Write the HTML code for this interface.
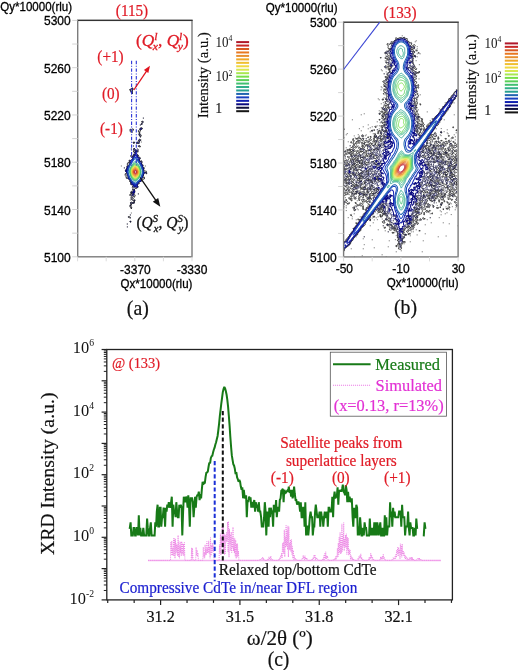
<!DOCTYPE html>
<html lang="en"><head><meta charset="utf-8"><title>XRD reciprocal space maps</title>
<style>
html,body{margin:0;padding:0;background:#fff}
body{width:520px;height:670px;overflow:hidden}
svg{display:block}
.sf{font-family:"Liberation Serif", "Times New Roman", serif}
.ss{font-family:"Liberation Sans", Arial, sans-serif}
</style></head><body>
<svg width="520" height="670" viewBox="0 0 520 670">
<rect width="520" height="670" fill="#fff"/>
<g id="mapA"><path d="M132.3 94.0l-.5-1 -.5-.3 -.6-.7 .2-1 -.6-.6 -.9-.4 .9-1 1-.1 .7-.9 .3-.3 .3 .3 .7 1 -.7 1 -.2 1 0 1 .2 1zM143.3 122.2l-1 .1 -1-.3 1-1 1 .7 .2 .3zM142.3 124.2l-1 .3 -.5-.5 .5-.4 1 .1 .2 .3zM140.3 137.2l-.3-.2 .2-1 -.9-.5 -.4-.5 .2-1 .2-1 -.3-1 -.7-.7 -.2-.3 .2-.2 1-.6 .3-.2 .3-1 .3-1 .1 0 1-.3 1 .3 0 1 -1 .5 -.9 .5 .1 1 -.2 0 -.7 1 .3 1 -.2 1 .6 .6 1 .4 -.3 1 -.4 1zM132.3 132.2l-1-.2 -.8 0 -.2-.1 -.1-.9 -.3-1 .4-1 1 .9 1-.9 0-.2 .2 .2 .8 0 .2 1 -.2 .2 -1-.2 -1 1 1 .7 .2 .3zM139.3 143.5l-1 0 -1-.2 -1-.1 -.3-.2 .3-.3 1-.1 .9-.6 -.3-1 .4-.1 .7-.9 .3-1 1 .7 .9 .3 -.9 .4 -.5 .6 -.4 1 0 1zM134.3 143.2l-1 0 -.2-.2 .2-1 .1 0 .9 0 .3 0 0 1zM139.3 147.0l-1-1 -.4 0 .4 0 1-.4 1 .4 0 1zM134.3 197.2l-.3-.2 -.7-.9 -1 0 -.1-.1 -.9-.9 -1 .1 -.9-.2 .9-.3 1-.7 -.9-1 .6-1 .3-.9 1 .8 1-.7 .2-.2 -.2-.3 -1-.7 .9-1 -.6-1 -.3-.5 -.3-.5 .3 0 .7-1 0-1 -.7-.6 -1 .6 -1-1 .7-1 -.7-.7 -.3-.3 -.5-1 .5-1 -.7-.5 -1-.4 -.1-.1 -.9-.9 -1 .1 -.2-.2 .2-1 -.7-1 -.3-.4 0-.6 -.3-1 .3-.3 1 .2 .7-.9 -.7-.8 -.3-.2 -.7-.7 -.3-.3 .3-.4 .5-.6 .4-1 .1-.1 .7-.9 -.1-1 .2-1 .2-.4 .6-.6 -.6-.6 -.2-.4 .2-.3 .7-.7 .3-.9 1 .9 .5-1 -.5-.6 -.3-.4 .3-1 1 .5 .8-.5 .2-.1 1-.5 .4-.4 .1-1 0-1 -.5-1 -1 .9 -1-.9 1-.9 1 .9 1-.1 .4-.9 -.1-1 .7-.1 .3 .1 .7 .2 .2-.2 -.2-.2 -.5-.8 -.5-.9 -.9-.1 .2-1 .3-1 -.6-1 1-1 .5 1 .5 .5 .5 .5 .5 .5 1-.1 .5 .6 .5 1 -1 0 -.1 0 -.9-.4 -.4 .4 .4 .7 .1 .3 .5 1 .4 .6 1 .4 .1 1 -.1 .2 -.4 .8 .4 .3 1-.2 1 .6 .3 .3 -.3 .3 -.5 .7 -.4 1 .4 1 .5 .5 .4-.5 .6-.4 .4 .4 .5 1 -.4 1 -.2 1 .7 .6 1 .4 -.5 1 0 1 .5 .6 1 .1 .3 .3 -.3 0 -.5 1 -.1 1 .6 1 1 0 0 .1 1 0 .1 .9 .4 1 -.1 1 -.4 0 -.7-1 -.3-1 -.4 1 -.6 .5 -.7 .5 0 1 -.2 1 -.1 .1 -.4 .9 .4 .9 1-.8 .2 .9 -.2 1 -.1 0 -.9 .3 -1-.2 -.8 .9 0 1 -.2 .3 -1 .3 -1 .1 -.4 .3 .4 .9 .3 .1 -.3 .5 -.3 .5 -.7 .1 -1 .6 -.3 .3 .3 .3 .5 .7 .5 1 -1 1 -1 .6 -1-.1 -.9 .5 .2 1 .2 1 .1 1 -.5 1 -.1 .2 -.6 .8 .6 .9 .9 .1 -.2 1 -.5 1zM132.8 194.0l-.1-1 -.4-.8 -.6 .8 -.4 1 1 .4zM132.3 200.3l-.4-.3 -.6-.6 -.3-.4 .2-1 -.3-1 .4-.5 .5 .5 .5 .6 1 .4 -.2 1 -.4 1zM131.3 209.0l-.3-1 -.7-1 -.4 0 .1-1 .1-1 .2-.4 1-.6 -1-.7 -.2-.3 .2-.3 1-.7 1 .7 1 0 1-.7 -.9-1 .5-1 .4-.3 1 .3 -.7 1 -.3 1 .2 1 -.2 .2 -1 0 -1 .1 -1 .7 .4 1 -.4 .1 -.6 .9 .6 .9 .5 .1 -.2 1zM129.3 218.0l-1-.8 -.2-.2 .2-.3 1-.2 1 .5zM130.3 222.3l-.3-.3 .1-1 .2-.2 .3 .2 .6 1z" fill="none" stroke="#161616" stroke-width="0.77" stroke-linejoin="round"/><path d="M142.9 118.2h.8M139.9 125.0h.8M140.9 142.0h.8M133.1 146.0h.8M130.9 149.0h.8M136.9 149.0h.8M138.0 150.0h.8M128.8 163.9h.8M120.9 166.0h.8M144.9 166.0h.8M123.9 167.8h.8M126.8 177.1h.8M134.9 187.0h.8M137.9 193.8h.8M129.9 200.0h.8M130.9 213.0h.8M129.9 214.9h.8M129.9 217.8h.8M126.8 224.0h.8M126.9 226.8h.8" fill="none" stroke="#161616" stroke-width="0.8"/><path d="M131.3 92.5l-.4-.5 .2-1 -.8-.9 -.3-.1 .3-.3 1-.4 .3-.3 .6-1 .1-.1 .1 .1 .4 1 -.4 1 -.1 .4 -.5 .6 .3 1zM143.3 122.0l-1 .1 -.2-.1 .2-.2 1 .2zM142.3 124.0l-1 .2 -.2-.2 .2-.2 1 .1 0 .1zM141.3 129.3l-1 .3 -.2-.6 .2-.6 .6-.4 .4-.1 .3 .1 .3 1zM140.3 135.4l-1-.1 -.2-.3 .1-1 .1-.3 .1 .3 .9 .9 .3 .1zM139.3 141.6l-.6-.6 .5-1 .1-.3 1 .2 .2 .1 -.2 .1 -.7 .9zM134.3 143.0l-1 0 0-.2 1 0 .1 .2zM138.3 143.3l-1-.2 -1-.1 1-.1 1-.6 .7 .7zM135.3 150.9l-1-.5 -.1-.4 -.4-1 .5-.5 .3 .5 .7 .7 .3 .3zM137.3 151.6l-1-.3 -.9-.3 .9-.3 1 0 .3 .3zM135.3 153.4l-.3-.4 -.3-1 .6-.9 .3 .9 .4 1zM137.3 187.6l-1 0 -.3-.6 -.7-.4 -.7 .4 -.3 .5 -1-.1 -.4-.4 .3-1 .1-1 -1-.8 -1 .3 -.5-.5 .5-.9 0-.1 1-1 -1 1 -1-.9 -.1-.1 .1-.5 .1-.5 -.1-.7 0-.3 -1-.7 -.7-.3 -.3-.3 -.6-.7 .6-.8 .1-.2 -.1-.3 -1-.6 -.4-.1 .4-.8 0-.2 .1-1 -.1-.3 -.1-.7 -.9-1 -1-.9 -.1-.1 .1-.1 .7-.9 .3-.7 .6 .7 .4 .5 .2-.5 -.2-.3 -.8-.7 .8-1 -.2-1 .1-1 .1-.1 .9 .1 .1 0 1-1 .4-1 .5-1 -.1-1 -.8-.9 -.1-.1 .1-.2 1-.1 1-.3 .2-.4 .8-.4 .7-.6 -.1-1 .1-1 .3-.7 .7-.3 -.1-1 .4-.7 1 .2 .5-.5 .5-.8 .4 .8 .6 .8 .3 .2 .4 1 -.4 1 .7 .6 1 0 1 .4 0 .1 -.7 .9 -.3 .7 -.3 .3 .3 .3 .3 .7 .7 .8 .7-.8 .3-.2 .2 .2 .2 1 -.1 1 -.3 1 1 .9 .4 .1 -.1 1 -.1 1 .8 .8 .4 .2 -.1 1 -.2 1 .4 1 .2 1 .3 .3 .3 .7 -.3 .3 -1 .7 .1 1 -.1 .4 -.3 .6 -.4 1 -.3 .7 -.3 .3 .1 1 -.8 .9 -.2 .1 .2 .4 .1 .6 -.1 .1 -1 .3 -1 .1 -.7 .5 .1 1 -.4 .5 -.3 .5 -.7 .4 -.5 .6 .5 .6 .3 .4 .3 1zM133.3 195.6l-1 0 -.6-.6 .6-.3 .8-.7 -.1-1 -.5-1 .8-.5 .6-.5 -.6-.6 -.5-.4 .5-.6 1 .2 .1 .4 .2 1 .1 1 -.4 .9 -.2 .1 -.7 1 .5 1zM131.3 193.2l-.2-.2 .1-1 .1-.2 .4 .2 -.3 1zM134.3 201.3l-.2-.3 .1-1 .1-.1 .2 .1 -.1 1zM134.3 203.0l-1 .1 -1 0 -1 .2 -1-.3 1-.3 1 .2 1 0 1-.1 0 .2zM130.3 206.2l-.1-.2 .1-1 0-.1 .2 .1 -.1 1zM130.3 222.1l-.1-.1 .1-1 .2 1z" fill="none" stroke="#10103c" stroke-width="0.77" stroke-linejoin="round"/><path d="M131.9 93.0h.8M142.9 118.0h.8M139.9 125.0h.8M130.0 130.0h.8M132.9 130.0h.8M137.9 131.0h.8M131.9 132.0h.8M138.9 132.0h.8M139.9 137.0h.8M132.9 146.0h.8M138.9 146.1h.8M130.9 149.0h.8M136.9 149.0h.8M137.9 150.0h.8M130.9 156.0h.8M127.9 163.0h.8M126.9 164.0h.8M128.1 165.1h.8M123.9 168.0h.8M145.9 173.0h.8M124.9 174.0h.8M126.0 175.0h.8M125.9 178.0h.8M143.9 178.0h.8M134.9 188.0h.8M137.9 194.0h.8M129.9 195.0h.8M130.9 197.1h.8M133.9 197.0h.8M131.9 198.1h.8M131.0 198.9h.8M131.9 200.0h.8M130.9 208.0h.8M129.9 215.0h.8M127.9 217.0h.8M129.9 218.0h.8M126.9 224.0h.8M126.9 227.0h.8" fill="none" stroke="#10103c" stroke-width="0.8"/><path d="M141.3 129.0l-1 .1 0-.1 0-.1 1-.2 .1 .3zM137.3 151.1l-1-.1 -.1 0 .1 0 1 0zM135.3 153.0l-.1-1 .1-.1 0 .1 .1 1zM137.3 187.1l-.5-.1 -.5-.2 -1-.5 -1 .4 -.7-.7 0-1 .7-1 -.1 0 -.9 .5 -.9-.5 -.1-.1 -.6-.9 .6-.6 .3-.4 -.3-.4 -.8 .4 -.2 .2 -.3-.2 -.2-1 -.2-1 -.3-.4 -1-.5 -.2-.1 -.8-.8 -.2-.2 .2-.2 .6-.8 -.5-1 -.1 0 -.6-1 -.1-1 -.1-1 -.2-.2 -.7-.8 .7-1 .4-1 -.4-.7 -.4-.3 .4-.5 .4-.5 -.4-.8 0-.2 0-.2 1-.2 .5-.6 .5-.5 .4-.5 .2-1 .4-.7 .7-.3 -.4-1 .7-.8 .3-.2 .3-1 .4-.2 .9-.8 -.1-1 .1-1 .1-.2 1-.4 .3-.4 -.3-.5 -.2-.5 .2-.3 1 .1 .4 .2 .6 .4 1 0 .3 .6 -.2 1 .9 .9 .6 .1 .4 .6 0 .4 0 .1 -1 .9 .9 1 .1 .1 .7 .9 .2 1 .1 .1 .7 .9 .3 .5 .6 .5 .4 .6 .1 .4 -.1 1 .8 1 .2 .5 .1 .5 -.1 .5 -.2 .5 .1 1 .1 .8 0 .2 1 .9 .1 .1 -.1 0 -1 .6 -.4 .4 .1 1 -.5 1 -.1 1 -.1 .2 -.9 .8 .3 1 -.4 .4 -.7 .6 .3 1 -.6 .2 -1 .1 -1 .7 0 .3 -.2 .7 -.6 1 -.2 .1 -.8 .9 .8 .9 .1 .1 0 1zM126.3 171.4l-.5-.4 .5-1 0-.1 .1 .1 .8 1zM133.3 193.3l-.1-.3 -.3-1 .4-.2 .9-.8 .1-.4 .1 .4 .1 1 -.2 .5 -.8 .5zM133.3 195.1l-1 0 -.1-.1 .1 0 1-.3 .1 .3z" fill="none" stroke="#080880" stroke-width="1.01" stroke-linejoin="round"/><path d="M131.9 89.0h.8M130.9 90.1h.8M131.0 91.9h.8M129.9 130.0h.8M138.9 135.0h.8M138.9 141.0h.8M137.8 143.0h.8M138.9 146.0h.8M133.9 149.0h.8M134.9 150.0h.8M135.9 154.0h.8M130.0 161.1h.8M140.8 162.9h.8M145.9 173.0h.8M131.0 184.0h.8M132.9 190.0h.8" fill="none" stroke="#080880" stroke-width="0.8"/><path d="M136.3 184.6l-1 .3 -.5-.9 -.5-.5 -1 .5 -1-.8 -.1-.2 .1-.1 .5-.9 -.5-.7 -1-.2 0-.1 -.4-1 -.6-.9 -.3-.1 -.7-.5 -.4-.5 .4-.8 .1-.2 -.1-.2 -.4-.8 -.6-.6 -.3-.4 -.1-1 -.1-1 -.5-.6 -.4-.4 .4-.5 .3-.5 .4-1 -.6-1 .6-1 .3-.7 .3-.3 .7-1 .7-1 .1-1 .2-.3 1-.4 .3-.3 -.3-1 1-.6 .2-.4 -.1-1 .9-.6 .4-.4 -.4-1 .8-1 .2-.1 .7-.9 .3-.6 1 .5 .5 .1 -.1 1 .6 .4 .8 .6 -.1 1 -.7 .9 0 .1 1 .5 .5 .5 .5 .9 .1 .1 .4 1 .5 .6 .4 .4 .5 1 .1 .3 .4 .7 .2 1 .4 .9 .1 .1 .2 1 0 1 .1 1 .2 1 .4 .7 .3 .3 -.3 .2 -.9 .8 0 1 -.1 .4 -.3 .6 -.5 1 -.2 .2 -.3 .8 .2 1 -.9 .6 -.2 .4 -.1 1 -.7 .1 -1 .6 -.4 .3 -.5 1 -.1 .2 -.5 .8zM136.3 186.2l-1-.2 -1 .1 -.1-.1 -.2-1 .3-.5 .9 .5 .1 .9 1-.4 .4 .5z" fill="none" stroke="#1020b0" stroke-width="1.01" stroke-linejoin="round"/><path d="M130.9 92.0h.8M133.7 192.0h.8" fill="none" stroke="#1020b0" stroke-width="0.8"/><path d="M135.3 184.0l-.3 0 -.7-.1 -.9-.9 -.1-.1 -.8-.9 -.2-.2 -.7-.8 -.3-.4 -.4-.6 -.6-.8 -.1-.2 -.6-1 -.3-.7 -.1-.3 -.5-1 -.3-1 -.1-.5 -.1-.5 -.4-1 -.2-1 .1-1 .3-1 .3-1 .3-1 .3-1 .4-1 .5-1 .5-.9 .1-.1 .6-1 .3-.5 .3-.5 .6-1 .1-.1 .6-.9 .4-.7 .2-.3 .7-1 .1-.1 1-.6 1 .4 .2 .3 .7 1 .1 .2 .4 .8 .6 .9 .1 .1 .6 1 .3 .5 .3 .5 .6 1 .1 .1 .5 .9 .4 1 .1 .1 .4 .9 .3 1 .3 .8 .1 .2 .3 1 .2 1 0 1 -.1 1 -.3 1 -.2 .5 -.2 .5 -.3 1 -.4 1 -.1 .3 -.3 .7 -.6 1 -.1 .2 -.6 .8 -.4 .5 -.5 .5 -.5 .6 -.5 .4 -.5 .6 -.5 .4 -.5 .5 -.9 .5z" fill="none" stroke="#1840c0" stroke-width="1.01" stroke-linejoin="round"/><path d="M135.3 183.0l-.1 0 -.9-.2 -1-.8 -1-.9 -.1-.1 -.8-1 -.1-.1 -.6-.9 -.4-.6 -.2-.4 -.5-1 -.3-.7 -.1-.3 -.4-1 -.2-1 -.3-1 0-.2 -.1-.8 0-1 .1-.4 .1-.6 .3-1 .3-1 .3-.9 0-.1 .4-1 .6-1 0-.1 .6-.9 .4-.6 .3-.4 .7-1 .7-1 .3-.5 .4-.5 .6-.9 .2-.1 .8-.4 .8 .4 .2 .1 .7 .9 .3 .4 .4 .6 .6 .9 .1 .1 .6 1 .3 .3 .4 .7 .6 1 .5 1 .4 1 .1 .2 .3 .8 .3 1 .3 1 .1 .5 .1 .5 0 1 -.1 .9 0 .1 -.2 1 -.3 1 -.4 1 -.1 .3 -.3 .7 -.4 1 -.3 .5 -.3 .5 -.7 .9 -.1 .1 -.9 .9 -.1 .1 -.9 .8 -.2 .2 -.8 .6 -1 .4z" fill="none" stroke="#2064b0" stroke-width="1.01" stroke-linejoin="round"/><path d="M135.8 181.1l-.5 .2 -.5-.1 -.3-.2 -.2-.1 -.5-.3 -.2-.1 -.3-.3 -.3-.2 -.2-.2 -.3-.3 -.2-.3 -.2-.2 -.3-.5 -.3-.5 -.2-.4 -.1-.1 -.2-.5 -.2-.4 0-.1 -.2-.5 -.2-.5 -.1-.4 0-.1 -.2-.5 -.1-.5 -.1-.5 -.1-.2 -.1-.3 -.1-.5 -.1-.5 0-.5 0-.5 .1-.5 .1-.5 .1-.3 .1-.2 .1-.5 .2-.5 .1-.3 .1-.2 .2-.5 .2-.5 .2-.5 .3-.5 .3-.5 .2-.3 .1-.2 .4-.5 0-.1 .3-.4 .2-.2 .2-.3 .3-.3 .1-.2 .4-.4 .1-.1 .4-.5 .5-.5 .5-.2 .4 .2 .1 .1 .4 .4 .1 .1 .3 .4 .2 .2 .2 .3 .3 .3 .1 .2 .4 .4 0 .1 .5 .5 .4 .5 .1 .2 .2 .3 .3 .4 0 .1 .3 .5 .2 .4 0 .1 .2 .5 .2 .5 .1 .4 0 .1 .1 .5 .2 .5 .1 .5 .1 .5 0 .1 .1 .4 .1 .5 -.1 .5 0 .5 -.1 .4 0 .1 -.1 .5 -.1 .5 -.1 .5 -.1 .5 -.1 .2 -.1 .3 -.2 .5 -.2 .5 -.2 .5 -.3 .5 -.3 .5 -.2 .3 -.2 .2 -.3 .5 -.4 .5 -.1 .1 -.4 .4 -.1 .1 -.5 .4 -.5 .3 -.3 .2z" fill="none" stroke="#28a090" stroke-width="0.90" stroke-linejoin="round"/><path d="M135.3 180.6l-.4-.1 -.1 0 -.5-.2 -.5-.3 -.5-.4 -.2-.1 -.3-.3 -.2-.2 -.3-.4 -.1-.1 -.3-.5 -.1-.2 -.2-.3 -.2-.5 -.1-.1 -.2-.4 -.2-.5 -.1-.3 -.1-.2 -.1-.5 -.1-.5 -.2-.5 0-.2 -.1-.3 -.1-.5 -.1-.5 -.1-.5 0-.5 0-.5 .1-.5 .1-.5 .1-.5 .1-.2 .1-.3 .2-.5 .2-.5 0-.1 .2-.4 .2-.5 .1-.2 .2-.3 .3-.5 .3-.5 .2-.3 .2-.2 .3-.4 .1-.1 .4-.5 .5-.5 .5-.5 .5-.4 .1-.1 .4-.1 .3 .1 .2 .1 .4 .4 .1 .1 .4 .4 .1 .1 .4 .4 .1 .1 .4 .4 .1 .1 .3 .4 .2 .2 .2 .3 .3 .4 .1 .1 .3 .5 .1 .3 .1 .2 .2 .5 .2 .5 .1 .5 .2 .5 .1 .5 .1 .4 0 .1 .1 .5 .1 .5 .1 .5 0 .5 -.1 .5 -.1 .5 -.1 .5 0 .3 0 .2 -.1 .5 -.2 .5 -.1 .5 -.1 .2 -.1 .3 -.2 .5 -.2 .3 -.1 .2 -.3 .5 -.1 .2 -.2 .3 -.3 .4 -.1 .1 -.4 .5 -.5 .5 -.1 0 -.4 .4 -.2 .1 -.3 .2 -.5 .2 -.3 .1z" fill="none" stroke="#30b088" stroke-width="0.90" stroke-linejoin="round"/><path d="M136.3 179.6l-.5 .2 -.5 .1 -.5 0 -.5-.2 -.3-.2 -.2-.1 -.5-.3 -.1-.1 -.4-.4 -.1-.1 -.3-.5 -.1-.1 -.3-.4 -.2-.4 -.1-.1 -.2-.5 -.2-.4 0-.1 -.2-.5 -.2-.5 -.1-.5 -.1-.5 -.1-.5 -.1-.5 -.1-.5 -.1-.4 0-.1 0-.5 0-.5 .1-.5 .1-.5 .1-.5 .2-.5 0-.1 .1-.4 .2-.5 .2-.4 .1-.1 .2-.5 .2-.3 .1-.2 .3-.5 .1-.1 .3-.4 .2-.2 .3-.3 .2-.3 .3-.2 .2-.2 .3-.3 .2-.1 .5-.4 .5-.2 .4 .2 .1 0 .5 .4 .1 .1 .4 .3 .2 .2 .3 .3 .2 .2 .3 .3 .2 .2 .3 .4 .1 .1 .3 .5 .1 .2 .2 .3 .2 .5 .1 .2 .1 .3 .2 .5 .1 .5 .1 .3 .1 .2 .1 .5 .1 .5 .1 .5 0 .5 0 .5 0 .5 -.1 .5 -.1 .5 -.1 .5 -.1 .5 0 .1 -.1 .4 -.2 .5 -.2 .5 0 .1 -.2 .4 -.3 .5 0 .1 -.3 .4 -.2 .3 -.2 .2 -.3 .4 -.1 .1 -.4 .4 -.1 .1 -.4 .3 -.4 .2z" fill="none" stroke="#40c070" stroke-width="0.90" stroke-linejoin="round"/><path d="M136.3 179.0l-.5 .2 -.5 .1 -.5 0 -.5-.2 -.2-.1 -.3-.2 -.5-.3 -.5-.5 -.3-.5 -.2-.2 -.2-.3 -.2-.5 -.1-.1 -.2-.4 -.2-.5 -.1-.4 0-.1 -.2-.5 -.1-.5 -.1-.5 -.1-.5 -.1-.5 -.1-.5 0-.5 0-.5 .1-.5 .1-.4 0-.1 .2-.5 .1-.5 .2-.5 .2-.5 .3-.5 0-.1 .2-.4 .3-.4 .1-.1 .4-.5 0-.1 .4-.4 .1-.1 .5-.4 .5-.4 .2-.1 .3-.2 .5-.1 .5 .1 .3 .2 .2 .1 .5 .4 .5 .4 .1 .1 .4 .4 .1 .1 .3 .5 .1 .1 .2 .4 .3 .5 .2 .5 .2 .5 .1 .2 .1 .3 .1 .5 .1 .5 .2 .5 0 .3 0 .2 .1 .5 0 .5 -.1 .5 0 .3 0 .2 -.1 .5 -.1 .5 -.1 .5 -.1 .5 -.1 .2 -.1 .3 -.2 .5 -.2 .4 -.1 .1 -.3 .5 -.1 .2 -.2 .3 -.3 .3 -.1 .2 -.4 .4 -.2 .1 -.3 .2 -.4 .3z" fill="none" stroke="#58d058" stroke-width="0.90" stroke-linejoin="round"/><path d="M136.3 178.5l-.5 .2 -.5 .1 -.5-.1 -.5-.1 -.1-.1 -.4-.2 -.4-.3 -.1-.1 -.3-.4 -.2-.2 -.2-.3 -.3-.4 0-.1 -.3-.5 -.2-.5 -.2-.5 -.1-.5 -.2-.5 0-.2 -.1-.3 -.1-.5 -.1-.5 0-.5 -.1-.5 .1-.5 .1-.5 .1-.5 .1-.5 .2-.5 .2-.5 .1-.3 .1-.2 .3-.5 .1-.2 .2-.3 .3-.4 .1-.1 .4-.5 .5-.4 .2-.1 .3-.2 .5-.3 .1 0 .4-.1 .5 .1 .5 .2 .4 .3 .1 .1 .5 .4 .4 .5 .1 .1 .3 .4 .2 .3 .1 .2 .2 .5 .2 .4 .1 .1 .1 .5 .2 .5 .1 .4 0 .1 .1 .5 .1 .5 .1 .5 0 .5 -.1 .5 0 .5 -.1 .5 -.1 .4 0 .1 -.1 .5 -.2 .5 -.2 .5 0 .1 -.2 .4 -.2 .5 -.1 .1 -.3 .4 -.2 .3 -.2 .2 -.3 .3 -.2 .2 -.3 .2 -.5 .3z" fill="none" stroke="#78e048" stroke-width="0.90" stroke-linejoin="round"/><path d="M136.3 178.0l-.5 .2 -.5 .1 -.5-.1 -.5-.2 -.5-.3 -.3-.2 -.2-.2 -.2-.3 -.3-.3 -.1-.2 -.3-.5 -.1-.2 -.1-.3 -.2-.5 -.2-.5 -.1-.5 -.1-.5 -.1-.5 -.1-.5 -.1-.5 0-.1 0-.4 0-.3 0-.2 .1-.5 .1-.5 .1-.5 .2-.5 .2-.5 .3-.5 .3-.5 .2-.3 .2-.2 .3-.4 .1-.1 .4-.3 .3-.2 .2-.1 .5-.3 .5-.1 .5 .1 .5 .2 .3 .2 .2 .1 .4 .4 .1 .1 .3 .4 .2 .2 .2 .3 .3 .5 0 .1 .2 .4 .2 .5 .1 .3 .1 .2 .1 .5 .1 .5 .1 .5 0 .5 0 .5 0 .5 0 .5 -.1 .5 -.1 .5 -.2 .5 0 .1 -.1 .4 -.2 .5 -.2 .4 -.1 .1 -.2 .5 -.2 .2 -.2 .3 -.3 .3 -.2 .2 -.3 .2 -.5 .3z" fill="none" stroke="#a8e850" stroke-width="0.90" stroke-linejoin="round"/><path d="M136.3 177.5l-.5 .2 -.5 .1 -.5-.1 -.5-.2 -.5-.3 -.2-.2 -.3-.3 -.1-.2 -.4-.5 -.2-.5 -.3-.5 0-.1 -.1-.4 -.2-.5 -.1-.5 -.1-.4 0-.1 -.1-.5 -.1-.5 0-.5 0-.5 .1-.5 .1-.4 0-.1 .2-.5 .2-.5 .1-.3 .1-.2 .3-.5 .1-.2 .2-.3 .3-.3 .2-.2 .3-.2 .4-.3 .1-.1 .5-.2 .5-.1 .5 .1 .5 .2 .2 .1 .3 .2 .3 .3 .2 .2 .2 .3 .3 .4 0 .1 .3 .5 .2 .4 0 .1 .2 .5 .2 .5 .1 .5 .1 .5 0 .5 0 .5 0 .5 -.1 .5 0 .2 -.1 .3 -.1 .5 -.1 .5 -.2 .5 -.2 .5 -.2 .5 -.1 .1 -.3 .4 -.2 .3 -.3 .2 -.2 .2 -.5 .3z" fill="none" stroke="#d8e850" stroke-width="0.90" stroke-linejoin="round"/><path d="M136.3 177.0l-.5 .2 -.5 .1 -.5-.1 -.4-.2 -.1-.1 -.5-.3 -.1-.1 -.4-.5 -.3-.5 -.2-.3 -.1-.2 -.2-.5 -.1-.5 -.1-.2 -.1-.3 -.1-.5 -.1-.5 -.1-.5 0-.5 .1-.5 0-.5 .2-.5 .1-.4 0-.1 .2-.5 .3-.5 .3-.5 .2-.2 .3-.3 .2-.2 .5-.3 .5-.2 .5-.1 .5 0 .5 .2 .1 .1 .4 .3 .2 .2 .3 .4 .1 .1 .3 .5 .1 .2 .2 .3 .2 .5 .1 .4 0 .1 .2 .5 .1 .5 0 .5 0 .5 0 .5 -.1 .5 -.1 .5 -.1 .5 -.2 .5 -.2 .5 -.1 .3 -.1 .2 -.3 .5 -.1 .2 -.3 .3 -.2 .2 -.5 .3z" fill="none" stroke="#f0d840" stroke-width="0.90" stroke-linejoin="round"/><path d="M135.8 176.7l-.5 0 -.5-.1 -.3-.1 -.2-.1 -.5-.4 -.4-.5 -.1-.2 -.2-.3 -.2-.5 -.1-.2 -.1-.3 -.1-.5 -.2-.5 -.1-.5 0-.2 0-.3 0-.5 0-.5 0-.1 .1-.4 .1-.5 .2-.5 .1-.3 .1-.2 .3-.5 .1-.1 .4-.4 .1-.1 .5-.4 .5-.2 .5-.1 .5 .1 .5 .2 .5 .4 .1 .1 .4 .5 .3 .5 .2 .5 .2 .5 .1 .5 .2 .5 0 .4 0 .1 0 .5 0 .5 -.1 .5 -.1 .5 -.1 .5 -.2 .5 -.2 .5 -.3 .5 -.4 .5 -.1 .1 -.5 .4z" fill="none" stroke="#f0c030" stroke-width="0.90" stroke-linejoin="round"/><path d="M135.8 176.2l-.5 0 -.5-.1 -.2-.1 -.3-.2 -.3-.3 -.2-.2 -.2-.3 -.3-.5 -.2-.5 -.2-.5 -.1-.3 0-.2 -.1-.5 -.1-.5 0-.5 0-.5 .1-.5 .1-.3 .1-.2 .2-.5 .2-.4 0-.1 .4-.5 .1-.1 .5-.4 .1 0 .4-.2 .5-.1 .5 .1 .4 .2 .1 .1 .5 .4 .3 .5 .2 .3 .1 .2 .2 .5 .2 .5 .1 .5 .1 .5 0 .5 0 .5 -.1 .5 -.1 .4 0 .1 -.2 .5 -.2 .5 -.1 .2 -.2 .3 -.3 .5 -.5 .4 -.1 .1z" fill="none" stroke="#f0a828" stroke-width="0.90" stroke-linejoin="round"/><path d="M135.8 175.6l-.5 .1 -.5-.2 -.1 0 -.4-.3 -.2-.2 -.3-.4 -.1-.1 -.2-.5 -.2-.4 -.1-.1 -.1-.5 -.1-.5 -.1-.5 0-.5 .1-.5 .1-.5 .1-.5 .1-.1 .2-.4 .3-.5 .5-.4 .2-.1 .3-.2 .5-.1 .5 .1 .3 .2 .2 .1 .3 .4 .2 .2 .2 .3 .3 .5 0 .1 .1 .4 .2 .5 .1 .5 0 .5 0 .5 -.1 .5 -.2 .5 -.1 .4 -.1 .1 -.2 .5 -.2 .3 -.2 .2 -.3 .3 -.3 .2z" fill="none" stroke="#e89030" stroke-width="0.90" stroke-linejoin="round"/><path d="M135.8 175.0l-.5 .1 -.4-.1 -.1 0 -.5-.4 -.1-.1 -.3-.5 -.1-.1 -.2-.4 -.1-.5 -.2-.5 0-.2 0-.3 0-.5 0-.2 0-.3 .2-.5 .2-.5 .1-.2 .2-.3 .3-.3 .3-.2 .2-.1 .5-.1 .5 .1 .1 .1 .4 .3 .2 .2 .3 .4 0 .1 .3 .5 .1 .5 .1 .4 0 .1 .1 .5 -.1 .5 0 .1 -.1 .4 -.1 .5 -.3 .5 -.3 .5 -.2 .2 -.4 .3z" fill="none" stroke="#e87820" stroke-width="0.90" stroke-linejoin="round"/><path d="M135.3 174.5l-.1 0 -.4-.1 -.4-.4 -.1-.1 -.2-.4 -.3-.5 0-.1 -.1-.4 -.1-.5 0-.5 .1-.5 .1-.3 .1-.2 .3-.5 .1-.2 .4-.3 .1 0 .5-.1 .5 .1 .5 .4 0 .1 .3 .5 .2 .4 0 .1 .2 .5 0 .5 0 .5 -.2 .5 0 .1 -.2 .4 -.3 .5 -.5 .4 -.3 .1z" fill="none" stroke="#d85820" stroke-width="0.90" stroke-linejoin="round"/><path d="M135.8 173.8l-.5 .1 -.5-.2 -.2-.2 -.3-.4 -.1-.1 -.1-.5 -.1-.5 0-.5 .2-.5 .1-.3 .1-.2 .4-.4 .3-.1 .2-.1 .2 .1 .3 .1 .3 .4 .2 .2 .1 .3 .2 .5 0 .5 0 .5 -.2 .5 -.1 .2 -.2 .3z" fill="none" stroke="#c82828" stroke-width="0.90" stroke-linejoin="round"/><path d="M135.8 173.1l-.5 .2 -.5-.3 -.3-.5 -.1-.5 .1-.5 .2-.5 .1-.2 .5-.2 .5 .2 .1 .2 .2 .5 .1 .5 -.1 .5 -.2 .5z" fill="none" stroke="#b0182a" stroke-width="0.90" stroke-linejoin="round"/></g>
<rect x="77.7" y="20.4" width="114.3" height="236.4" fill="none" stroke="#7c7c7c" stroke-width="1.4"/>
<line x1="77.10000000000001" x2="192.6" y1="20.4" y2="20.4" stroke="#333" stroke-width="1.1"/>
<line x1="72.2" x2="77.7" y1="20.40" y2="20.40" stroke="#d4d4d4" stroke-width="1"/>
<line x1="72.2" x2="77.7" y1="44.04" y2="44.04" stroke="#d4d4d4" stroke-width="1"/>
<line x1="72.2" x2="77.7" y1="67.68" y2="67.68" stroke="#d4d4d4" stroke-width="1"/>
<line x1="72.2" x2="77.7" y1="91.32" y2="91.32" stroke="#d4d4d4" stroke-width="1"/>
<line x1="72.2" x2="77.7" y1="114.96" y2="114.96" stroke="#d4d4d4" stroke-width="1"/>
<line x1="72.2" x2="77.7" y1="138.60" y2="138.60" stroke="#d4d4d4" stroke-width="1"/>
<line x1="72.2" x2="77.7" y1="162.24" y2="162.24" stroke="#d4d4d4" stroke-width="1"/>
<line x1="72.2" x2="77.7" y1="185.88" y2="185.88" stroke="#d4d4d4" stroke-width="1"/>
<line x1="72.2" x2="77.7" y1="209.52" y2="209.52" stroke="#d4d4d4" stroke-width="1"/>
<line x1="72.2" x2="77.7" y1="233.16" y2="233.16" stroke="#d4d4d4" stroke-width="1"/>
<line x1="72.2" x2="77.7" y1="256.80" y2="256.80" stroke="#d4d4d4" stroke-width="1"/>
<text class="ss" transform="translate(70.70 25.40) scale(0.935 1)" font-size="12.83" fill="#000" stroke="#000" stroke-width="0.3" text-anchor="end" >5300</text>
<text class="ss" transform="translate(70.70 72.68) scale(0.935 1)" font-size="12.83" fill="#000" stroke="#000" stroke-width="0.3" text-anchor="end" >5260</text>
<text class="ss" transform="translate(70.70 119.96) scale(0.935 1)" font-size="12.83" fill="#000" stroke="#000" stroke-width="0.3" text-anchor="end" >5220</text>
<text class="ss" transform="translate(70.70 167.24) scale(0.935 1)" font-size="12.83" fill="#000" stroke="#000" stroke-width="0.3" text-anchor="end" >5180</text>
<text class="ss" transform="translate(70.70 214.52) scale(0.935 1)" font-size="12.83" fill="#000" stroke="#000" stroke-width="0.3" text-anchor="end" >5140</text>
<text class="ss" transform="translate(70.70 261.80) scale(0.935 1)" font-size="12.83" fill="#000" stroke="#000" stroke-width="0.3" text-anchor="end" >5100</text>
<line x1="192.0" x2="192.0" y1="256.8" y2="261.3" stroke="#dcdcdc" stroke-width="1"/>
<line x1="163.4" x2="163.4" y1="256.8" y2="261.3" stroke="#dcdcdc" stroke-width="1"/>
<line x1="134.8" x2="134.8" y1="256.8" y2="261.3" stroke="#dcdcdc" stroke-width="1"/>
<line x1="106.2" x2="106.2" y1="256.8" y2="261.3" stroke="#dcdcdc" stroke-width="1"/>
<line x1="77.6" x2="77.6" y1="256.8" y2="261.3" stroke="#dcdcdc" stroke-width="1"/>
<text class="ss" transform="translate(135.40 274.00) scale(0.935 1)" font-size="12.83" fill="#000" stroke="#000" stroke-width="0.3" text-anchor="middle" >-3370</text>
<text class="ss" transform="translate(192.00 274.00) scale(0.935 1)" font-size="12.83" fill="#000" stroke="#000" stroke-width="0.3" text-anchor="middle" >-3330</text>
<text class="ss" transform="translate(0.30 11.10) scale(0.935 1)" font-size="12.35" fill="#000" stroke="#000" stroke-width="0.3" text-anchor="start" >Qy*10000(rlu)</text>
<text class="ss" transform="translate(192.40 288.00) scale(0.935 1)" font-size="12.35" fill="#000" stroke="#000" stroke-width="0.3" text-anchor="end" >Qx*10000(rlu)</text>
<text class="sf" font-size="14.7" fill="#111" stroke="#111" stroke-width="0.2" text-anchor="middle" transform="translate(207.7,75.2) rotate(-90)">Intensity (a.u.)</text>
<text class="sf" transform="translate(215.50 46.70) scale(0.935 1)" font-size="13.90" fill="#111" text-anchor="start">10<tspan dy="-5.56" font-size="8.20">4</tspan></text>
<text class="sf" transform="translate(215.50 81.25) scale(0.935 1)" font-size="13.90" fill="#111" text-anchor="start">10<tspan dy="-5.56" font-size="8.20">2</tspan></text>
<text class="sf" transform="translate(215.50 113.40) scale(0.935 1)" font-size="13.90" fill="#111" stroke="#111" stroke-width="0.22" text-anchor="start" >1</text>
<line x1="236.2" x2="249.1" y1="111.20" y2="111.20" stroke="#161616" stroke-width="2"/>
<line x1="236.2" x2="249.1" y1="107.75" y2="107.75" stroke="#10103c" stroke-width="2"/>
<line x1="236.2" x2="249.1" y1="104.29" y2="104.29" stroke="#080880" stroke-width="2"/>
<line x1="236.2" x2="249.1" y1="100.84" y2="100.84" stroke="#1020b0" stroke-width="2"/>
<line x1="236.2" x2="249.1" y1="97.38" y2="97.38" stroke="#1840c0" stroke-width="2"/>
<line x1="236.2" x2="249.1" y1="93.93" y2="93.93" stroke="#2064b0" stroke-width="2"/>
<line x1="236.2" x2="249.1" y1="90.47" y2="90.47" stroke="#28a090" stroke-width="2"/>
<line x1="236.2" x2="249.1" y1="87.02" y2="87.02" stroke="#30b088" stroke-width="2"/>
<line x1="236.2" x2="249.1" y1="83.56" y2="83.56" stroke="#40c070" stroke-width="2"/>
<line x1="236.2" x2="249.1" y1="80.11" y2="80.11" stroke="#58d058" stroke-width="2"/>
<line x1="236.2" x2="249.1" y1="76.65" y2="76.65" stroke="#78e048" stroke-width="2"/>
<line x1="236.2" x2="249.1" y1="73.20" y2="73.20" stroke="#a8e850" stroke-width="2"/>
<line x1="236.2" x2="249.1" y1="69.74" y2="69.74" stroke="#d8e850" stroke-width="2"/>
<line x1="236.2" x2="249.1" y1="66.28" y2="66.28" stroke="#f0d840" stroke-width="2"/>
<line x1="236.2" x2="249.1" y1="62.83" y2="62.83" stroke="#f0c030" stroke-width="2"/>
<line x1="236.2" x2="249.1" y1="59.38" y2="59.38" stroke="#f0a828" stroke-width="2"/>
<line x1="236.2" x2="249.1" y1="55.92" y2="55.92" stroke="#e89030" stroke-width="2"/>
<line x1="236.2" x2="249.1" y1="52.47" y2="52.47" stroke="#e87820" stroke-width="2"/>
<line x1="236.2" x2="249.1" y1="49.01" y2="49.01" stroke="#d85820" stroke-width="2"/>
<line x1="236.2" x2="249.1" y1="45.56" y2="45.56" stroke="#c82828" stroke-width="2"/>
<line x1="236.2" x2="249.1" y1="42.10" y2="42.10" stroke="#b0182a" stroke-width="2"/>
<g id="mapB"><path d="M344.2 154.7l1-.9 1-.1 .8-.9 .2-1 0-.1 .1 .1 .9 .4 1 .6 .9-1 -.3-1 .4-.8 .4 .8 .6 1 1-.4 .5 .4 -.5 .7 -1-.7 -.9 1 .9 .8 1-.5 .4 .7 -.4 .4 -1 .6 .3 1 .7 .4 .8-.4 -.1-1 .3-.3 .9-.7 -.9-1 .9-1 .1-.2 1-.8 1 .8 .3-.8 .7-.6 .7 .6 -.7 1 -1 1 1 .9 .9-.9 .1-.1 .9-.9 -.5-1 .6-.4 .3 .4 .7 .8 1-.6 .8 .8 -.8 .4 -1-.2 -1 .8 -.2 1 .2 .1 1 .6 .4 .3 .6 .5 .4-.5 .6-.6 .4-.4 .6-.8 .6-.2 -.6-.7 -.3-.3 .3-.8 0-.2 -1 .8 -.8-.8 -.2-.2 -1-.8 -.1 0 -.9-.7 -.3-.3 -.3-1 .6-1 .7 1 .3 .3 1 .4 .8 .3 .2 .4 .3-.4 .2-1 .5-.6 .4-.4 .4-1 -.8-.8 -1 .8 .7 1 -.7 .6 -.6-.6 .5-1 0-1 -.1-1 -.8-1 1-1 .6 1 .1 1 .3 .3 .2-.3 .8-.8 .5 .8 -.1 1 .6 .5 .6 .5 -.6 .5 -.5 .5 -.3 1 -.2 .3 -.6 .7 .6 .5 .7 .5 .3 .4 1 .5 1-.2 .6 .3 .4 .6 .3-.6 -.2-1 -.1-.3 -.9-.7 .4-1 .2-1 -.7-.5 -.8-.5 -.2-.4 -.5-.6 .5-.2 1-.3 1 .4 1 .1 .6-1 -.6-.9 -1-.1 -1-.9 -1 .1 -1 .7 -1-.3 -.1-.6 .1-.4 .5-.6 .5-.1 1-.2 1 .3 1 .3 1 .3 .7 .4 .3 .4 .5 .6 .3 1 .2 .7 .3 .3 .7 .6 1 0 1-.4 .9-.2 0-1 0-1 -.6-1 .7-.8 .1-.2 .9-.6 .5 .6 .4 1 -.9 .7 -.8 .3 .4 1 -.6 1 1 .7 .6 .3 .4 .6 1-.3 0-.3 .1-1 -.1-.6 -.1-.4 0-1 .1-.5 .2-.5 -.2-.2 -.3-.8 -.7-.8 -.3-.2 .3-.4 1-.1 .2-.5 -.2-.2 -1-.3 -1-.2 -.5-.3 -.4-1 -.1-.2 -1-.8 1-1 -.9-1 .9-.4 .4 .4 -.4 1 1 .5 .4 .5 0 1 .6 .8 1-.8 1-.9 .2-.1 .8-.3 .9 .3 0 1 .1 .2 .2-.2 .8-.4 .3-.6 -.3-.5 -.7-.5 0-1 -.3 0 -.9-1 .2-1 .7-.3 .7-.7 -.1-1 0-1 .4-.6 .4-.4 .6-.9 .1-.1 -.1-.3 -.1 .3 -.9 .7 -.9-.7 -.1-.2 -.6-.8 .6-.2 1 .1 1-.2 .2-.7 .8-.4 .9 .4 .1 .3 .3-.3 -.3-.8 0-.2 -.7-1 -.1-1 -.2-.8 -.1-.2 -.9-1 .6-1 .4-.3 1 .1 .7-.8 -.7-1 -.3-1 -.5-1 .2-1 -.4-.9 -.8 .9 .5 1 -.7 .9 -.1 .1 -.9 .9 -.3-.9 -.1-1 .4-.2 1-.8 -.3-1 -.7-.7 -1 .1 -.6-.4 .6-.7 1 .2 1 .4 .1 .1 .9 1 .9-1 -.6-1 -.2-1 -.1-.1 -1 0 -.9-.9 .1-1 .8-.5 .7-.5 .2-1 -.1-1 .2-.1 .3 .1 .7 .8 1-.2 .6 .4 -.6 .1 -.7 .9 0 1 .5 1 .2 .1 .4-.1 .5-1 .1-.9 .6 .9 .4 .2 .3-.2 0-1 -.3-.2 -.8-.8 .8-.6 .3-.4 -.3-.9 -1 .9 -.7-1 -.3-.7 -.4-.3 -.6-.3 -.5-.7 .5-.2 1 0 .7-.8 -.7-.6 -.5-.4 0-1 .3-1 .2-.3 .8-.7 -.3-1 .3-1 -.8-.9 -.3-.1 -.4-1 -.3-.6 -1 .1 -.2-.5 -.3-1 .1-1 .4-1 0-.2 0 .2 .6 1 .4 .7 .2-.7 .5-1 .1-1 -.7-1 0-1 -.1-.1 -1 .1 .1 1 -.1 .2 0-.2 0-1 -.5-1 .5-1 .4-1 -.4-.3 -1-.3 -.5-.4 .5-.9 1 .1 .2-.2 .8-.4 .5-.6 0-1 .5-.4 .5 .4 .5 .3 .4-.3 -.4-.4 -.5-.6 .5-.7 1-.2 .1-.1 -.1-.2 -.5-.8 -.5-.5 -.1-.5 -.4-1 .5-.3 .8-.7 .2-.3 1-.3 .5-.4 -.5-.9 -.2-.1 .2-.3 .1-.7 .9-1 .6-1 0-1 -.6-.5 -1 .5 0 .1 -1 .4 -.5 .5 -.5 .3 -.3-.3 -.7-.6 -.8 .6 -.2 .1 -.2-.1 -.6-1 .8-.9 .3-.1 .7-.1 .1 .1 .9 1 1-.2 .9-.8 -.5-1 .3-1 -.7-.3 -.8-.7 -.2-.6 -.2 .6 -.8 .4 -.3-.4 0-1 .3-.3 .7-.7 0-1 .2-1 -.9-.6 -1 .4 -.1-.8 .1-.5 1-.3 .1-.2 .9-.8 1 .6 0 .2 .1 1 -.1 0 -.9 1 .6 1 .3 .3 .5-.3 .1-1 .4-.7 .4-.3 .6-.7 .1-.3 -.1-.9 -1 0 -.5-.1 -.5-.4 -.6-.6 -.4-.7 -.1-.3 -.9-.5 -.7 .5 -.3 .3 -.1-.3 -.5-1 .6-.7 .4-.3 .6-.5 1-.2 1 .1 .6-.4 .4-1 0-.5 .1 .5 .9 .2 .1-.2 .4-1 -.5-.8 -1 .7 -1-.3 -.2-.6 .1-1 .1-.2 .4-.8 -.4-.4 -1-.4 -.1-.2 .1-1 1-.3 .1 .3 .9 .9 .5-.9 .5-.4 .9 .4 .1 .3 .1-.3 -.1-.5 -.1-.5 0-1 .1-.3 .5 .3 .5 .2 .9-.2 .1 0 .9-1 .1-.2 1-.2 .6-.6 .1-1 -.2-1 .5-.1 .4 .1 .6 .7 1-.1 1-.6 1-.2 1 .1 .4 .1 .6 .4 .8-.4 .2-.1 1-.5 .7 .6 .3 .4 1 .3 1 0 0 .3 .1 1 .5 1 .4 .4 .7 .6 .3 .2 .9 .8 .1 .2 .2-.2 .8-.4 .4 .4 .1 1 -.4 1 -.1 .1 -.9 .9 .9 .7 1-.5 .2-.2 .8-.1 .7-.9 .3-.5 .2 .5 .8 .9 .1 .1 -.1 .1 -.8 .9 .3 1 -.3 1 -.2 .1 -1 .1 -.1-.2 -.7-1 -.2-.5 -.2 .5 -.8 .5 -.5 .5 .5 .8 1-.3 .8 .5 .2 .4 .5 .6 -.5 .4 -.3 .6 .3 .5 .4-.5 .6-.7 .7 .7 -.5 1 -.2 .2 -1 .5 -.1 .3 .1 .5 .2 .5 .8 .6 1-.1 .3 .5 .3 1 -.6 .6 -.6-.6 -.4-.5 -1-.3 -.5 .8 .2 1 .3 .1 .3 .9 -.3 .6 -.3 .4 .2 1 -.2 1 .3 .7 .2 .3 0 1 .6 1 .2 .3 .5 .7 .3 1 .2 .8 .2 .2 .8 .4 .6 .6 -.6 1 0 .1 -.1-.1 -.9-.5 -.3-.5 -.7-.7 -.4-.3 -.6-.4 -1 .2 -.1 .2 .1 .1 1 .5 .3 .4 -.3 .6 -.2 .4 .2 .6 1 .2 .2 .2 .8 .7 1 0 .1 .3 .9 1 1 0 .6-1 .4-.6 .4 .6 -.3 1 -.1 .1 -1 .1 -1-.1 -.8 .9 -.2 .1 -1 .7 -.6-.8 -.4-.4 -.3 .4 .3 .4 .8 .6 .2 .3 1 .6 .5 .1 -.3 1 -.2 .3 -.6 .7 .6 .7 .4 .3 -.4 .2 -1 .1 -.6 .7 .2 1 .4 .7 1 .1 .4 .2 0 1 -.4 .7 -.5 .3 -.5 .6 -.3 .4 .3 .2 1 .4 .7 .4 .3 .3 .4-.3 .5-1 .1-.4 .3 .4 .2 1 -.4 1 .7 1 -.8 .4 -.3-.4 -.7-.6 -1 .4 -.1 .2 .1 .2 .4 .8 -.4 .9 -.2 .1 .2 .1 .8 .9 .2 .4 .1 .6 -.1 .5 -.6 .5 .6 .8 .9 .2 -.6 1 .7 .3 .6 .7 -.6 .5 -.4 .5 -.1 1 -.5 .2 -1 .2 -1 0 -.3 .6 -.6 1 .5 1 -.1 1 .5 .5 .7-.5 .3-.1 1 0 0 .1 .2 1 0 1 -.2 .5 -1-.4 0-.1 -1-.7 -.9 .7 .9 1 .2 0 .8 .2 .7 .8 -.7 .6 -.5 .4 .5 .6 1 .2 .2 .2 -.2 .2 -1 .1 -.9 .7 .7 1 .2 .3 1 .4 .2 .3 -.1 1 -.1 .6 -.2-.6 -.8-.3 -.3 .3 -.2 1 -.1 1 -.4 .9 -.2 .1 .2 .1 .1-.1 .9-.5 1-.1 .5-.4 .5-.2 .2 .2 .4 1 -.6 .5 -.6 .5 .6 .5 1 0 .6 .5 -.6 .9 -1-.1 -.2 .2 .2 .6 .2 .4 -.2 .4 -.2 .6 .2 .3 .4-.3 .6-.4 .2 .4 -.1 1 -.1 .2 -.5 .8 -.5 .6 -.5-.6 -.5-.4 -.3 .4 .3 .3 .8 .7 .2 .5 1 .2 1 .2 .1 .1 -.1 .2 -.2 .8 .2 .5 .2-.5 .8-.8 .8 .8 -.5 1 0 1 -.3 .5 -.5-.5 -.5-.7 -.4 .7 -.5 1 -.1 1 1 .4 .5-.4 .5-.6 .4 .6 .2 1 -.6 .7 -.6 .3 -.1 1 0 1 .7 .7 .7-.7 .3-.2 .7-.8 .3-1 0-.1 1-.6 .3-.3 .7-.4 1-.5 .2-.1 .7-1 -.6-1 .4-1 .2-1 .1 0 1 .6 .2 .4 .8 .2 .2-.2 -.2-.5 -.7-.5 .7-.6 .9-.4 -.3-1 .4-.7 1-.1 .3-.2 .7-.4 .7-.6 -.2-1 .5-.6 .3-.4 .7-.9 .4-.1 .5-1 .1 0 .9-1 .1-.1 1-.6 .4-.3 .6-.9 .1-.1 .8-1 .1-.3 .5-.7 .4-1 .1-.3 .3-.7 .7-.8 .3-.2 .7-.3 .7-.7 -.3-1 .6-.2 1-.5 .2-.3 .6-1 .2-.5 .5-.5 .5-.5 .3-.5 .7-1 1-1 .3-1 .3-1 .4-.4 .8 .4 .2 .2 .1-.2 0-1 .8-1 .1-.6 .2-.4 .8-.4 .7-.6 .3-.7 .3-.3 .6-1 .1-.2 .7-.8 .3-.6 1 .1 .4-.5 -.3-1 .9-.5M417.2 50.8l-1 .2 -.2-.2 -.1-1 .3 0 .1 0 .9 .9 .2 .1zM419.2 53.2l-1-.2 -.1-.2 .1-.1 1 .1zM381.2 58.0l-1-.1 -.1-.1 .1-.1 1-.1 .1 .2zM389.2 69.5l-1 .3 0-1 0-.1 1-.4 1 .5zM386.2 77.1l-1 .4 -.2-.7 .2-.4 1 .3 .5 .1zM386.9 83.8l.3-.6 .2-.4 -.2-.4 -1 .2 -.4 .2 -.4 1 .8 .8zM384.2 93.8l-1 .2 0-.2 0-.1 1 .1zM457.2 95.9l-1 .9 -.8 1 .1 1 -.3 .4 -1 .6 -1 .9 -.1 .1 -.2 1 -.3 1 -.4 .4 -.6 .6 -.4 1 -.8 1 -.1 1 -.1 .3 -1 .6 -.1 .1 -.7 1 -.2 1 0 .3 -1 0 -.5 .7 .2 1 -.7 .3 -1 .4 -.2 .3 .2 .4 .2 .6 -.2 .3 -.8 .7 -.2 .5 -.7 .5 -.3 .1 -.7 .9 -.3 .6 -.5 .4 .2 1 -.5 1 -.2 .1 -.9 .9 -.1 .3 -.5 .7 0 1 -.5 .5 -.7 .5 -.2 1 -.1 0 -1 1 -.3 0 -.7 0 -.8 1 .2 1 -.4 .1 -.7 .9 -.3 .7 -.3 .3 -.7 .9 0 .1 -.7 1 -.3 .2 -.6 .8 -.4 .7 -.4 .3 -.6 .8 -.1 .2 .1 .4 .4 .6 .6 .6 .6-.6 -.6-.7 -.5-.3 .5-.3 1 .1 1-.2 1-.4 .3-.2 .1-1 .6-.4 .1 .4 .9 .8 .2 .2 -.2 .6 -.5 .4 .5 .2 .6 .8 -.6 .5 -1 .4 -1-.6 -.6-.3 -.4-.3 -.4 .3 -.4 1 .4 1 .4 .3 1 .2 1 .3 .4 .2 -.4 .2 -1 .2 -1 0 -.7 .6 -.3 .7 -.7-.7 -.3-.4 -.3-.6 .3-.6 .3-.4 -.3-.3 -1 0 -.3 .3 -.7 1 -1-.4 -.3 .4 -.7 .6 -.4 .4 .3 1 .1 .1 .2-.1 .8-.9 1 .4 .7 .5 .3 .4 .6 .6 -.1 1 0 1 .5 .2 .8 .8 .2 .3 1 0 .3-.3 .7-.6 .6-.4 .1-1 .3-.7 .1-.3 .8-1 .1-.1 0 .1 .5 1 -.1 1 .6 .8 .1 .2 .9 .7 .6 .3 -.6 .5 -1 .5 1 .4 1 .2 .2-.6 .7-1 .1 0 1 .5 .9-.5 -.5-1 .6-.2 .8-.8 .2-.9 1 .4 1-.5 1-.8 .5 .8 .5 .9 0 .1 .3 1 -.3 .4 -.1-.4 -.9-1 -.7 1 .3 1 -.6 .8 -.2 .2 -.8 .7 -.4 .3 -.5 1 .1 1 -.2 .5 -1-.2 -.5-.3 .5-.6 .4-.4 -.4-.5 -.5 .5 -.5 .4 -.6 .6 .6 .8 .1 .2 .9 .7 .3 .3 .7 .9 .2 .1 .8 .7 1-.5 1 .2 1 0 .7 .6 -.7 .8 -1 0 -1-.2 -1-.3 -1-.1 -.4 .8 .4 .7 1 .1 1-.2 1-.2 1-.1 .7 .7 .3 .3 .3 .7 -.3 .3 -1-.1 -.1-.2 -.9-.6 -.4 .6 .4 .6 .6 .4 .4 .3 1 .5 .7-.8 .3-.4 .5-.6 -.5-.5 -.8-.5 .8-.8 .4-.2 .6-.1 .5 .1 .5 .6 1-.2 .5 .6 .5 .5 .3 .5 -.3 1 -1-.8 -.8 .8 .8 1 .1 0 -.1 .2 -.4 .8 .4 .2 .7 .8 -.3 1 .6 .4 .6 .6 .4 .3 1 .4 .9-.7 .1-.1 .5-.9 -.5-.9 -.7 .9 -.3 .3 -1-.3 .7-1 -.7-.7 -1-.2 -.2-.1 .2-.1 .9-.9 .1-.1 .3 .1 .7 .2 .3 .8 .7 1 .6-1 -.6-1 -.3 0 -.7-.1 -.8-.9 .8-.7 1 .4 1-.4M383.2 100.0l-1-.1 -.3-.1 .3-.4 .9-.6 .1-.1 .1 .1 .3 1zM417.2 100.2l-1-.3 -.2-.1 .2-.2 1 .1 .2 .1zM420.2 105.1l-.1-.3 -.2-1 .3-.3 .2 .3 .5 1zM411.6 108.8l-.4-1 -.3 1 .3 .3zM387.4 113.8l-.2-.7 -.2-.3 -.1-1 -.7-.5 -.8 .5 0 1 .8 .6 .6 .4 .4 .3zM380.2 114.3l-1 0 -.3-.5 .3-.5 1-.4 .2 .9zM382.2 119.1l-.4-.3 .2-1 .2-.5 .1-.5 .9-.9 .3 .9 0 1 -.3 .3 -.7 .7zM423.2 127.1l-.2-.3 .1-1 -.6-1 -.3-.8 -.1-.2 .1-1 -.3-1 -.7-.8 -.2-.2 .2-.2 .9-.8 -.9-.7 -.3-.3 .3-.4 1 .3 .4 .1 -.1 1 -.3 1 .4 1 .6 .9 .1 .1 .1 1 .8 .5 .1 .5 -.1 .2 -1 .8 .2 1zM380.2 119.8l-1 .4 -.2-.4 .2-.4 1 .2 0 .2zM383.2 123.2l-1 .2 -.5-.6 .5-.5 1 .1 .5 .4zM418.6 125.8l-.4-.5 -1 .2 -1-.2 -.3 .5 .3 .8 1-.1 1-.2zM376.2 127.3l-1 .1 -.5-.6 .5-.7 1 .5 .2 .2zM453.2 128.0l-.4-.2 .3-1 .1-.2 .2 .2 0 1zM424.2 129.6l-1-.3 -.3-.5 .3-.3 .6-.7 .4-.4 .3 .4 .1 1zM344.2 128.6l.2 .2 -.2 1M374.2 130.8l-.2-1 .2-.4 .2 .4 -.2 1zM386.3 130.8l-.1-1 -.1 0 0 1 .1 .9zM456.2 131.0l-.1-.2 .1-1 .7 0 -.3 1zM372.2 131.2l-1-.3 -.1-.1 .1 0 1-.9 .7 .9zM380.2 131.3l-1-.4 -.7-.1 .7-.1 1-.3 .2 .4zM384.3 131.8l-.1-.1 -.6-.9 -.4-.4 -.5 .4 .5 .6 .8 .4 .2 .3zM420.3 135.8l-.1-1 0-.1 -.9-.9 .3-1 -.4-.9 0-.1 -1-.9 -1 .8 -1-.9 0-.1 0 .1 0 .1 .7 .9 .3 .3 1 .7 1 1 -.4 1 .4 .5 .9 .5 .1 .3zM378.2 134.0l-.4-.2 .2-1 .1-1 .1-.6 .1 .6 0 1 -.1 1zM441.2 133.1l-.5-.3 -.2-1 .7-.5 .4 .5 .3 1zM363.2 136.9l-1 0 -.1-.1 -.5-1 .5-1 .1 0 .1 0 .9 .3 .4 .7 -.4 1zM449.2 136.2l-1-.1 0-.3 1-.1 .4 .1zM368.2 138.0l-.4-.2 .2-1 .2-.1 .1 .1 0 1zM371.2 137.4l-1-.2 -.1-.4 .1-.4 1 .3 .1 .1zM373.2 142.2l-.4-.4 .3-1 .1-.1 .9-.9 -.8-1 .8-1 -.1-1 .2-1 .7 1 -.2 1 -.3 1 -.1 1 .6 1 -.7 .6 -.3 .4zM386.6 136.8l-.4-.6 -1 0 -.2 .6 .2 .5 1-.2zM438.2 139.5l-.3-.7 0-1 .1-1 .2-.3 .3 .3 .2 1 .2 1zM344.2 137.6l.2 .2 -.2 .4M360.2 138.9l-.2-.1 -.8-.9 -.6 .9 -.4 .6 -1-.6 -1 .1 -.6-.1 .6 0 1-.1 .5-.9 .5-.3 1-.6 1 .9 .5 1zM453.2 138.4l-1-.3 -.7-.3 .7-.6 1 0 .2 .6zM354.2 141.3l-1 0 -.2-.5 -.2-1 .3-1 .1-.4 .4 .4 -.4 1 1 1 .2 0zM363.2 140.5l-1-.2 -1-.3 -.1-.2 .1-.5 .6-.5 .4-.1 1-.7 .7 .8 -.6 1zM371.2 140.4l-1-.2 -1-.1 -.4-.3 .4-.2 .7-.8 .3-.5 .5 .5 .5 .8 .5 .2zM382.2 140.8l0-.1 .2-.9 -.2-.2 -.8-.8 -.2-.3 -1 .1 -.2 .2 .2 .6 1-.4 .8 .8 -.8 .4 -1-.1 -.3 .7 .3 .4 1 .4zM446.2 139.0l-1 .2 -.4-.4 .4-.4 1 .1 .4 .3zM359.2 143.4l-1-.5 -.2-.1 .2-.2 .3-.8 -.3-.7 -.8-.3 .8-.2 1-.3 1 .3 .3 .2 -.3 .5 -.4 .5 .1 1zM442.2 141.0l-1-.1 -.7-.1 .7-.4 1 .2 .2 .2zM450.2 141.8l-1 .7 -1-.6 -.3-.1 .3-1 1-.9 .2 .9 .8 1 .1 0zM351.2 143.2l-.4-.4 .2-1 .2-.4 .2 .4 -.1 1zM356.2 144.2l-.7-.4 .2-1 .4-1 .1-.2 1-.3 .1 .5 -.1 .1 -.4 .9 .4 1zM440.2 143.2l-1-.3 -.3-.1 -.7-.5 -.5-.5 .5-1 1 .8 .2 .2 .8 .7 .4 .3zM455.2 143.9l-.2-.1 -.8-.8 -.1-.2 -.9-.8 -.5-.2 .5-.3 1 .3 .1 0 .9 .9 .1 .1 .1 1zM356.2 147.8l-1 .2 -.3-.2 -.7-.8 -1 .2 -.6-.4 .1-1 .5-.6 .8-.4 -.8-.8 -.1-.2 0-1 .1-.4 .2 .4 .8 .7 .5 .3 -.4 1 .2 1 .7 .8 1-.7 1 .4 .3 .5 -.3 .3 -1 .7zM372.2 144.5l-.8-.7 .8-1 .6 1zM427.7 143.8l.1-1 -.6-.5 -.4 .5 .3 1 .1 .3zM443.8 144.8l.4-.5 .4-.5 -.4-.4 -.4 .4 -.6 .5 -.9 .5 .9 .4zM453.2 153.2l-1 .4 -.8-.8 -.2-.3 -.2-.7 .2-.8 .2-.2 -.2-.3 -1-.7 -.1 0 .1-.1 .2-.9 -.2-.3 -.5 .3 -.5 .5 -.8 .5 .8 .2 .5 .8 -.5 .5 -1-.3 -.2-.2 .2-1 -.3-1 -.3-1 .6-.5 1-.1 .7-.4 .1-1 -.6-1 .4-1 .4-.4 1 0 .5 .4 .5 .9 .1 .1 .2 1 -.3 .5 -.3-.5 -.7-.6 -.5 .6 .5 1 .1 0 .9 1 0 .1 -.2 .9 .2 .3 1-.3 .4 1 -.4 .5 -.5 .5 -.3 1 .8 .6 .7 .4zM457.2 144.9l-.5-.1 .2-1 .3-.2M371.1 146.8l-.6-1 -.3-.7 -.5 .7 0 1 .5 .9zM429.7 149.8l-.2-1 -.3-.5 -.7-.5 .7-.8 .6-.2 .4-.1 .7-.9 -.7-.4 -.3 .4 -.7 .9 -1-.5 -.3-.4 -.7-.8 -.7 .8 -.2 1 -.1 .1 -.1-.1 -.9-.5 -.5 .5 .5 .6 .6 .4 0 1 .4 .4 .5-.4 0-1 .5-.4 .6 .4 .4 .3 .5 .7 .2 1 .3 .4zM435.9 146.8l.3-.4 1-.6 -1-.6 -1-.3 -.6 .9 -.3 1 .9 .5zM455.2 147.8l-1 0 -.2 0 -.8-.4 -.6-.6 .6-.3 .6-.7 .4-.9 1 .6 1-.3 .1 .6 .8 1 -.9 .1 -1 .9zM432.7 148.8l-.2-1 .7-.7 .7-.3 -.7-.3 -.3 .3 -.7 .7 -.3 .3 -.3 1 .6 .8zM353.2 151.4l-.5-.6 -.2-1 -.3-.7 -1 .6 -1-.2 -.5-.7 .5-.4 .5-.6 .5-.2 1-.3 .3 .5 .7 1 .7 0 .3 .2 .2 .8 -.2 .3 -.2 .7zM374.3 149.8l.9-.8 .4-.2 -.4-.5 -.5 .5 -.5 .9 -1-.1 -.2 .2 .2 .1 1 0zM377.5 149.8l-.2-1 -.1-.1 -.1 .1 -.3 1 .4 .3zM436.2 149.8l-.7-1 -.3-.2 -.2 .2 .2 .4 1 .6zM439.9 148.8l-.7-.7 -1 0 -.8 .7 .8 .9 1-.1zM446.2 151.1l-1 .4 -.5-.7 .1-1 -.1-1 .5-.5 .9 .5 -.5 1 .6 .7 .4 .3zM348.2 150.8l-1-.3 -.6-.7 .6-.3 1 0 1-.3 .8 .6 -.8 .4 -1 .6zM371.9 150.8l-.1-1 -.6-.4 -.3 .4 -.7 .9 -.2 .1 .2 .4 1 .3zM457.2 150.9l-.7 .9 -.3 .3 -.6-.3 -.4-.7 -1-.3 1-.1 .6-.9 .4-.4 .4 .4 .6 .9M344.2 151.7l.9-.9 .1 0 .9 0 -.2 1 -.7 .4 -1-.4M423.9 151.8l0-1 -.7-.3 -.2 .3 -.8 .8 -.6 .2 .6 .3 1 .1zM432.9 154.8l-.1-1 .4-.6 .5-.4 -.1-1 -.4-.5 -.7-.5 -.3-.8 -1 .2 -.3 .6 -.3 1 -.4 .4 -.4-.4 -.6-.2 -.3 .2 .2 1 .1 .1 1 .9 .3-1 .7-.7 .7 .7 -.3 1 -.4 .8 -.3 .2 .3 .5 1 .1zM367.1 153.8l-.9-.7 -.3-.3 .3-.6 .7-.4 -.7-.7 -.4 .7 -.6 .4 -.9 .6 .9 .6 .3 .4 .7 .9zM439.3 153.8l.1-1 .8-.9 .1-.1 -.1-.2 -.1 .2 -.9 .9 -.2 .1 .1 1 .1 .1zM376.5 157.8l.4-1 -.4-1 -.3-.1 -.2 .1 -.8 .2 -.2-.2 -.8-.8 -.3-.2 -.7-.6 -.7-.4 -.3-.2 -.9-.8 -.1-.3 -.2 .3 -.3 1 .5 .3 1 0 .4 .7 .6 .6 .2 .4 .8 1 .1 0 -.1 .2 -.3 .8 .3 .6 1 .1 1-.1zM435.3 155.8l.9-.5 .9-.5 -.2-1 .3-.7 .3-.3 -.3-.4 -.3 .4 -.7 .3 -1 .1 -.3 .6 -.4 1 .3 1 .4 .1zM457.2 155.6l-1-.5 -1-.3 1-1 .6-1 .4-.4M344.2 161.9l.6-.1 .4-.3 .2-.7 .8-1 0-.1 0 .1 1 .7 .8-.7 .2-.1 1-.9 -.5-1 .5-.6 .7-.4 .3-.2 .5-.8 .4-1 -.9-.2 -.6-.8 -.4-1 -.7 1 -.3 .1 -1 .1 -1 .3 -.4 .5 -.6 .5 -1 .4M443.9 160.8l-.1-1 -.6-.9 -.2-.1 0-1 -.2-1 -.6-.7 -.7-.3 .3-1 -.3-1 -.3-.2 -.1 .2 -.2 1 -.7 .7 -.9 .3 -.1 .1 -.3 .9 -.7 .9 -.7-.9 -.3-.8 -1 .8 1 .5 .8 .5 -.8 .8 -.1 .2 .1 .2 .4-.2 .6-.7 1-.1 1 .4 .5-.6 -.5-.7 -.4-.3 .4-.4 1-.4 .4 .8 -.1 1 .3 1 .4 .2 .6 .8 .1 1 .3 .6zM356.5 155.8l.4-1 -.7-.9 -1 .2 -.3 .7 .3 .2 .7 .8 .3 .3zM370.6 155.8l-.4-.8 -.2-.2 -.8-.8 -.9 .8 .9 .9 .1 .1 .9 .5zM355.4 170.8l-.2-.5 -.5-.5 -.3-1 .8-.6 .5-.4 .5-.6 1 .3 .7-.7 -.5-1 -.2-.3 -1-.4 -.9 .7 .6 1 -.7 .6 -1-.6 -.1 0 .1 0 .9-1 -.5-1 -.4-1 1-.6 .5 .6 .5 .7 1-.1 1-.4 .3 .8 .7 .8 1 .1 .7-.9 .3-1 -1-.6 -1 .3 -.6-.7 .6-.6 1-.4 0-.2 0 .2 1 .9 1 0 .5-.9 -.5-1 -1 .1 -.4-.1 -.6-.5 -.1 .5 -.9 .7 -1 0 -.6-.7 .1-1 .5-.6 .4-.4 -.4-.6 -.4-.4 .4-.3 .8-.7 -.7-1 -.1-.3 -.1 .3 -.5 1 -.4 .5 -.6 .5 .6 .3 .7 .7 -.7 .6 -.8 .4 .4 1 .4 .9 .2 .1 .2 1 -.4 .4 -.4-.4 -.6-.7 -1-.3 .2-1 .7-1 -.9-1 .8-1 -.8-.8 -.7-.2 -.3-.1 -.3 .1 -.7 1 1 .9 1 .1 -1 1 0 .1 -.3-.1 -.7-.1 -.7-.9 -.3-.6 -1-.1 -.8 .7 .4 1 -.6 .6 -.3 .4 -.7 .7 -.3 .3 .3 .6 1-.5 1 .3 .4-.4 -.4-.6 -.7-.4 .7-.7 .3-.3 .7-.7 .9 .7 .1 0 .8 1 -.2 1 -.6 .7 -.3 .3 .3 .3 1 .7 -.3 1 -.4 1 -.3 .6 -.5-.6 -.1-1 -.4-.2 -.3 .2 -.1 1 -.4 1 -.2 0 -.7 1 .2 1 -.5 .9 -.2 .1 .2 .2 .1-.2 .9-.5 .6-.5 0-1 .4-.8 1 .2 .3 .6 .2 1 .4 1 -.9 .7 -.4 .3 .4 .5 1-.5 1 .3zM368.2 156.8l0-.1 -.6-.9 -.4-.8 -1 0 -.8 .8 -.2 .4 -.6 .6 .6 .1 .3-.1 .7-.6 1 0 .9 .6 .1 0zM425.8 156.8l-.5-1 -.1-.2 -.3 .2 -.7 .3 -.4-.3 -.6-.3 -.7 .3 .7 .6 .3 .4 .7 .6 1-.2zM348.2 157.3l-1-.5 1-.4 .5 .4zM362.6 159.8l.6-.3 .5-.7 0-1 .2-1 -.7-.2 -.2 .2 -.3 1 -.5 .3 -.4-.3 -.6-.7 -.9-.3 -.1-.1 -.2 .1 .2 0 .4 1 -.2 1 .8 .6 .7 .4 .3 .9zM448.3 159.8l.9-.6 .3-.4 .7-.7 .4-.3 -.4-.4 -1 .4 -.4 1 -.6 .9 -.4 .1 .4 .1zM434.3 159.8l-.1-.2 -.4-.8 -.6-.7 -.4 .7 .4 .6 .8 .4 .2 .4zM344.2 160.3l.6 .5 -.6 .7M373.4 161.8l.8-.7 .1-.3 -.1-.2 -.1 .2 -.9 .9 -.1 .1 .1 .2zM366.3 164.8l.9-.2 .7-.8 .3-.8 .2-.2 .8-.9 .2-.1 -.2-.1 -.3 .1 -.7 .5 -1 .1 -1 .4 -.4-1 -.6-.3 -.2 .3 -.4 1 .6 .8 .9 .2 0 1 .1 .1zM435.4 161.8l-.2-.1 -1-.5 -.2 .6 .2 .8 1-.7zM447.9 164.8l-.1-1 -.1-1 .5-.6 .5-.4 -.5-.5 -1 .1 -.3 .4 -.7 .7 -1 .2 0 .1 1 .8 .2 .2 .2 1 .6 .6zM450.3 162.8l.3-1 -.4-.8 -.5 .8 .3 1 .2 .1zM347.9 164.8l-.1-1 .1-1 -.7-.5 -1-.3 -.6 .8 .6 .7 .3 .3 -.1 1 .8 .6zM377.4 163.8l-.2-.5 -.4-.5 -.6-.3 -.6 .3 -.4 .4 -.4 .6 .4 .3 1 .2 1-.1zM440.8 164.8l.1-1 .3-.2 .4-.8 -.4-.6 -.8 .6 -.2 .3 -.5-.3 -.5-.4 -.2 .4 .2 .7 .2 .3 .1 1 .7 .5zM457.2 162.6l-1 .2 -1 .4 -1 .3 -.8 .3 -.2 .2 -.3 .8 -.7 .3 -1 .1 -1 .6 1 .8 1-.2 1 .1 .9-.7 .1-.8 .4 .8 .6 .2 .4-.2 -.1-1 .7-.6 .7-.4 .3-.6M344.2 163.8l1 1 -1-1M363.0 166.8l-.5-1 .7-.9 .1-.1 -.1-.1 -.5-.9 -.5-.9 -1 .9 1 .9 .4 .1 -.4 .2 -.2 .8 -.8 .9 -.1 .1 .1 .4 1 .3zM428.3 164.8l.9-1 -1-.1 -.2 .1 .1 1 .1 .1zM344.2 168.0l.3-.2 .4-1 -.7-.7M359.4 167.8l-.1-1 -.1-.4 -.1 .4 -.3 1 .4 .3zM442.5 167.8l.3-1 -.6-.9 -.4 .9 0 1 .4 .5zM447.8 168.8l.4-.8 .2-.2 .8-.4 .5 .4 .5 .6 .6-.6 -.6-.4 -.5-.6 -.5-.3 -.5 .3 -.5 .8 -.7 .2 -.3 .1 -.6 .9 .6 .6zM439.2 168.8l-.9-1 -.1-.5 -.2 .5 .2 .5 .9 .5 .1 0zM453.6 169.8l.6-1 1-.9 .4-.1 -.4-.1 -1 .1 -.1 0 .1 1 -1 .7 -.8 .3 .8 .5zM344.2 170.4l1-.3 .2-.3 .8-.3 1-.4 .3-.3 -.3-.6 -1-.1 -.7 .7 -.3 .8 -1-.2M360.3 173.8l.4-1 .5-.7 .9 .7 .1 .2 .1-.2 .9-.4 .5-.6 -.5-.4 -1 .1 -.9-.7 -.1-.1 -1-.6 -.2-.3 -.8-.8 -.8 .8 -.2 .5 -.4-.5 -.6-.5 -.5 .5 .5 .5 .7 .5 0 1 .3 .2 .5 .8 .5 .4 .9 .6 .1 .6zM431.4 171.8l-.2-.1 -.9-.9 .9-1 .1 0 -.1 0 -.1 0 -.9 .9 -.1 .1 .1 0 1 1 0 .1zM439.9 174.8l.3-.1 .6-.9 .4-.2 .9-.8 -.2-1 -.7-.4 -.3-.6 -.7-.4 -.9 .4 .9 .6 .7 .4 -.7 .8 -.1 .2 -.9 .9 -1-.9 .6-1 .3-1 -.9-.7 -.3-.3 -.7-.6 -.8 .6 .8 .7 .3 .3 -.3 .7 -.2 .3 -.8 .7 -.5 .3 .5 .2 .3-.2 .7-.8 1 .8 .9 1 -.2 1 .3 .2zM451.9 169.8l-.7-.6 -1 0 -.3 .6 .3 .6 1 .3zM457.2 170.6l-.4-.8 -.6-.9 -1 .9 -.8 1 -.2 .7 -.2 .3 .2 .5 .5 .5 .5 .2 .3-.2 .7-.2 1-.8M368.8 171.8l-.1-1 -.5-.6 -1 .3 -.2 .3 -.8 1 1-.6 .2 .6 .8 .5zM448.4 171.8l-.2-.1 -.5-.9 -.5-.7 -.5 .7 .5 .7 .8 .3 .2 .5zM447.3 176.8l-.1-.1 -.5-.9 .5-.9 .2-.1 .5-1 -.7-.9 -.2-.1 -.8-.4 -.4-.6 -.6-.5 -1-.1 -.7 .6 .7 .8 1-.4 .8 .6 -.8 .8 -1-.7 -1 .8 -.5 .1 .5 .2 .4 .8 -.4 .7 -.4 .3 -.6 .4 -.6 .6 .6 .5 .6-.5 .4-.6 .6 .6 .4 .2 .8-.2 .2 0 1-.1 .7 .1 .3 .1zM451.8 171.8l-.6-.9 -1 .7 -.2 .2 .2 .1 1 .3zM344.2 173.0l.8 .8 .2 .2 .3-.2 -.3-.4 -.6-.6 -.4-.2M360.3 181.8l.9-.8 .8-.2 -.8-.9 -.3 .9 -.7 .9 -.9-.9 .8-1 -.9-.6 -.7-.4 .7-.9 1 .4 1 .3 .5 .2 .5 .6 .1-.6 -.1-.1 -.7-.9 .7-.4 1-.5 .1-.1 -.1-.1 -1-.5 -1 .4 -.5-.8 -.5-.8 -1 .6 -.9-.8 -.1-.2 -.7-.8 -.3-.3 -.7-.7 -.3-.5 -.3 .5 .3 .9 .1 .1 -.1 0 -.7 1 .7 .7 1-.6 .6 .9 .4 .4 1-.1 1 0 .9 .7 -.9 .7 -1 .1 -.3 .2 -.7 .4 -.4 .6 -.4 1 -.2 .4 -.3 .6 .3 .5 .2-.5 .8-.6 .8 .6 .2 .3 .7 .7 .3 .2zM346.7 180.8l-.3-1 .8-.7 .8 .7 .2 .5 .2-.5 .3-1 -.5-1 0-.1 .3-.9 .7-.6 1 0 .4-.4 -.4-.8 -1 .1 -.2-.3 -.2-1 -.6-.7 -1 .1 -.7 .6 .5 1 .2 .3 1 .6 .2 .1 -.2 .3 -.2 .7 -.8 .7 -.6 .3 -.3 1 -.1 .1 -.1-.1 -.9-.2 -.4 .2 .4 .1 .8 .9 -.7 1 .9 .9zM354.6 175.8l-.4-.3 -.8-.7 .6-1 -.8-.5 -1 .5 .3 1 .7 .4 .4 .6 .6 .4zM368.3 174.8l.4-1 -.5-.5 -1 .5 .5 1 .5 .4zM457.2 176.2l-1-.4 -1 .2 -.8-.2 .3-1 -.5-.4 -1 .3 -.1-.9 -.9-.5 -1 .1 -.7 .4 .7 .9 1-.2 1 .3 -.7 1 .7 .8 1-.7 .5 .9 .5 .5 .6 .5 .4 .2 .6 .8 .4 .4M446.2 175.4l-1-.1 -.5-.5 .5-.8 1 .4 .9 .4zM450.4 178.8l.8-.4 .5-.6 .1-1 -.4-1 -.2-.6 -.2 .6 -.8 .3 -1 .1 -.5 .6 .5 .8 1-.1 .5 .3 -.5 .9 -.2 .1 .2 .4zM378.2 176.8l-1-.3 -.8 .3 .8 .9 1-.8zM429.8 177.8l.4-.2 .6-.8 -.6-.9 -.8 .9 -.2 .4 -.4 .6 .4 .5zM354.6 183.8l-.4-.8 -.2-.2 -.8-.2 -.8-.8 .5-1 .3-.3 1-.3 .6-.4 -.6-.8 -1 .1 -1 .3 -1-.5 -.1-.1 .1-.4 .2-.6 -.2-.2 -.2 .2 -.8 .4 -.6 .6 .6 .4 .5 .6 .5 .7 .5 .3 0 1 .5 .9 .1 .1 -.1 0 -.7 1 .7 .8 1-.4 1 .2zM378.5 180.8l-.2-1 -.1 0 -1-1 0-.4 -.1 .4 -.9 .9 -.1 .1 .1 .2 .2-.2 .8-.9 .9 .9 -.1 1 .2 .5zM372.4 182.8l.3-1 -.5-.2 -.9-.8 -.1-.1 -.5-.9 -.5-.4 -1 0 -1 .2 -1-.7 -.8 .9 .8 .7 1-.6 1 .2 1 .3 .9 .4 .1 .1 .8 .9 .1 1 .1 .1zM432.4 180.8l-.2-.3 -.9-.7 -.1-.3 -1 .1 -.1 .2 .1 .1 1 0 .8 .9 .2 .7zM438.8 181.8l.4-.3 .5-.7 -.5-.2 -.9 .2 -.1 .2 -.5-.2 .4-1 -.9-.7 -.9 .7 -.1 .3 -.4 .7 -.6 .4 -.7 .6 .7 .4 .6-.4 .4-.6 1-.3 .6 .9 .4 .1zM449.1 179.8l-.9-.6 -1 .2 -.5 .4 .5 1 1-.5zM454.4 179.8l-.2-.1 -1-.2 -1-.4 -.5 .7 .5 .4 1 .1 1-.4zM344.2 182.7l.8-.9 -.1-1 -.7-.3M457.2 180.1l-.8 .7 .8 1 -1 .8 -.2-.8 -.8-.6 -.6 .6 .1 1 .1 1 .1 1 .3 .3 .2-.3 .8-.5 .8 .5 -.5 1 .7 .6M364.4 183.8l.8-.9 0-.1 .4-1 -.4-.2 -1-.4 -.7 .6 .7 .5 .9 .5 -.9 .7 -.5 .3 .5 .4zM346.3 183.8l.6-1 -.7-.7 -.2 .7 -.2 1 .4 .2zM348.3 183.8l.6-1 -.7-.9 -.9 .9 .8 1 .1 .5zM448.7 187.8l-.5-.2 -1 0 -.3-.8 .2-1 -.3-1 -.6-.3 -1 .2 -1-.9 -1-.7 -1 .4 -.9-.7 -.1-.1 -.6 .1 -.4 .2 -1 .1 -.5 .7 .5 .9 1-.5 1 .3 .3 .3 .7 .8 1-.8 1 .9 0 .1 .2 1 .8 .7 1 0 .8 .3 .2 .2 1 .4zM450.6 184.8l.6-.5 1 .3 .9-.8 -.9-.9 -1 .6 -.8-.7 -.2-.2 -.2 .2 -.2 1 .1 1 .3 .4zM457.2 184.7l-.7-.9 -.2-1 .9-1M352.4 188.8l.8-.9 .1-.1 .6-1 .3-.9 .2 .9 .8 .4 .4-.4 .5-1 .1-.5 .3 .5 .7 .4 1-.1 .4-.3 -.4-.5 -1 .3 -.9-.8 .2-1 -.3-.2 -.3 .2 .2 1 -.9 .5 -1 .4 -1-.4 -.5 .5 -.5 1 -1-.2 -.4 .2 -.6 .3 -.7 .7 .7 .7 1 .3 .1 0 .9 .8zM361.9 184.8l.3-.8 .4-.2 -.4-.1 -.1 .1 -.9 .4 -.5 .6 .5 .7zM430.9 184.8l-.7-.5 -1-.4 -.9-.1 -.1 0 0 .1 .3 .9 .7 .9 1-.2zM371.9 187.8l.3-.6 .4-.4 -.3-1 -.1-.1 -1-.9 .9 1 -.9 .8 -.2 .2 -.4 1 .6 .8zM426.7 185.8l0-1 -.5-.3 -.2 .3 -.1 1 .3 .3zM435.0 187.8l.2-.4 .2-.6 -.2-.2 -1-.4 -1 .3 -.6-.7 .2-1 -.6-.6 -.6 .6 .3 1 -.1 1 .4 .6 .5 .4 .5 .5 1-.1zM344.2 187.9l.5 .9 0 1 .5 .1 .9 .9 .1 .5 .4-.5 -.4-.9 -.1-.1 .1 0 1 0 .6-1 -.2-1 .6-.3 .9-.7 -.9-1 0-.2 -1-.7 -.8 .9 -.2 .7 -1 .3 -.7-1 -.3-.7M363.6 187.8l.6-.9 1 .1 .6-.2 .1-1 -.7-.3 -.3 .3 -.7 .9 -.1 .1 -.9 .5 -1-.2 -1 .3 -1 .2 -.5 .2 .5 .3 1 .5 1-.4 1 .4zM457.2 192.9l-.4-.1 -.6-.2 -.8 .2 -.2 .1 -.5 .9 -.5 1 1 1 -1 .3 -.8 .7 -.2 .1 -.2-.1 -.8-.3 -.5-.7 -.5-.9 -.2-.1 -.8-.3 -1-.2 -.3-.5 .3-.7 .7-.3 -.7-.8 0-.2 -.2-1 .2-.3 .9 .3 .1 .2 .6 .8 -.3 1 .7 .7 1-.2 .6 .5 .2 1 .2 .2 .8-.2 -.3-1 .2-1 -.7-.8 -1-.2 1-.9 1 .2 .8-.3 .2-.2 .7-.8 -.7-.3 -.9 .3 -.1 .1 0-.1 -1-.8 -.4-.2 -.4-1 -.2-.9 0-.1 0-.1 .2-.9 -.2-.3 -.7 .3 -.3 .1 -.8 .9 .8 1 -.4 1 .4 .6 1-.1 .3 .5 -.3 .6 -.4 .4 -.6 .6 -.8-.6 -.2-.1 -.4-.9 -.6-.7 -1-.1 -.5 .8 -.5 .6 -.4 .4 .4 .4 .1 .6 -.1 .5 -1 .3 -.3 .2 -.4 1 .4 1 -.7 .4 -.9-.4 .5-1 -.6-.6 -.6 .6 -.4 .6 -.3 .4 -.7 .5 -1-.4 -.6 .9 -.4 .7 -.4 .3 -.6 .4 -.5-.4 .2-1 .2-1 .1-.3 .3-.7 -.3-.2 -.8-.8 .5-1 .3-.8 .1-.2 .3-1 -.4-.4 -1 .3 -.1 .1 .1 .1 .8 .9 -.8 .4 -1 .1 -.9-.5 -.1-.1 -.6-.9 -.4-.2 -.6 .2 .6 .3 .9 .7 -.9 .6 -1 0 -.5-.6 -.5-.4 -.3 .4 -.7 .5 -1 .5 -.5 1 -.5 .9 -.1 .1 -.1 1 -.8 .6 -1 .1 -1-.4 -.9 .7 .9 .6 1-.2 .6 .6 -.2 1 -.4 .3 -1 .3 -.4 .4 .2 1 .2 .3 .6 .7 -.6 .3 -.5 .7 -.2 1 -.2 1 -.1 .1 -.2-.1 -.8-.1 -.1 .1 .1 .9 0 .1 -.5 1 .4 1 -.9 .3 -.7 .7 -.3 .3 -.7 .7 -.3 .5 -.3 .5 .3 .4 .2 .6 -.1 1 -.1 .3 -.7 .7 .1 1 -.4 .1 -1 .3 -1 .6 0 .1 -1 .2 -.7 .7 .2 1 0 1 -.5 .4 -1 .1 -.7 .5 .3 1 .4 .7 .3-.7 .7-.3 1 .3 -.7 1 -.3 .5 -1 .5 1 .9 1 .1 .1 1 -.1 .2 -1 .5 -.2-.7 -.8-1 0-1 -1-.7 -.6-.3 -.4-.4 -.4-.6 .1-1 -.7-.4 -.3 .4 -.1 1 .4 .6 .6 .4 -.3 1 -.3 .9 -.7-.9 -.3-.2 -.2 .2 -.8 .7 -.6-.7 -.4-.5 -.6-.5 -.4-.3 -.2 .3 .2 .2 .7 .8 .3 .3 .8 .7 .2 .3 1 .6 .1 .1 .9 .9 .6-.9 .4-.5 1 .1 .6 .4 -.6 .5 -.5 .5 0 1 -.5 .3 -.4-.3 -.6-.6 -.2 .6 -.8 .6 -.9 .4 -.1 .2 -1 .8 1 .7 .4-.7 .6-.4 .6-.6 .4-.7 .5 .7 .5 .9 0 .1 -1 .8 -.8 .2 -.2 .2 -.3 .8 -.7 .2 -1 .2 -1 .1 -1 0 -.1-.5 .1-.2 1-.8 .1 0 .9-1 -.2-1 -.8-.4 -.9-.6 -.1 0 -.1 0 .1 .1 .6 .9 -.2 1 -.4 .3 -.3-.3 -.7-.6 -1 .4 -.2 .2 -.6 1 -.2 .5 -.7-.5 -.3-.3 -.2 .3 .2 .3 .5 .7 0 1 -.5 .3 -1 .6 0 .1 0 .3 1 .5 .4 .2 -.4 .1 -1 .3 -.3 .6 .3 .4 1 .5 1-.5 1 .2 .7 .4 -.7 .6 -1-.2 -.8 .6 0 1 .3 1 -.5 .1 -1 .6 -1 .3 .5 1 -.5 1 1 .6 1 .4 1-.2 .1 .2 -.1 .7 -1-.6 -1 .6 -.5 .3 0 1 -.5 .4 -.5-.4 -.5-.2 -.3 .2 .3 .8 .2 .2 -.1 1 -.1 .7 -.1 .3 .1 .2 .4 .8 -.2 1 -.2 .3 -1 .2 -1-.3 -.9-.2 .6-1 -.6-1 -.1-.2 -.2-.8 -.2-1 -.2-1 .6-.4 .9 .4 -.1 1 .2 .6 .3-.6 -.3-1 0-.1 -.4-.9 -.1-1 -.5-.9 -.8-.1 .2-1 .6-.3 .9-.7 -.9-.6 -1-.4 .5-1 0-1 -.3-1 .1-1 -.2-1 -.1-.2 -.4-.8 -.6-.8 -.4-.2 -.2-1 .6-.7 .2-.3 -.2-.2 -1-.1 -.5-.7 -.5-.4 -.6-.6 -.4-.4 -.8-.6 -.2-.3 -1 .1 -.6 .2 .6 .5 1-.2 .5 .7 .5 .4 .6 .6 -.6 .5 -.4 .5 -.6 .6 -.5 .4 -.5 .1 -1 .3 -1-.4 .7-1 .2-1 -.8-1 -.1-.3 0-.7 0-.1 .2-.9 .5-1 .1-1 .2-.4 .1-.6 -.1-.2 -.5 .2 -.5 .2 -.2-.2 -.4-1 -.4-.9 -.1-.1 -.9-.7 -.5 .7 -.5 .6 -.6-.6 -.2-1 .8-.6 .9-.4 -.1-1 -.6-1 -.2-.3 -.7-.7 -.2-1 .2-1 -.3-.1 -.1 .1 0 1 -.6 1 -.3 .1 -.8-.1 .2-1 -.4-.8 -1 .5 -.7-.7 .7-.9 .2-.1 .8-.5 .3-.5 -.3-.2 -.7-.8 .7-.7 .3-.3 -.3-.7 -.5-.3 0-1 -.5 0 -.2 1 -.8 .8 -1-.1 -.2 .3 .2 .5 1-.2 .4 .7 .6 .5 .6 .5 -.6 .9 -.2 .1 -.8 .6 -1-.2 -1 .3 -1 .3 -.2-1 -.8-.9 -.1-.1 -.9-.7 -1 0 -.8 .7 -.2 .8 0 .2 -.7 1 .1 1 -.4 .6 -.8 .4 -.2 .1 -.4-.1 -.6-.1 0 .1 -.1 1 -.9 1 .2 1 -.2 .6 -1 .1 -.3 .3 -.5 1 -.2 .2 -1 .6 -.2 .2 -.8 1 -.4 1 -.6 .8 -.4 .2 .4 .5 .1 .5 -.1 .1 -1 .9 -.9 1 -.1 0 -1 .9 -.2 .1 -.8 .4 -.1 .6 -.2 1 -.2 1 -.5 .1 -1 .6 -.1 .3 -.7 1 -.2 .3 -.5 .7 -.1 1 -.4 .2 -1 .3 -.4 .5 -.6 .8 -.3 .2 -.5 1 -.2 .3 -1 .6 -.1 .1 .1 .8 0 .2 0 .2 -1 .6 -.1 .2 -.8 1 -.1 .2 -.5 .8 -.2 1 -.3 .6 -1 .4 -.3 1 -.7 .1 -.9 .9 -.1 .1 -1 .5 -.5 .4 -.5 .4 -.6 .6 -.1 1 -.1 1 -.2 .4M457.2 187.2l-1 0 -.4 .6 .4 .4 1 .3M344.2 241.6l1-.6 1-.2 0-.1 -.2-.9 .2-.7 .5-.3 .5-.5 .4-.5 .6-1 1-.7 .3-.3 -.2-1 .9-.5 .5-.5 .2-1 .3-.3 .8-.7 .2-.2 .6-.8 .4-.3 .5-.7 -.5-.8 -.2-.2 .2-.5 1-.2 .4-.3 .5-1 .1-.3 .3-.7 .7-.4 .7-.6 .3-.5 .4-.5 .1-1 .5-.4 .7-.6 .3-.2 .6-.8 -.6-1 -1 .2 -.4-.2 .3-1 .1-.1 .1 .1 .9 1 1-.4 1-.5 .1-.1 .3-1 .2-1 .4-.7 1-.3 0-.9 0-.1 .4-1 .6-.6 .6-.4 .4-.1 .9-.9 -.2-1 -.7-.6 -.2-.4 .2-.8 1 .3 .5-.5 -.5-1 1-.7 1 .1 .4-.4 .6-.6 .3-.4 .3-1 -.6-.7 -1 .3 0-.6 -.9-1 -.1-.3 -1-.4 -.5-.3 .1-1 .4-.7 .2 .7 .8 1 1-.3 .9-.7 -.1-1 .2-.1 .6-.9 .4-.8 .3 .8 .7 .9 .7-.9 -.7-.7 -.8-.3 -.2-.1 -.9-.9 .9-.9 .7-.1 .3-.1 1-.1 1-.4 .2 .6 .8 .9 .8-.9 -.8-.9 -.4-.1 -.6-.2 -1-.6 -1-.2 -1-.4 -.3 .4 -.7 1 -.2 0 .2 .4 .5 .6 -.5 .4 -.3 .6 .3 .1 .9 .9 -.9 .5 -.5 .5 -.5 .7 -1-.1 -.6-.6 .6-.1 .5-.9 -.5-.7 -1-.1 -.6-.2 .5-1 -.9-.7 -.9-.3 .9-.7 1 0 1-.1 .3-.2 .7-.6 .5-.4 -.5-1 -.8-1 .2-1 -.2-1 -.2-.4 -.2 .4 -.3 1 -.5 .4 -.3-.4 -.7-.6 -.4 .6 -.6 .4 -.8-.4 -.2-.6 -1 .2 -1-.5 -.7 .9 -.3 .5 -.5 .5 .2 1 -.7 .8 -.2 .2 -.8 .6 -.7-.6 -.3-.2 -1-.1 -1-.6 -.3-.1 .3-.4 1 .1 1-.7 -.1-1 -.5-1 -.4-.1 -.3 .1 -.7 .4 -.4 .6 -.6 .3 -1 .1 -.9 .6 .9 .5 .5 .5 -.5 .3 -.9 .7 .4 1 .5 .8 .5-.8 .5-.9 1 .8 1-.7 .7 .8 -.7 .4 -1-.3 -1 .9 0 .1 -.5 .9 -.5 .5 -1-.4 -.8 .9 -.2 .7 -.6-.7 .3-1 .3-.5 .7-.5 0-1 -.5-1 .4-1 -.6-.4 -.6 .4 -.4 .8 -1-.4 -1-.3 -1 .1 -.5 .8 .5 .3 1 .6 .5 .1 -.5 .5 -1-.1 -1 .6 0 .1 -1 .2 -1 .7 0 .1M376.6 190.8l-.2-1 .8-1 .6 1 .4 .6 .4-.6 -.4-.6 -1-.4 -1-.6 -.5 .6 -.5 .7 -1 0 -.4 .3 .4 .4 1 .3 .4 .3 .6 .2zM349.8 190.8l.1-1 -.7-.6 -.8 .6 .4 1 .4 .5zM371.8 189.8l-.6-.7 -1 .4 -.5 .3 .5 .4 1 0zM444.2 189.8l-1-.9 -1 .4 -.3 .5 .3 .3 1 .6zM457.2 189.4l-.7 .4 .7 .6M422.3 191.8l.9-.7 .2-.3 -.2-.3 -.5 .3 -.5 .8 0 .2 0 .1zM364.2 194.7l-.5-.9 -.4-1 -.1-.1 -.9-.9 .9-.8 1 .6 .5 .2 .2 1 0 1zM367.2 193.2l-.2-.4 -.3-1 .5-.9 1 .9 -.7 1zM375.5 193.8l.3-1 -.6-.9 -1 .1 -1 .1 -.3-.3 -.7-.7 -.9 .7 .4 1 .5 .8 1-.3 1-.1 .9 .6 .1 .2zM428.3 192.8l-.1-.2 -.3-.8 -.7-.5 -1-.2 -1-.1 -.7 .8 -.3 .2 -.9 .8 .9 .7 .5-.7 .5-.6 .9 .6 .1 .3 .2-.3 .8-.5 .9 .5 .1 .1zM435.2 200.9l-1 .3 -.9-.4 -.1-.3 -.1 .3 -.9 .9 -.9-.9 .5-1 -.6-.3 -.4 .3 -.4 1 -.2 .1 -.1-.1 -.3-1 -.6-.4 -.8-.6 .8-.8 .5-.2 .2-1 -.4-1 .7-.8 .2-.2 .2-1 .6-.1 .8-.9 .2-.2 .2 .2 .6 1 .2 .2 .2-.2 .8-.6 .3-.4 .7-.5 1-.5 0-.3 0 .3 1 .7 .6 .3 .4 .3 .8 .7 -.8 .4 -.5 .6 0 1 -.4 1 0 1 -.1 .1 -.8 .9 -.2 .4 -1-.4 -.7 1 .7 .8 .2 .2zM344.2 193.3l.6 .5 .4 .5 .7-.5 0-1 -.7-.6 -1 .2M359.2 200.8l-.3-1 -.6-1 .6-1 0-1 -.2-1 .5-.2 1-.5 .1-.3 -.1 0 -1-.3 -.7-.7 .7-.9 .2-.1 .8-.7 .8 .7 .2 .1 1 .5 .6 .4 .4 .4 1 .6 -1 .9 -.2 .1 .2 .2 .2 .8 .2 1 -.4 .1 -.3-.1 -.7-.7 -.6-.3 -.4-.4 -.8 .4 -.2 .2 -.5 .8 0 1 .1 1zM441.7 193.8l.5-.9 .1-.1 -.1-.1 -.4 .1 -.6 .1 -.7 .9 .7 .9zM424.5 194.8l-.3-.2 -1 .1 -.2 .1 .2 0 1 .1zM435.5 197.8l.7-.6 .9-.4 -.3-1 -.6-.4 -.8 .4 -.2 .1 -.5 .9 .2 1 .3 .9zM445.2 197.2l-1-.1 -.8-.3 .1-1 .7-.8 .4 .8 .6 .8 .4 .2zM450.2 196.7l-1-.5 -.7-.4 .7-.5 1-.1 .3 .6zM356.2 198.8l-1 .3 -1-.3 -.1 0 0-1 -.1-1 .2-.2 .3 .2 .7 .5 .5 .5 .5 1zM424.4 196.8l-.2-.1 -1-.1 -.5 .2 .5 .7 1-.2zM433.8 196.8l-.6-.7 -1 .6 -.4 .1 .4 .1 1 .5zM443.2 200.1l-1-.3 -1 0 -.4-1 -.1-1 .1-1 .4-.1 1-.4 .8 .5 .2 .7 0 .3 .4 1 .1 1zM457.2 200.1l-1 .2 -.5-.5 .3-1 .2-.1 1-.9 -.9-1 .9-.1M351.2 200.9l0-.1 -.5-1 -.5-.9 -1 .3 -.1-.4 -.6-1 .7-.4 .5 .4 .5 .8 1 0 1 0 .1 .2 -.1 .1 -.5 .9 .4 1zM450.2 199.0l-1 0 -1 .7 -.1-.9 .1-.1 .3-.9 .7-.4 .4 .4 .6 .7 .3 .3zM344.2 201.1l1 .4 .7-.7 -.1-1 .4-.6 .4 .6 .1 1 .5 .6 .2 .4 -.2 .2 -.9 .8 -.1 .1 -.2-.1 -.8-.7 -1 .5M364.2 202.0l-1 0 -.2-.2 -.8-.4 -.3-.6 -.2-1 .5-.9 1 .6 1-.3 .6 .6 -.6 .7 -.6 .3 .6 .5 .5 .5zM439.2 202.3l-.2-.5 -.4-1 .1-1 .5-.1 .4 .1 0 1 -.3 1zM452.2 200.3l-1-.1 -.4-.4 .4-.4 1-.4 .5 .8zM422.6 201.8l.1-1 -.5-.3 -1-.2 -.4 .5 -.1 1 .5 .4 1-.1zM444.2 201.9l-.1-.1 -.1-1 .2-.5 .5 .5 .1 1zM448.2 203.2l-1-.3 0-.1 -.4-1 .4-.4 .1 .4 .9 .9 .1 .1zM456.2 203.1l-1-.1 -.3-.2 -.7-1 1-.4 .5 .4 .5 .5 .2 .5zM349.2 203.8l-1 .2 -1 .1 -.2-.3 .2-.3 1-.2 .6-.5 .4-.2 .5 .2 -.5 1zM356.2 203.8l-1-.6 -.2-.4 .2-.4 1 .4 .1 0 -.1 1zM419.8 205.8l-.3-1 -.1-1 -.2-1 0-.1 -.1 .1 -.9 .2 -1 .8 -1-.2 -.2 .2 .1 1 .1 .2 .2-.2 .8-1 1 .8 .3 .2 .1 1 .6 .6zM441.2 205.9l0-.1 -.7-1 .3-1 .3-1 .1-.2 1 .1 .9 .1 -.9 .2 -.3 .8 -.2 1 -.5 1zM344.2 203.2l.4 .6 -.4 1M361.2 205.9l-1-.1 -1-.7 -.6-.3 .6-.5 1-.3 .4-.2 .6-.3 .7 .3 .3 .4 .3 .6 -.3 .5 -.9 .5zM383.8 204.8l-.3-1 -.3-.2 -.3 .2 -.4 1 .7 .5zM429.2 207.8l-1-.9 -1 .4 -.8-.5 .7-1 .1 0 .1 0 .9 .8 .5-.8 -.5-.4 -.5-.6 -.1-1 .6-.6 .4 .6 .6 .7 1 .3 .1 0 -.1 .5 0 .5 -.7 1zM449.2 205.0l-.2-.2 -.3-1 .5-.2 .5 .2 -.3 1zM457.2 206.2l-1 .1 -.2-.5 .1-1 .1-.1 1-.9M358.2 205.9l-1 0 -.1-.1 -.3-1 .4-.5 .5 .5 .5 .5 .2 .5zM363.2 209.8l-.6-1 .5-1 -.9-.9 -.1-.1 .1-.1 .9-.9 .1 0 .3 0 -.1 1 -.2 1 .4 1zM421.6 207.8l.6-.9 .2-.1 -.2-.2 -.7-.8 -.3-.2 -.3 .2 .3 1 -.3 1 .3 .4zM433.2 207.6l-.1-.8 -.3-1 .4-.5 .6 .5 .3 1zM344.2 206.6l.1 .2 -.1 .4M354.2 210.8l-.4-1 .3-1 -.9-.9 -.5-.1 .5-.2 .5-.8 .5-.3 .3 .3 .1 1 -.3 1 .9 .5 .7 .5 -.7 .7 -1 .3zM440.2 207.8l-.1 0 -.1-1 .2-.2 .4 .2 -.4 1zM448.2 209.0l-1 .2 -1-.3 -.1-.1 .1-.4 1 .3 .9-.9 .1-.5 .5-.5 .5-.3 .4 .3 .3 1 -.7 .1 -.7 .9zM415.3 207.8l-.1-.1 -1-.1 -.3 .2 .3 .2 1-.1zM438.2 208.4l-1-.1 -.9-.5 .9-.1 1-.2 .6 .3zM418.6 211.8l-.4-.5 -1 .2 -1-.1 -.4-.6 .4-.9 0-.1 1-.9 .1-.1 -.1-.6 -.1 .6 -.9 1 -1 .6 -.8 .4 .8 .4 .8 .6 .2 .4 1-.2 1 .2zM419.7 209.8l-.4-1 -.1-.1 -.1 .1 0 1 .1 .4zM425.2 209.8l-.3 0 .1-1 .2-.5 .2 .5 -.2 1zM443.2 209.8l-.2-1 .2-.3 .4 .3 -.2 1zM381.1 210.8l-.9-.9 -1 .4 -.8 .5 .8 1 1-.2zM429.2 211.9l-1 .3 -1-.4 -1 .4 -.5-.4 .3-1 .2-.1 1-.5 .4 .6 .6 .9 .7-.9 .3-.4 1 0 .4 .4 -.4 .5 -.6 .5zM424.2 214.9l-.4-.1 .2-1 -.2-1 .4-.7 .2 .7 -.1 1 .1 1zM432.2 214.1l-.6-.3 .6-1 .2 0 .1 1zM351.2 216.0l-.1-.2 -.7-1 .8-.4 .4 .4 -.3 1zM380.2 216.5l0-.7 -.3-1 .3-.6 .6 .6 -.6 1zM382.2 216.8l-1 .2 -1-.2 1-.3 .7-.7 .2-1 .1-.1 .7 .1 -.5 1 -.2 1zM415.7 216.8l.5-.5 .7-.5 -.1-1 -.6-.4 -.3 .4 -.7 .9 -.3 .1 -.2 1 .5 .5zM374.2 217.1l-1 .1 -.4-.4 .4-.4 1-.2 .9 .6zM390.3 218.8l-.1-.1 -.7-.9 -.3-.3 -.3 .3 0 1 .3 .3 1-.2zM425.2 218.9l-1 .1 -1 .2 -.4-.4 0-1 .4-.2 .1 .2 .9 .8 1 .1 .1 .1zM421.2 220.2l-1-.2 -.5-.2 .4-1 .1-.2 .3 .2 .7 .5 .3 .5zM370.2 221.1l-.3-.3 -.1-1 .4-.8 .5 .8 -.3 1zM384.2 223.1l-1-.1 -.4-.2 -.6-1 1-.5 .3-.5 .7-.4 .3 .4 -.2 1 .8 1zM356.2 223.9l-.2-.1 -.2-1 .4-.4 .3 .4 0 1zM344.2 223.7l.1 .1 -.1 .1M387.2 225.9l0-.1 -.6-1 .4-1 .2-.1 .3 .1 .7 .2 .8 .8 -.8 .5 -.9 .5zM457.2 225.9l-.2-.1 .2-.1M385.2 228.2l-1 0 -.4-.4 .4-.2 1-.7 .4 .9zM394.2 230.8l-.3-1 -.3-1 .6-.7 .8 .7 -.2 1zM408.2 231.9l-1 .5 -.7-.6 .3-1 .4-.2 .6 .2 .4 .4 .2 .6zM420.2 230.9l-1 0 -.4-.1 .4-.2 1 .1 .1 .1zM394.2 232.9l-1 .2 -1 .1 -.2-.4 .2-.4 1 0 1 .3 .1 .1zM410.2 234.0l-1 .2 -1 .6 -.2-1 .2-.2 1-.3 1 .4 .4 .1zM396.2 246.9l-.2-.1 .1-1 .1-.8 .4 .8 -.2 1zM354.0 256.8l.2-.1 .2 .1M386.0 256.8l.2-.3 .1 .3" fill="none" stroke="#161616" stroke-width="0.77" stroke-linejoin="round"/><path d="M401.8 35.8h.8M415.8 40.8h.8M414.8 41.8h.8M408.9 44.8h.8M416.8 46.7h.8M416.8 48.9h.8M388.8 53.8h.8M416.8 53.8h.8M419.7 53.8h.8M385.7 55.8h.8M416.8 56.8h.8M384.8 60.8h.8M415.7 60.7h.8M410.8 61.8h.8M389.7 63.8h.8M386.9 64.8h.8M418.9 64.7h.8M409.8 67.8h.8M385.8 68.8h.8M380.9 69.8h.8M381.8 70.8h.8M385.8 71.9h.8M383.7 73.8h.8M412.9 77.7h.8M418.6 78.9h.8M380.8 86.8h.8M381.7 87.8h.8M380.7 89.8h.8M384.7 94.8h.8M419.8 94.8h.8M387.8 95.8h.8M383.7 97.7h.8M377.8 98.8h.8M378.8 99.8h.8M389.7 101.8h.8M382.9 102.7h.8M444.8 102.8h.8M453.7 102.9h.8M380.8 103.8h.8M384.9 103.7h.8M380.9 107.7h.8M413.8 107.8h.8M438.8 108.8h.8M381.8 109.8h.8M417.8 109.8h.8M378.8 110.8h.8M426.8 111.9h.8M363.8 113.8h.8M360.8 114.8h.8M453.8 114.8h.8M419.8 117.8h.8M414.9 118.8h.8M431.9 118.9h.8M351.9 119.8h.8M443.8 119.8h.8M381.8 120.8h.8M429.8 120.7h.8M376.8 121.8h.8M380.9 121.9h.8M419.7 121.8h.8M379.8 122.8h.8M427.9 123.8h.8M367.8 124.9h.8M376.7 125.8h.8M378.9 125.8h.8M362.8 126.8h.8M371.8 126.8h.8M369.8 127.8h.8M380.8 127.7h.8M384.7 127.8h.8M358.9 128.7h.8M367.8 128.8h.8M378.8 128.9h.8M415.8 128.8h.8M418.0 128.8h.8M435.8 128.8h.8M440.8 128.6h.8M376.9 129.7h.8M446.8 129.8h.8M360.8 130.8h.8M369.8 131.8h.8M443.7 131.7h.8M446.8 132.9h.8M455.8 132.8h.8M346.8 133.6h.8M372.8 133.8h.8M379.9 133.8h.8M382.7 133.7h.8M447.7 133.8h.8M345.8 134.8h.8M357.8 134.7h.8M365.8 134.9h.8M439.8 134.8h.8M453.8 134.8h.8M353.8 135.9h.8M358.8 136.0h.8M364.9 135.8h.8M440.7 135.7h.8M388.7 136.8h.8M454.9 136.8h.8M354.8 137.9h.8M382.7 137.8h.8M365.8 138.7h.8M450.7 138.8h.8M415.8 139.8h.8M429.9 139.9h.8M454.8 139.9h.8M450.8 140.8h.8M347.8 141.8h.8M431.8 141.8h.8M433.8 141.8h.8M428.8 142.8h.8M382.8 143.8h.8M376.9 144.8h.8M379.8 144.8h.8M349.7 145.8h.8M357.7 145.8h.8M383.8 145.8h.8M445.7 145.8h.8M374.8 146.8h.8M422.8 146.8h.8M345.8 147.8h.8M421.8 148.8h.8M437.8 150.7h.8M424.8 151.8h.8M431.7 151.8h.8M453.9 151.7h.8M426.8 153.8h.8M447.8 153.8h.8M453.8 153.8h.8M363.8 154.9h.8M379.8 155.8h.8M344.8 156.9h.8M427.8 156.8h.8M443.8 156.8h.8M344.8 158.7h.8M425.8 158.7h.8M444.8 158.9h.8M429.7 160.7h.8M444.7 160.7h.8M370.8 161.8h.8M427.8 161.7h.8M353.8 162.9h.8M380.8 163.8h.8M349.8 164.8h.8M441.9 164.9h.8M443.7 164.8h.8M376.9 165.9h.8M378.7 165.8h.8M348.8 166.8h.8M375.8 167.8h.8M366.9 168.8h.8M371.8 168.8h.8M369.8 169.7h.8M432.7 169.9h.8M347.7 170.7h.8M350.8 171.8h.8M371.8 171.8h.8M454.7 171.9h.8M373.8 172.7h.8M351.0 173.7h.8M371.9 173.7h.8M375.7 173.8h.8M426.8 173.6h.8M378.8 174.7h.8M431.8 174.8h.8M371.8 175.9h.8M365.8 176.8h.8M422.8 176.8h.8M424.8 176.8h.8M436.9 176.8h.8M352.9 177.8h.8M369.8 177.8h.8M433.8 177.8h.8M355.7 178.9h.8M363.8 178.8h.8M372.8 178.8h.8M433.8 179.8h.8M442.8 179.8h.8M379.7 180.8h.8M424.8 180.9h.8M367.8 181.9h.8M375.9 181.8h.8M432.8 182.9h.8M357.9 183.8h.8M420.8 183.8h.8M368.8 184.8h.8M434.8 184.8h.8M366.7 185.8h.8M420.8 185.8h.8M346.7 186.9h.8M437.8 186.8h.8M440.8 186.8h.8M345.9 187.8h.8M368.9 187.8h.8M421.9 187.8h.8M442.8 187.8h.8M426.8 189.8h.8M430.7 189.8h.8M357.8 190.8h.8M360.8 191.9h.8M419.7 191.8h.8M432.9 191.8h.8M443.8 191.8h.8M377.8 192.8h.8M455.7 193.7h.8M348.8 194.7h.8M369.7 194.9h.8M447.8 194.9h.8M363.7 195.6h.8M366.7 195.8h.8M375.8 195.8h.8M417.8 195.8h.8M446.9 195.8h.8M355.8 196.8h.8M454.9 196.6h.8M344.9 197.7h.8M446.9 197.8h.8M372.8 198.8h.8M421.8 198.8h.8M437.7 198.8h.8M441.8 199.0h.8M417.8 199.9h.8M356.8 200.8h.8M369.8 200.8h.8M372.7 201.8h.8M424.8 201.8h.8M430.8 201.7h.8M359.8 202.9h.8M361.9 202.8h.8M370.8 202.7h.8M433.7 202.9h.8M435.9 202.8h.8M449.8 202.9h.8M362.7 203.7h.8M420.8 203.8h.8M450.8 203.8h.8M422.8 204.8h.8M431.8 204.8h.8M345.8 205.8h.8M354.8 205.8h.8M367.6 205.7h.8M436.8 205.6h.8M447.8 205.9h.8M355.8 206.7h.8M379.8 206.8h.8M445.6 206.9h.8M451.9 206.7h.8M345.8 207.8h.8M386.8 207.8h.8M425.7 207.7h.8M455.6 207.8h.8M356.8 208.8h.8M377.8 208.8h.8M381.7 208.7h.8M357.8 209.8h.8M422.9 209.7h.8M449.0 209.8h.8M454.8 209.8h.8M345.8 210.6h.8M439.8 210.8h.8M374.7 211.9h.8M440.9 211.8h.8M386.8 212.8h.8M446.6 212.8h.8M353.8 213.8h.8M376.8 213.8h.8M417.8 213.8h.8M429.8 213.8h.8M444.8 213.8h.8M411.8 214.8h.8M440.7 214.8h.8M450.8 214.6h.8M384.9 215.7h.8M408.8 215.8h.8M351.8 216.8h.8M359.8 216.9h.8M377.7 216.8h.8M347.8 217.7h.8M371.8 218.0h.8M375.8 217.8h.8M429.8 217.7h.8M438.8 217.7h.8M351.8 218.8h.8M381.8 219.0h.8M393.8 218.8h.8M355.8 219.8h.8M373.8 219.9h.8M376.9 219.7h.8M426.8 219.7h.8M386.8 220.8h.8M392.8 220.8h.8M418.8 220.7h.8M372.8 222.8h.8M430.8 222.8h.8M442.8 222.8h.8M448.8 223.8h.8M410.8 224.8h.8M424.8 224.8h.8M369.8 225.8h.8M382.8 225.8h.8M406.8 228.8h.8M377.8 229.8h.8M412.8 229.7h.8M415.8 229.8h.8M384.8 230.8h.8M387.8 231.8h.8M394.7 231.8h.8M410.8 231.9h.8M412.8 231.8h.8M424.8 233.8h.8M416.7 234.9h.8M395.8 235.7h.8M409.8 235.8h.8M445.7 236.0h.8M355.7 236.8h.8M363.8 236.8h.8M437.8 236.8h.8M362.8 238.8h.8M371.8 239.8h.8M394.9 239.7h.8M388.8 240.8h.8M422.8 240.8h.8M409.8 241.8h.8M403.7 243.8h.8M363.8 244.7h.8M387.8 246.8h.8M373.8 247.8h.8M350.8 248.8h.8M362.8 248.8h.8M400.8 250.8h.8M395.8 251.8h.8M421.8 251.8h.8M381.7 254.8h.8M361.8 255.8h.8" fill="none" stroke="#161616" stroke-width="0.8"/><path d="M344.2 241.8l1-.4 1 0 .6-.6 .4-.8 .1-.2 .2-1 .7-1 .6-1 .4-.3 .6-.7 0-1 .4-.2 .9-.8 .1-.4 .3-.6 .7-.6 .3-.4 .7-1 .7-1 -.5-1 .8-.4 .8-.6 .2-.4 .4-.6 .4-1 .2-.1 1-.9 .8-1 .2-1 1-.7 .2-.3 .7-1 .1-1 1-.2 .4-.8 .3-1 .2-1 .1-.1 1-.4 .5-.5 .5-.9 0-.1 0-.8 0-.2 1-.6 .2-.4 .8-.7 .3-.3 .3-1 -.6-.9 -.2-.1 .2 0 1-.9 .1-.1 -.1-.5 -.1-.5 .1 0 1-.1 .9-.9 .1-.2 .7-.8 .3-.7 1 .1 .2-.4 .1-1 .7-.8 .1-.2 .9-.6 .3-.4 -.3-.7 -.4-.3 .4-.7 .7-.3 .1-1 -.8-.7 -.4-.3 .4-.4 1 0 1 .1 1-.6 .1-.1 .9-.6 .3-.4 .7-.8 .1-.2 -.1-.3 -1-.5 -.2-.2 .2-.2 1-.1 1-.4 .1-.3 -.1-.2 -1-.5 -.8-.3 .8-.8 .2-.2 .5-1 -.6-1 -.1-.1 -1-.5 -.9-.4 -.1-.3 -.2 .3 -.8 1 0 .1 -1 .1 -1 .8 0 .3 -.1-.3 -.4-1 .2-1 .3-.4 .7 .4 .3 .1 .1-.1 0-1 -.1-.1 -.8-.9 -.2-.4 -1-.2 -.4-.4 .2-1 .2-.1 1-.6 .8 .7 .2 .2 1 .2 .5-.4 .3-1 .2 0 .2 0 .8 .1 .3-.1 .7-.5 .8-.5 .2-.4 1 .2 .6-.8 -.3-1 -.3-.3 -.7 .3 -.3 .4 -.2-.4 -.8-.6 -.4-.4 .2-1 .2-.2 .8-.8 -.8-.5 -1-.1 -1 0 -1 .3 -.3 .3 .3 .2 .7 .8 .3 .8 .1 .2 -.1 .1 -1 .9 -.8-1 -.2-.2 -1-.6 -1 .5 -.6-.7 .6-.6 1-.1 .1-.3 .2-1 0-1 .1-1 .6-.4 .6 .4 0 1 .4 .5 .4-.5 .6-.5 .6-.5 -.6-.6 -1 0 -.2-.4 -.2-1 .4-.6 .6-.4 -.6-.6 -.3 .6 -.7 .5 -1-.1 -1-.2 -1 .1 -.7 .7 .7 .5 .6 .5 -.3 1 .7 .7 .6 .3 -.6 .3 -.7 .7 -.3 .8 -.6 .2 -.4 0 -.7 0 -.3 0 -.8-1 .4-1 .2-1 -.8-.8 -.5-.2 .5-.2 .9-.8 0-1 -.6-1 .7-.9 .3 .9 .7 .7 .8-.7 .2-.7 .7 .7 .3 .3 .2-.3 .7-1 .1-.4 .1-.6 -.1-.2 -.5 .2 -.5 .1 -1 .7 -1-.2 -1 .3 -.6-.9 .1-1 -.5-.6 -.8 .6 0 1 -.2 .1 -.5 .9 -.3 1 0 1 -.2 .3 -1 0 -.2-.3 -.8-.6 -.5 .6 -.5 .3 -1-.1 -.3-.2 -.7-.6 -.7-.4 .7-.6 .7-.4 .1-1 .2 0 1-.8 1 .5 .4 .3 .6 .2 .3-.2 -.3-.8 -.1-.2 .1-.1 .5-.9 .5-.3 1-.3 1-.3 .1-.1 .9-.4 .6-.6 .4-.5 .7-.5 .3-.1 .6-.9 .4-.8 .4 .8 .1 1 -.5 .5 -.5 .5 -.2 1 -.2 1 .9 .5 .6-.5 .1-1 .3-.6 .4-.4 0-1 .6-.6 .7 .6 -.5 1 .8 .7 1 .1 1 .1 .5-.9 0-1 .5-.4 .7-.6 -.7-.5 -1 0 -.4 .5 -.6 .4 -.7-.4 -.3-.5 -.3-.5 .3-.5 .5-.5 .5-.4 .5 .4 .5 .4 1 .2 .3-.6 .7-.8 .4-.2 -.4-.3 -.5 .3 -.5 .4 -.4-.4 -.6-.6 -.2-.4 .2-.4 1-.3 1 .2 .6-.5 .4-.3 .5 .3 .5 .6 .2-.6 -.2-.8 -.1-.2 -.7-1 -.2-1 -.4 1 -.4 1 -.2 .3 -1 .2 -.2-.5 -.8-.5 -1 0 -1-.1 -.4-.4 .3-1 .1-.1 .2 .1 .8 .2 .3-.2 .7-.6 .6 .6 .4 .7 .5-.7 .5-.3 .5-.7 0-1 -.3-1 -.2-.4 -.8-.6 .8-.8 1 .4 .4-.6 -.4-.5 -.8-.5 .2-1 .6-1 .5 1 .5 .9 1-.5 1 .1 1-.3 0-.2 .5-1 -.5-.9 -1 .3 -1 .1 -.6 .5 -.4 .2 -1-.2 .9-1 .1-.8 .1-.2 .9-.3 .2 .3 .8 .8 1-.2 1-.2 .2-.4 -.2-.1 -1-.1 -1-.7 -.1-.1 -.2-1 .3-.4 .6 .4 .4 .2 .1-.2 .9-1 .6 0 -.3-1 .2-1 .4-1 .1 0 1-.9 1 .2 1 .4 .5-.7 -.5-.6 -1 .4 -1-.3 -.3-.5 -.6-1 -.1-.5 -1 .1 -.3 .4 -.7 .9 -.5-.9 .4-1 .1-.2 .4-.8 .4-1 -.8-1 0-.1 1-.7 .4 .8 -.2 1 .8 .6 1 .4 -.3-1 .1-1 -.2-1 -.6-.7 -1 0 -.1-.3 .1 0 .6-1 -.6-.7 -1 .1 -.1-.4 -.1-1 -.1-1 .3-.1 .3 .1 0 1 .7 .4 .5-.4 .5-.6 .1-.4 .4-1 0-1 -.5-.3 -.9 .3 -.1 .1 0-.1 -.3-1 .3-.5 .8-.5 .2-.2 .4 .2 .6 .2 .3-.2 -.3-.3 -.5-.7 .5-.6 .2-.4 -.2-.7 -.4 .7 -.6 .4 -.7-.4 .6-1 -.3-1 .3-1 -.9-.6 -.1-.4 .1-.4 1-.2 .8 .6 .2 .7 .2-.7 .6-1 -.1-1 .3-.9 0-.1 0-.1 -.7-.9 -.3-.4 -1 0 -.9 .4 -.1 .1 0-.1 -.3-1 .3-.8 1 .4 1 .1 .9-.7 .1-.1 .8 .1 .2 0 .3-1 -.2-1 -.1-.1 -1-.9 .6-1 .4-.7 .4-.3 -.4-.5 -.4-.5 .4-.3 1 .3 .6-1 -.6-.7 -.9-.3 -.1-.3 -.1 .3 -.9 .8 -.6 .2 -.4 .1 -.2-.1 .2-1 0-.2 .3-.8 .4-1 .3-.3 .3-.7 -.3-.5 -.5-.5 .5-.4 .5-.6 -.1-1 -.4-.4 -.7-.6 -.3-.6 -1 .1 -.3-.5 .3-.9 .3-.1 .7-.3 .3-.7 -.3-.6 -1-.3 0-.1 0-.1 .7-.9 -.1-1 -.6-.3 -.5-.7 .4-1 .1-.2 .3 .2 .7 .7 .3 .3 .7 .3 .5-.3 -.5-.7 -.4-.3 -.4-1 .8-.8 .1-.2 -.1-.3 -.3-.7 -.5-1 .8-1 .3 0 0-1 -.3-.8 -.1-.2 -.9-1 1-.4 1-.6 0-.2 .1-.8 -.1-.9 -1 .5 -.5-.6 .2-1 .3-.2 .5-.8 .5-.3 1-.3 .4 .6 .6 .2 1-.2 -1-.4 -.7-.6 -.3-.3 -.3-.7 0-1 .3-.3 .5-.7 .5-.7 .5-.3 -.3-1 .8-.4 1-.4 .1-.2 -.1-.1 -1-.6 -.4 .7 -.6 .9 -1-.8 -.2-.1 -.2-1 .4-.1 1-.7 .4-.2 -.4-.6 -1-.2 -1 0 -1-.2 1-.8 .1-.2 -.1-.1 -.8-.9 .8-.6 .8-.4 -.7-1 .9-.3 .1 .3 .1 1 .8 .6 1 .4 .2-1 -.2-.1 -.6-.9 -.3-1 -.1-.1 -.5-.9 -.1-1 -.3-1 -.1-.1 -.4-.9 .1-1 -.7-.4 -.7 .4 -.3 .4 -1-.2 -1-.2 -1 0 1-.2 .7-.8 .3-.1 1-.1 1-.6 .5-.2 .5-.2 .6-.8 .1-1 .3-.7 .3-.3 -.3-.7 -.4-.3 .4-.2 .3-.8 .1-1 .5-1 -.2-1 .3-.2 .4 .2 -.2 1 .8 .4 .3-.4 0-1 .7-1 0-.1 .4-.9 .6-.2 .9-.8 .1-.6 1 .1 1-.4 1 .1 .9-.2 .1-.5 1-.2 1 .5 1-.3 .7-.5 .3-.2 .2 .2 .1 1 .7 .1 .7 .9 .3 .4 .9 .6 .1 0 .9 1 .1 .3 1 .5 .2 .2 -.2 .7 -.1 .3 -.5 1 .5 1 .1 .1 1 .3 1 .6 .2 0 -.1 1 -.1 0 -1 1 .2 1 .7 1 .1 .7 1-.5 .2 .8 .2 1 -.1 1 .3 1 -.6 1 -1-.7 -.4 .7 .4 .4 1-.4 .3 1 -.3 .6 -.6 .4 .6 .5 .7 .5 -.7 1 .5 1 -.4 1 .3 1 .1 1 .5 .5 .3 .5 -.3 .6 -.7 .4 -.3 .5 -1 .1 -.4-.6 -.4-1 -.2-.2 -.1 .2 -.5 1 .6 1 .1 0 -.1 0 -.9 1 .9 .6 1 .4 -.4 1 .4 .3 .7-.3 -.7-1 1-.3 .5 .3 -.4 1 .1 1 .3 1 .4 1 .1 .2 .2 .8 .8 .9 .1 .1 .6 1 .2 1 -.9 .8 -.9-.8 -.1-.1 -.1 .1 -.5 1 .6 .6 .7 .4 -.7 .9 0 .1 0 .1 .8 .9 -.8 .9 -.1 .1 .1 .1 .5-.1 .5-.4 .1 .4 .2 1 -.3 .2 -.4 .8 .3 1 .1 .1 1 .7 1 .2 -.3 1 -.2 1 -.5 .7 -.5 .3 -.5 .9 0 .1 -.3 1 .3 .4 .5-.4 .5-.7 1 .3 .3 .4 .3 1 -.6 .5 -1 .4 -.2 .1 -.8 1 1 .5 1 .4 .1 .1 -.1 .1 -1 .4 -.3 .5 -.7 .4 -.7 .6 .7 .7 .4 .3 -.3 1 -.1 .1 -.4-.1 -.6-.3 -.3 .3 -.7 1 .8 1 .2 .2 1 .8 0 .3 .8 .7 -.8 .2 -.6 .8 .3 1 .3 .7 1 .2 1-.1 .2 .2 -.2 .1 -1 .6 -.1 .3 -.9 .3 -.6 .7 .6 .5 .5 .5 -.5 .6 -.6 .4 -.4 .5 -.3 .5 .3 .4 .7-.4 .3-.3 .3 .3 .1 1 -.4 .8 -.1 .2 .1 .1 .6 .9 -.6 .5 -.2 .5 .2 .3 1 .4 .6 .3 -.6 .5 -1 .5 .6 1 -.2 1 .3 1 .3 .4 .6 .6 .4 .5 .2 .5 .8 .8 .2 .2 .3 1 .5 .9 .2 .1 -.2 0 -1 .1 -.6-.1 -.4-.1 -.1 .1 -.5 1 0 1 .6 .8 1-.1 1-.4 .5 .7 -.5 .4 -.7 .6 -.1 1 .2 1 -.4 .3 -.4-.3 .2-1 -.1-1 -.7-.9 -.8 .9 .2 1 -.2 1 .6 1 .2 .2 .8 .8 0 1 .2 .2 1 .1 .3 .7 .7 .9 .3 .1 .2 1 -.5 .7 -.1 .3 .1 .2 .7-.2 .3-.2 .3-.8 .5-1 .2-.4 .5-.6 .5-.5 .7-.5 .3-.3 .3-.7 .7-.6 .3-.4 0-1 .7-.8 .1-.2 .9-.5 .6-.5 .4-.5 .7-.5 -.7-.6 -.2-.4 .2-.3 1-.2 1 0 .4-.5 .6-.9 .1-.1 .2-1 -.2-1 .9-.3 .9-.7 .1 0 1-.9 .1-.1 -.1-.8 0-.2 .6-1 .4-.4 1-.4 .3-.2 .2-1 .5-.5 .4-.5 .6-.4 .8-.6 .2-.3 .4-.7 .6-.7 .3-.3 .7-.9 0-.1 .4-1 .3-1 .3-.3 .9-.7 .1 0 .9-1 .1-1 1-.4 .5-.6 .5-1 1-1 .6-1 .4-.5 .5-.5 .5-.5 .4-.5 .4-1 0-1 .2-.2 .3 .2 .7 .7 .5-.7 .5-1 .7-1 0-1 .3-.1 1-.9 .9-1 .1-.4 .3-.6 .6-1 .1-.2 1 .1 .6-.9 .1-1 .3-.2M414.2 48.2l-1-.2 -.1-.2 -.4-1 .5-.5 .8 .5 .2 .2 .2 .8zM415.2 57.0l-.2-.2 -.8-1 1-.1 .1 .1 .1 1zM412.1 61.8l-.9-.7 -.9-.3 -.1-.1 -.6 .1 .5 1 .1 0 1 .6zM414.2 67.3l-1-.3 -.6-.2 .6-.5 1-.1 .2 .6zM409.0 67.8l-.8-.3 -1-.2 -.5 .5 .5 .7 1-.4zM416.2 73.4l-1 .4 -1-.9 -.7-.1 .3-1 .4-.1 .1 .1 .9 .7 1-.2 .5 .5zM387.2 80.2l-1 .3 -.2-.7 .2-.7 1 .5 .3 .2zM457.2 94.4l-.7-.6 -.3-.2 -.3 .2 .3 .2 .6 .8 0 1 -.6 .5 -.5 .5 -.5 .6 -.5 .4 .3 1 -.8 .5 -.5 .5 -.5 .4 -.6 .6 -.2 1 -.2 .6 -.1 .4 -.9 .9 -.2 .1 -.8 .9 0 .1 -.2 1 -.1 1 -.7 .6 -.7 .4 -.3 .7 -.2 .3 -.8 .9 0 .1 -.8 1 -.2 .5 -.6 .5 -.4 .3 -.5 .7 .2 1 -.7 .6 -.2 .4 -.8 .6 -.5 .4 -.5 .8 -.1 .2 -.9 .9 -.1 .1 .1 .6 .1 .4 -.1 .2 -.5 .8 -.5 .5 -.4 .5 -.6 .8 -.1 .2 -.6 1 -.3 .2 -.6 .8 -.4 .8 -.1 .2 -.9 .6 -.3 .4 -.7 .7 -.2 .3 -.1 1 -.7 1 -1 1 -.4 1 -.6 .9 -.1 .1 -.7 1 -.2 .3 -.8 .7 -.2 .2 -.4 .8 -.6 .9 -.1 .1 -.9 .8 -.2 .2 .2 .5 .8-.5 .2-.4 1 .2 .2 .2 -.2 .1 -.9 .9 -.1 .1 -1 .1 -.7 .8 -.3 .2 -.8 .8 .2 1 .6 .9 .3 .1 -.3 0 -.9 1 .3 1 0 1 -.4 1 -.1 0 -.9-.2 -.7-.8 -.3-.4 -.3 .4 -.7 .8 -.1 .2 -.8 1 .9 .9 1-.9 -.5-1 .5-.3 .4 .3 -.4 1 .8 1 .2 .4 .2 .6 -.2 .5 -.7 .5 -.3 .2 -1 .1 -.6 .7 -.4 .4 -1 .1 -.4 .5 -.2 1 .6 .8 .6-.8 .4-.3 1 0 .9 .3 .1 .4 .2 .6 .2 1 -.4 .3 -1 0 -1 .2 -.5 .5 -.2 1 .7 .5 1 .1 .5 .4 .5 .4 1-.3 .5 .9 .5 .7 1-.4 .7 .7 -.1 1 -.4 1 -.2 .5 -.3-.5 -.7-.6 -.7 .6 -.3 .5 -1 .3 -.2 .2 .2 .3 1 .3 .3 .4 .6 1 .1 .2 .4-.2 .5-1 .1-.1 .1 .1 .2 1 .3 1 -.3 1 .7 .2 1 .2 .9 .6 -.9 .6 -1 .4 -1 .8 -.2 .2 .2 .3 .3-.3 .7-1 1 .3 .6 .7 -.5 1 -.1 .7 -.1 .3 -.4 1 .5 .4 1-.4 1 1 -1 .8 -.6 .2 -.2 1 -.2 .3 -1 .6 -1 0 -.7-.9 .2-1 .5-.3 .6-.7 .1-1 -.6-1 -.1-.1 -.2 .1 -.3 1 -.4 1 -.1 .2 -.6-.2 -.4-.3 -.7-.7 -.2-1 -.1-.2 -.6-.8 -.4-.2 -.1 .2 .1 .1 1 .9 -.2 1 .2 .4 .6 .6 -.4 1 .5 1 -.3 1 -.4 .6 -.3-.6 -.7-.7 -1 .5 -.1 .2 -.4 1 .5 .3 .6-.3 .4-.1 .2 .1 .6 1 -.8 .6 -.7 .4 .2 1 -.5 .6 -.2 .4 -.3 1 -.5 .1 -.3-.1 -.7-.3 -.2 .3 .1 1 -.9 .9 -.1 .1 -.4 1 .5 .4 .5-.4 0-1 .5-.7 .4 .7 -.1 1 .6 1 .1 .2 .2 .8 .8 .9 1-.4 .7 .5 -.7 .6 -.5 .4 -.5 .4 -.8 .6 .3 1 .2 1 -.7 .6 -.4-.6 .1-1 0-1 -.7-.3 -.8 .3 -.2 .2 -1 .7 0 .1 -.4 1 .4 .6 .7-.6 .3-.3 .3 .3 .7 .3 .9 .7 .1 .6 .2 .4 -.1 1 .3 1 .6 .4 .4 .6 -.4 .3 -1 .1 -.9-.4 .4-1 0-1 -.5-.1 -1-.2 -1-.6 -.7 .9 -.3 .7 -1-.7 0-.1 -1 0 -.1 .1 0 1 .1 .1 .1-.1 .9-1 .7 1 .3 1 -1 .9 0 .1 .8 1 .1 1 .1 .4 .2 .6 -.2 .3 -.3 .7 -.7 .5 -.7-.5 -.3-1 -.2 0 -.4 1 .6 .5 .3 .5 .2 1 .2 1 .3 .3 .7-.3 .3-.3 .4 .3 .6 .5 .5 .5 .5 .3 1 .3 .2 .4 -.2 .6 -1-.3 -.8 .7 .2 1 -.4 .8 -1-.5 -.1-.3 .1-.1 .8-.9 -.3-1 -.5-.6 -.7 .6 -.2 1 -.1 .1 -.8 .9 -.2 .2 -.5-.2 -.5-.3 -.3 .3 -.4 1 .4 1 -.7 .5 -.7-.5 -.3-.2 -.1 .2 .1 .2 .7 .8 -.7 .9 -.1 .1 -.7 1 -.2 .9 -1-.3 -1-.4 -.4 .8 .4 .5 1-.3 1 0 1 0 1 .3 1 .2 0 .3 0 .1 -1 .6 -.8 .3 -.2 .2 -.3 .8 .3 .3 .2 .7 0 1 -.2 .1 -.3-.1 -.7-.2 -1 .1 -1-.8 -.7 .9 .7 .6 .3 .4 .7 .6 .5 .4 .5 .8 .2 .2 -.2 .2 -1 .2 -.4 .6 -.6 .5 -1-.2 -.5-.3 -.4-1 .5-1 -.5-1 -.1 0 -.1 0 -.3 1 .3 1 -.2 1 .3 .7 .1 .3 .5 1 -.6 .1 -1 .1 -.5-.2 0-1 -.5-.2 -.2 .2 -.1 1 -.7 .6 -.7 .4 -.3 .8 0 .2 0 .2 .5 .8 -.3 1 -.2 .1 -.3-.1 -.7-.2 -.9-.8 -.1-.3 -.1 .3 .1 .3 .6 .7 .4 .2 .5 .8 0 1 -.4 1 -.1 .5 -.6 .5 -.4 .2 -.2 .8 0 1 .2 .3 .3-.3 .7-.6 1 0 .4 .6 0 1 -.4 .2 -1 .3 -1 .1 -.6 .4 -.4 .4 -.3-.4 -.5-1 -.2-.7 -.5 .7 -.5 .1 -.2-.1 0-1 .1-1 -.2-1 .2-1 -.3-1 .1-1 -.7-.3 -.5-.7 -.2-1 .7-.9 .7 .9 .3 .4 .4-.4 -.4-.4 -.8-.6 .4-1 -.6-.9 -.2-.1 -.5-1 .7-.8 .2-.2 -.2-.1 -1 .1 -.1 0 -.6 1 .6 1 -.9 .7 -1-.7 .7-1 -.7-.7 -.5-.3 0-1 -.5-.8 -.7-.2 -.3-.3 -1 0 -.3-.7 -.6-1 .1-1 .3-1 .5-.9 .1-.1 .6-1 -.1-1 -.3-1 -.3-.4 -.6-.6 -.4-.4 -.6-.6 -.4-.3 -.3 .3 -.2 1 -.5 .3 -.8 .7 .2 1 -.4 .6 -.2-.6 -.2-1 -.6-.4 -.2-.6 .2-.4 1 .2 .6-.8 -.3-1 .3-1 .4-.9 0-.1 .1-1 .3-1 -.4-.5 -.4-.5 .4-.9 .2-.1 -.2-.1 -1-.7 -1 .7 -.6-.9 .6-.8 .7-.2 -.2-1 -.5-.4 -.4 .4 -.3 1 -.3 .2 -.4-.2 -.6-.4 -1-.4 -.9-.2 -.1 0 -.1 0 -.5 1 .3 1 -.7 .8 -.9-.8 .6-1 -.7-.3 -.4 .3 .2 1 -.8 .5 -.3 .5 .3 .7 .1 .3 .6 1 -.6 1 .5 1 -.6 .3 -1 .4 -.8-.7 .8-.4 .9-.6 -.9-.5 -.9-.5 .2-1 -.3-.1 -.1 .1 -.3 1 .4 .4 .1 .6 -.1 .5 -1 .1 -1 .1 -.3 .3 -.7 .7 -.2 .3 -.2 1 -.6 .7 -.3 .3 .3 1 -1 .4 -1 .1 -.3 .5 -.2 1 -.5 .6 -.5 .4 -.5 1 -1 1 0 .1 -.3 .9 -.7 .4 -.5 .6 -.5 .6 -.6 .4 -.2 1 -.2 .3 -1 .5 -.2 .2 -.1 1 -.6 1 -.1 .1 -1 .9 -.1 0 -.9 .7 -.3 .3 -.2 1 -.3 1 -.2 .4 -1 .4 -.1 .2 -.4 1 -.5 .8 -.9 .2 0 1 -.1 .7 -1 .3 -.7 1 -.3 .4 -1 .5 -.1 .1 -.3 1 -.6 .4 -.5 .6 -.5 .9 0 .1 -.5 1 -.5 .6 -.5 .4 -.3 1 -.2 .7 -.2 .3 -.8 .5 -.5 .5 -.5 .6 -.9 .4 -.1 .1 -.5 .9 -.5 .3 -.9 .7 -.1 .1 -.9 .9 0 1 -.1 .5M386.2 99.9l-.1-.1 0-1 .1-.5 .4 .5 0 1zM412.3 104.8l-.1 0 -.8-1 .8-.9 .2-.1 -.2-.3 -.2 .3 -.8 .6 -.3 .4 .3 .3 .9 .7 .1 0zM384.2 109.1l-1 .1 -.4-.4 .2-1 .2-.1 .3 .1 .7 .7 .8 .3zM412.1 108.8l.1-.7 .1-.3 -.1-.1 -1-.5 -.5 .6 -.2 1 .7 .7zM388.4 116.8l-.2-.4 -1-.4 -.4 .8 .4 .7 1-.4zM417.2 119.5l-.4-.7 .2-1 -.8-.5 -.6-.5 .6-.6 1 .2 1 .4 1-.2 .2 .2 -.2 .3 -1-.2 -.9 .9 .2 1zM385.2 119.9l-1 0 -.1-.1 .1-.2 1-.1 .1 .3zM383.2 129.8l-1 .6 0-.6 0-.9 1 .7 .1 .2zM421.2 129.8l-1 .3 -.3-.3 .3-.1 1-.4 0 .5zM381.2 133.3l-.4-.5 .4-1 .1 0 .7 1zM441.2 132.9l-.1-.1 -.2-1 .3-.2 .1 .2 0 1zM376.2 137.3l-.2-.5 -.3-1 .5-.1 .1 .1 0 1zM413.5 136.8l.7-1 -1 .7 -.1 .3 .1 .1zM379.2 138.9l-.1-.1 -.9-.9 -.3-.1 .3-.1 1-.6 .4-.3 .6-.5 .4 .5 0 1 -.4 .2 -.9 .8zM384.2 139.6l-1-.5 -1-.3 1-.1 .7-.9 -.4-1 .7-.9 .3 .9 .2 1 0 1zM390.3 139.8l-.1-.3 -.7-.7 -.3-.4 -1 .4 1 .4 .6 .6 .4 .2zM376.2 141.9l-.2-.1 -.1-1 .3-.2 .2 .2 -.1 1zM451.2 144.5l-1-.6 0-.1 1-.1 .2 .1zM379.2 146.6l-.6-.8 .2-1 .4-.7 .3 .7 .7 1zM431.2 145.3l-1-.5 -.1 0 .1-.1 1-.2 .3 .3zM434.2 145.9l-1-.1 -.1 0 .1 0 1-1 0 1zM368.2 146.4l-1-.6 0-.2 1-.3 .6 .5zM374.2 146.5l-1-.6 -.1-.1 .1 0 1-.3 .5 .3zM441.2 146.9l-.5-.1 -.5-.2 -.2-.8 .2-.3 1 .2 .4 .1 -.3 1zM444.2 145.8l-1 .6 -.6-.6 .6-.2 1 .1 .1 .1zM370.2 150.3l-1 .4 -.5-.9 .5-.6 .6-.4 .4-.4 .9-.6 .1-.1 .1 .1 .9 .8 .3 .2 -.3 .3 -1-.2 -.6 .9zM378.2 149.6l-.3-.8 -.7-.9 -1 .9 -.6-1 .6-.6 1 .4 1 0 .6 .2 .1 1zM436.2 148.8l-1-.6 -.7 .6 -.3 .6 -.6-.6 -.4-.5 -.3-.5 .3-.3 1-.2 1 .3 1-.8 .7 1 -.7 1zM361.2 149.8l-1-.9 -.1-.1 .1 0 1 0 .1 1zM386.5 148.8l-.3-.3 -1-.7 -.4 1 .4 .3 1-.1zM420.5 149.8l.7-.8 1 .4 1-.2 .5-.4 -.5-.8 -1-.1 -1 .6 -.1 .3 -.9 .8 -.1 .2 .1 .2zM353.2 150.9l-.1-.1 .1-1 0-.1 .1 .1 .1 1zM364.2 150.1l-1 .2 -.6-.5 .6-.8 1 .8 .1 0zM374.2 153.0l-1 .4 -1-.4 -.2-.2 .2-.4 1-.1 .7-.5 .3-.6 .3-.4 .3-1 .4-.3 .6 .3 .4 .7 .6 .3 .4 .1 .5 .9 -.5 .7 -1-.4 -1-.1 -.8 .8zM384.0 150.8l-.3-1 -.5-.3 -.2 .3 -.3 1 .5 .3zM427.2 151.3l-.1-.5 -.9-.7 -.4-.3 .4-.2 1-.5 1-.1 .3 .8 -.3 1 -.2 0zM430.2 151.3l-1-.4 -.7-.1 .7-.1 1-.8 .3 .9zM432.2 159.6l-.5-.8 -.5-.3 -.4-.7 .4-.9 .2-.1 .3-1 .5-.2 1-.8 -.2-1 .2-.2 1-.8 -.2-1 -.8-1 1-.4 1-.4 1 .5 .4 .3 -.4 .5 -.5 .5 -.5 .5 -.9 .5 0 1 -.1 .2 -.8 .8 .2 1 -.4 .4 -.7 .6 .3 1 -.4 1zM429.2 154.3l-1 .5 -.3-1 -.7-.9 -1 .5 -1-.5 -.4-.1 .4 0 1-1 .2 0 .8 .4 1-.1 .3 .7 .7 .6 .5 .4zM439.2 152.1l-1 .5 -.6-.8 .6-.4 1 0 .3 .4zM368.2 153.9l-.1-.1 0-1 .1-.1 .1 .1 0 1zM370.2 153.8l-.1-1 .1 0 0 1zM431.2 154.0l-.2-.2 .2-1 .1 1zM446.2 153.0l-1 0 -.4-.2 .4-.3 1 .1 1 .2zM438.2 155.0l-.1-.2 -.1-1 .2-.3 .1 .3 .3 1zM440.2 155.1l-.8-.3 .5-1 .3-.6 .3 .6 0 1zM361.2 155.9l-1 0 -1 .3 -.3-.4 -.1-1 .4-.3 .6 .3 .4 .7 1 .3 .1 0zM371.2 157.3l-1-.1 -1-.3 0-.1 1-.1 .9-.9 -.5-1 .6-.3 .7 .3 -.5 1 .1 1zM420.7 156.8l-.4-1 .7-1 -.8-.4 -.9 .4 .8 1 -.9 .6 -.4 .4 .4 .2 1 .3zM457.2 155.0l-.3-.2 .3-.4M355.2 156.4l-1-.3 -.5-.3 .5-.7 1 .5 .2 .2zM430.2 157.1l-1 .7 -.1-1 -.9-.7 -.5-.3 .5-1 1 .6 .5 .4 .5 .6 .9 .4zM352.2 157.1l-1-.2 -.1-.1 .1-.2 1 .1 .5 .1zM362.2 157.8l-.1 0 -.1-1 .2-.2 .1 .2 0 1zM373.2 159.0l-1 0 -1 0 -1 .2 -1 .1 -.2-.5 .2-.2 1-.5 1 .5 .8-.8 .2-.1 .5-.9 .5-.7 .5 .7 -.4 1 .1 1zM436.2 161.1l-1-.2 -.1-.1 -.2-1 -.1-1 .1-1 0-1 .3-.2 .3 .2 .7 .5 .7 .5 -.5 1 .3 1 .1 1zM365.2 165.2l-1-.2 -.1-.2 -.9-.9 -.1-.1 -.3-1 .2-1 .2-.4 .4-.6 .6-1 -.2-1 .1-1 .1-.1 1-.2 .7 .3 -.1 1 .1 1 -.7 .9 -.1 .1 -.8 1 -.1 .6 -.2 .4 .2 .2 .5 .8 .5 .6 .3 .4zM429.2 159.4l-1 .3 -.9-.9 -.1-.4 -.2-.6 .2-.4 1 0 1 .4 .8 1zM457.2 161.9l-.1-.1 0-1 -.1-1 .1-1 -.1-1 .2-.4M369.2 160.9l-1 .1 -.3-.2 -.7-.3 -.8-.7 .5-1 .3-.3 .3 .3 .7 .6 .6 .4 .4 .6 .3 .4zM452.2 160.1l-1 .1 -1-.2 -1-.2 .7-1 .3-.3 .5 .3 .5 .5 1 .3 .2 .2zM440.2 162.5l-.8-.7 -.2-.6 -1 .4 -1-.8 .4-1 .6-.4 1 .4 1 .6 1-.6 .9 1 -.9 .7 -.2 .3zM353.2 164.8l-1-.6 -.5-.4 -.5-.7 -.3-.3 .3-.2 .9-.8 -.6-1 .7-.7 1 .3 .3 .4 -.1 1 -.2 .2 -.9 .8 .9 .9 .1 .1 -.1 1zM359.2 161.1l-1-.1 -.2-.2 .2-.9 1 .4 .4 .5zM377.1 167.8l.1-.3 1-.3 .5-.4 .5-.4 1-.3 .2-.3 .8-.9 .2-.1 .3-1 -.5-.8 -.3-.2 -.4-1 .7-.2 .3-.8 -.3-.3 -.3 .3 -.7 1 -.2 0 -.3 1 .5 .6 .3 .4 -.3 .4 -.7 .6 -.3 .3 -1 0 -1-.2 -.8 .9 .3 1 -.5 .3 -.9 .7 .9 .7zM433.2 162.9l-.1-.1 -.3-1 .2-1 .2-.2 .1 .2 .1 1 -.1 1zM445.2 165.2l-.3-.4 -.7-.9 -.5-.1 -.4-1 .7-1 .2-.2 1 .1 .9-.9 .1-.3 .3 .3 -.3 1 -1 .1 -.6 .9 .6 .9 .1 .1 .2 1zM429.2 163.3l-1-.3 -.5-.2 .5-.2 .8-.8 .2-.4 1 .1 1-.5 .6 .8 -.6 .5 -1 0 -.3 .5zM435.2 167.3l-1 .1 -1-.6 .5-1 -.2-1 .1-1 .6-.5 .5-.5 .5-.5 1-.1 .2-.4 .8-.9 .7 .9 .3 .9 0 .1 0 .4 -.1 .6 .1 .3 .4 .7 -.4 .3 -.4 .7 -.6 .8 -.7-.8 -.3-.3 -.6 .3 .4 1zM442.2 164.0l-.3-.2 .1-1 -.1-1 .3-.6 .2 .6 .6 1 -.1 1zM451.2 163.8l-.3-1 .1-1 .2-.4 .7 .4 0 1zM344.2 162.4l.8 .4 -.8 .4M360.2 162.8l-1 .1 -.1-.1 .1-.1 1 .1zM349.2 165.9l-.4-.1 -.2-1 -.4-.8 0-.2 0-.2 1 0 .3 .2 0 1 -.2 1zM431.2 165.2l-.4-.4 .1-1 .3-.2 .3 .2 .1 1zM451.2 164.9l-1 .1 -.4-.2 -.6-.3 -.5-.7 .5-.6 1 .2 1 .4 1 1zM344.2 164.8l0 .2M429.2 166.3l-.7-.5 .5-1 .2-.3 .4 .3 0 1zM457.2 165.1l-1 .4 -.4-.7 .4-.3 1-.1M347.2 166.1l-1 .2 -1-.2 -.3-.3 .3-.1 1-.2 1 .2 .7 .1zM370.7 166.8l-.3-1 -.2-.1 -.1 .1 -.1 1 .2 .3zM440.2 166.7l-1-.2 -.7-.7 .7-.8 1 .6 .6 .2zM448.2 166.8l-.3-1 .3-.2 1-.6 .6 .8 -.6 .4 -1 .6zM360.2 167.9l-.1-.1 -.3-1 .4-.5 .3 .5 -.2 1zM433.2 168.9l-1 .3 -1 .1 -.7-.5 -.2-1 -.1-.1 -.5-.9 .5-.5 1-.1 1-.2 1 .8 0 .1 .3 .9 .4 1zM441.2 168.3l-.1-.5 -.7-1 .8-.4 .2 .4 -.2 1zM455.2 167.1l-1 .2 -.7-.5 .7-.5 1 .3 .7 .2zM457.2 167.5l-.7-.7 .7-.4M350.2 168.8l-1 .5 -1-.4 -.1-.1 .1-.4 .2-.6 .8-.4 .8 .4 .2 .8 0 .2zM380.3 168.8l.9-.9 .1-.1 -.1-.1 -.1 .1 -.9 .8 -.1 .2 .1 .1zM436.2 169.0l-.4-.2 -.1-1 .5-.8 .7 .8 -.4 1zM444.2 169.8l-1-.7 -.6-.3 .3-1 .3-.9 1 .9 1 1zM453.2 169.1l-1 .1 -.4-.4 .4-.6 .5-.4 .5-.5 .3 .5 .1 1zM344.2 168.5l1 .2 0 .1 -1 .2M356.2 169.6l-1-.5 -.2-.3 .2-.2 1-.5 .8 .7zM442.2 170.7l-1-.4 -1-.2 -.9-.3 .6-1 .3-.5 .8 .5 .2 .2 1 0 .4 .8zM449.2 171.5l-1-.3 -.2-.4 -.2-1 .4-.5 .6-.5 .4-.7 .4 .7 0 1 .2 1zM435.2 177.0l-.2-.2 -.7-1 .8-1 -.9-.4 -1-.3 -.5-.3 -.5-.3 -.7-.7 .7-.4 .8-.6 .2-.2 .8-.8 .1-1 .1-.7 .6 .7 -.4 1 .6 1 0 1 .2 .2 1 .5 .5 .3 .5 .8 .5 .2 -.1 1 -.4 .1 -1 .5 -.8 .4zM457.2 170.1l-.2-.3 .2-.8M350.2 174.2l-1 0 -.1-.4 -.8-1 -.1-.1 -.4-.9 .4-.2 .6-.8 .4-.7 .8 .7 .2 .3 .5 .7 -.2 1 0 1zM357.2 170.8l-1 .1 0-.1 0-.2 1 .2zM377.8 171.8l.4-.6 .5-.4 -.5-.3 -.3 .3 -.7 .5 -.8 .5 .8 .3zM436.2 172.0l-.7-.2 .5-1 .2-.1 .2 .1 0 1zM344.2 171.4l1-.5 1 .4 .3 .5 -.3 .4 -1 .2 -1-.4M381.4 172.8l-.2-.1 -.9-.9 -.1-.2 -.3 .2 .3 .6 .5 .4 .5 .1zM439.2 173.2l-.5-.4 .3-1 .2-.5 1 .5 -.6 1zM354.2 173.0l-1 .1 -1-.1 -.2-.2 .2-.5 1-.4 1 .7 .5 .2zM361.2 174.1l-.2-.3 .1-1 .1-.2 .2 .2 .7 1zM368.2 178.9l-.1-.1 -.9-.7 -.6 .7 -.4 .6 -.7-.6 -.3-.4 -1-.2 -.9-.4 .6-1 -.7-.6 -1-.3 -.8-.1 .4-1 .4-1 1-1 .1 0 .9 .6 .4-.6 .6-.5 1 .1 .6 .4 -.6 .9 -.3 .1 -.7 .5 -1 .1 -.7 .4 .7 .4 .3 .6 .4 1 .3 .5 1 .4 .7-.9 -.7-.8 -.4-.2 -.1-1 .5-.6 .2 .6 .8 .6 .5 .4 -.1 1 .6 .7 .4 .3 -.1 1zM452.2 172.8l-1 .2 -1 .5 -.7-.7 .7-.4 1 .1 1 0 .1 .3zM344.2 173.7l.1 .1 .5 1 .4 .5 .1 .5 -.1 .6 -.1 .4 -.5 1 -.4 .2M356.2 178.0l-.9-.2 -.1-.1 -1-.8 -.1-.1 .1 0 .9-1 -.9-.8 -.2-.2 .2-.3 .9-.7 .1-.3 .1 .3 -.1 1 .5 1 .5 .2 .7 .8 .2 1zM359.2 175.1l-.3-.3 -.3-1 .6-.2 .2 .2 .2 1zM370.2 174.8l.3-1 -.3-.4 -.3 .4 .3 1zM380.4 176.8l0-1 -.1-1 -.1-.4 -.3-.6 -.7-.7 -1 .7 0 .1 .2 .9 .8 .6 1 .4 -.2 1 .2 .1zM432.2 178.4l-1-.1 -.7-.5 .6-1 -.1-1 -.3-1 .5-1 .3 1 .7 .9 1-.3 .8 .4 -.6 1 -.2 .6 -.2-.6 -.8-.7 -.5 .7 .5 .5 .9 .5zM446.2 175.0l-1-.1 -.1-.1 .1-.2 1 .1 .3 .1zM450.2 175.9l-.5-.1 -.1-1 .6-.2 .1 .2 .1 1zM347.2 176.8l-1 .1 -.4-.1 .4-.1 1-.9 0 1zM351.2 176.9l-1 .4 -.5-.5 .5-.2 .8-.8 .2-.5 .4 .5 -.2 1zM440.2 176.2l-1-.3 -.3-.1 .3-.1 1 0 .1 .1zM452.2 177.9l0-.1 0-1 0-.8 .2 .8 -.1 1zM423.2 186.1l-1 .3 -.2-.6 -.5-1 .7-.8 .3-.2 -.1-1 .2-1 .6-.5 1-.5 .3 1 .7 .3 .4-.3 .4-1 -.8-.7 -.5-.3 .1-1 0-1 .4-.3 .3 .3 .7 .3 .6-.3 .4-.8 1 .2 .1 .6 .6 1 -.7 .3 -1 .1 -.8 .6 .8 .5 1 .2 .6 .3 .4 .3 .8 .7 -.8 .8 -.4 .2 -.6 .3 -.9-.3 .6-1 -.7-.1 -.1 .1 0 1 -.9 .7 -.9 .3 -.1 1 0 .1 -.1-.1 -.9-.4 -.2 .4 -.2 1zM436.2 179.0l-.3-.2 -.4-1 .7-.7 1 .3 1 .4 -1 .9 -.4 .1zM440.2 180.2l-1-.3 -.1-.1 .1-.6 .2-.4 -.2-.1 -.9-.9 .9-.4 1-.4 .8 .8 -.3 1 .3 1zM445.2 180.0l-.3-.2 -.1-1 .4-.9 .1-.1 .9-.4 1 .3 .2 .1 -.2 .5 -.1 .5 -.9 .7 -.7 .3zM360.2 178.9l-1 0 -.2-.1 .2-.3 1 .3 .1 0zM433.2 181.9l-.1-.1 -.2-1 -.7-.8 -.2-.2 .2-.5 .3-.5 .7-.9 .8 .9 -.6 1 .8 .9 .3 .1 -.3 .2 -.9 .8zM457.2 179.9l-1 .3 -.5-.4 -.5-.5 -1-.4 -1-.1 -.2 0 .2-.1 1 0 1-.3 1 .1 .2 .3 .8 .9M344.2 179.4l1 .2 .2 .2 -.2 .3 -1-.1M349.2 184.7l-.4-.9 .4-1 -.4-1 .2-1 .1-1 .1-.3 1 .2 .1 .1 -.1 .2 -.9 .8 .9 .7 .4 .3 -.4 .5 -.8 .5 .7 1zM373.2 181.0l-1 0 -.2-.2 -.7-1 .9-.8 1 .3 1-.1 1 .6 -1 .5 -.7 .5zM443.2 181.5l-1-.1 -1-.6 .4-1 .6-.2 .1 .2 .9 .7 .4 .3zM451.2 182.8l-.6-1 .3-1 0-1 .3-.5 .1 .5 .9 .7 .7 .3 -.7 1 -.2 0 -.8 1zM366.2 181.1l-1 0 -.5-.3 .5-.8 1 .4 .5 .4zM369.2 181.0l-1 0 -.8-.2 .8-.4 1 .3 .3 .1zM375.2 182.1l-1 .1 -.1-.4 .1-.2 .8-.8 .2-.9 .3 .9 -.2 1zM431.2 181.3l-1-.2 -.2-.3 .2-.1 1-.2 .3 .3zM447.2 182.6l-1 0 -.4-.8 -.2-1 .6-.7 .5 .7 .5 .7 .5 .3zM356.2 182.9l-.3-.1 .1-1 .2-.4 .1 .4 .3 1zM362.2 182.9l-1 .9 -1-.7 -1 .1 -1-.2 -.7-.2 .7-.7 1 .1 1 .3 .5-.7 .5-.5 .7 .5 .3 .8 .1 .2zM371.2 183.2l-.3-.4 -.7-.7 -.4-.3 .4-.6 1 .5 .1 .1 .1 1zM351.2 183.8l-.1 0 0-1 .1-.1 .1 .1 -.1 1zM366.2 185.0l-.4-.2 -.6-.7 -.1-.3 .1-.1 .5-.9 .5-.6 .5 .6 .5 .7 .7 .3 -.7 .7 -.5 .3zM369.2 183.9l-.5-.1 0-1 .5-.6 .5 .6 -.1 1zM431.2 184.7l-1-.7 -.5-.2 -.3-1 .8-.8 1 .4 1 .3 .1 .1 -.1 .3 -.1 .7zM435.2 184.1l-.6-.3 -.4-.6 -.3-.4 .3-.4 1 .2 .8 .2 -.3 1zM438.2 184.4l-1 .1 -.6-.7 -.2-1 .8-.5 1 .1 1 .4 -.8 1zM443.2 182.8l-1 .2 -.2-.2 .2-.3 1 .2 0 .1zM454.2 184.1l-.1-.3 -.2-1 .3-.4 .1 .4 0 1zM344.2 183.7l.1 .1 -.1 .1M383.4 184.8l.8-.8 .1-.2 -.1-.1 -.3 .1 -.7 .7 -.2 .3 .2 .5zM447.2 183.9l-1 0 -.2-.1 .2-.4 1-.1 .4 .5zM457.2 184.2l-.3-.4 .3-.6M360.2 186.9l-.1-.1 -.9-.9 0-.1 0-.3 .2-.7 .8-.4 .2 .4 .2 1 -.2 1zM370.2 187.4l-.6-.6 .1-1 .5-1 0-.2 0 .2 1 1 -.8 1zM378.7 185.8l-.5-.8 -.2-.2 -.8-.3 -.4 .3 .4 .8 .1 .2 .9 .6zM437.2 190.8l-.5-1 -.5-.2 -1-.5 -1 .3 -.6-.6 .6-.3 1-.2 1-.5 -.1-1 -.9-1 -1 0 -1 .2 -.1-.2 .1-.5 1 .2 1 .3 .8-1 .2-.3 .4 .3 -.1 1 .7 .7 .1 .3 .8 1 .1 .4 .4 .6 -.4 .1 -.9 .9 .3 1zM453.2 186.2l-.1-.4 -.4-1 .5-.4 .7 .4 -.3 1zM352.2 185.9l-1 .1 -.4-.2 .4-.4 1 .2 0 .2zM432.2 191.0l-1-.1 -1 .1 -1 .2 -.4-.4 0-1 -.6-.2 -1-.7 -1 .2 -.5 .7 -.5 .5 -.8 .5 -.2 .2 -.1-.2 -.5-1 .6-.7 .3-.3 .7-.7 .5-.3 .5-.8 .1-.2 .9-.6 .8-.4 .2-.2 .1 .2 .8 1 .1 .1 .2-.1 .8-.5 .2-.5 .8-.9 .3 .9 0 1 .2 1 .5 .6 .3 .4 .7 .9 .1 .1 -.1 0 -.7 1zM449.2 187.2l-1-.3 -.8-.1 .3-1 .5-.8 .9 .8 .1 .1 .4 .9zM354.2 189.5l-1-.1 -.2-.6 .2-.3 .6-.7 .4-.6 1 .5 .8-.9 .2-.3 .5 .3 .5 .6 .3-.6 .7-.3 .7 .3 -.3 1 -.4 .7 -1-.4 -1 .2 -1-.2 -.4 .7zM440.2 186.9l-1 .1 0-.2 0-.1 1-.1 0 .2zM364.2 189.9l-.3-.1 .1-1 0-1 .2-.3 1-.1 .8 .4 -.8 .8 -.4 .2 -.4 1zM370.2 189.1l-1 .3 -1-.1 -.2-.5 -.4-1 .6-.6 .3 .6 .7 .8 1-.5 .5 .7zM441.2 190.5l-.3-.7 .2-1 .1-.3 .1 .3 0 1zM432.0 189.8l-.8-.9 -1 .5 -.7 .4 .7 .8 1 .1zM441.2 192.1l-1 0 -.4-.3 .1-1 .3-.6 .9 .6 .1 .1 .7 .9zM358.2 191.9l-1 .1 -1-.2 1-.3 1 .3 .2 0zM376.2 192.9l0-.1 -.3-1 .3-.2 .7 .2 -.6 1zM457.2 192.2l-1-.3 -.1-.1 .1-.2 1-.2M429.2 194.1l-.4-.3 .3-1 .1-.2 1-.4 .2 .6 -.2 .4 -.9 .6zM437.2 194.9l-1 .1 -1 .3 -1 .3 -1-.4 -.3-.4 .3-.2 1-.7 .8-.1 .2-1 1-.2 .3 .2 .2 1 .5 1zM363.2 195.0l-1 .2 -.5-.4 -.5-.2 -1-.2 -1-.5 -.1-.1 .1-.1 1-.8 1 .6 1 .3 1 .9 .2 .1zM374.2 194.3l-1-.5 -.1 0 .1 0 1-.3 .4 .3zM367.2 195.0l-1-.1 -.6-.1 .6-.1 1-.1 .3 .2zM432.2 196.1l-1 .3 -1-.5 0-.1 0-.1 .9-.9 .1-.1 .2 .1 .8 .5 .6 .5zM453.2 195.8l-1 0 -.1-1 .1-.1 0 .1 1 1zM425.2 197.9l-.1-.1 0-1 -.9-.7 -1 .1 -.6-.4 .6-.5 1 .2 1 .1 .2 .2 -.1 1 0 1zM442.2 197.9l-.3-.1 0-1 .3-.1 .2 .1 -.1 1zM368.2 198.8l-.1-1 .1-.4 1 .4 -1 1zM433.2 199.0l-.2-.2 -.8-.6 -1 .3 -.4-.7 .4-.4 1 .1 1 .2 .7 .1 -.3 1zM418.2 198.9l-1 .6 -1-.7 1-1 1 .1 .1 .9zM420.2 200.6l-1 0 -.4-.8 .4-.5 .8-.5 .2-.7 .2 .7 .4 1zM424.2 201.2l-.4-.4 -.6-.7 -1-.3 .7-1 .3-.4 .8 .4 .2 .1 1 .3 1 .3 .1 .3 -.1 .7 -1-.1 -.5 .4zM430.2 199.1l-1-.1 -.3-.2 .3-.3 1 .1 .4 .2zM434.2 200.9l-.2-.1 .1-1 .1-.2 0 .2 .3 1zM344.2 201.6l.5 .2 -.5 .2M370.2 202.4l-1-.2 -.3-.4 .3-.1 1-.1 .3 .2zM420.2 205.6l-.3-.8 0-1 -.2-1 .5-.6 .8 .6 -.4 1 .5 1zM424.2 204.4l-.4-.6 0-1 .4-.4 1 .3 .3 .1 -.3 .1 -.7 .9zM441.2 205.0l-.2-.2 .2-1 .1 1zM457.2 205.8l-.2 0 .1-1 .1-.1M383.2 205.9l-1 .4 -.8-.5 .8-.7 1 .6 .9 .1zM381.2 208.0l-.6-.2 .4-1 .2-.6 .3 .6 -.1 1zM384.2 211.7l-.3-.9 -.7-.7 -.3-.3 .3-.3 .8-.7 -.4-1 0-1 .6-1 1 .7 .6 .3 -.6 1 .5 1 -.4 1 -.1 .4 -.1 .6zM415.9 207.8l-.7-1 -1 .4 -.9 .6 .9 .7 1 .1zM390.8 210.8l.4-.6 .1-.4 -.1-.5 -1 .2 -.3 .3 0 1 .3 .3zM386.2 212.0l-1 .2 -.9-.4 .9-.9 1 .5 .2 .4zM415.2 215.2l-1 .4 -1-.2 -.2-.6 -.6-1 .8-.4 1-.1 .4-.5 .3-1 .3 0 .1 0 .5 1 .4 .9 .3 .1 -.3 0 -.7 1zM419.2 213.5l-1-.5 -1 .6 -.6-.8 .6-.3 1 .2 .9-.9 .1-.2 .2 .2 .5 1zM384.2 214.2l-.2-.4 0-1 .2-.7 .1 .7 .2 1zM395.4 216.8l.3-1 -.5-.2 -1 .2 -1-.2 -.3 .2 .3 .2 1-.1 .9 .9 .1 .1zM417.2 218.0l-1-.1 -1 0 -.1-.1 .1 0 1-1 1-.5 .2 .5 0 1zM386.2 219.8l-.4-1 .4-.3 .6 .3 -.6 1zM408.6 218.8l-.4-.6 -1 .3 -.2 .3 .2 .3 1 .1zM397.3 221.8l-.1-.1 -.8-.9 -.2-.3 -.3 .3 .3 .2 .9 .8 .1 .1zM388.2 224.9l-1 .3 -.2-.4 .2-.4 1 .2 .2 .2zM391.2 225.0l-1-.1 0-.1 0-.1 1-.6 .7 .7zM412.2 225.9l-1 0 -.3-.1 .3-.1 1-.2 .2 .3zM392.2 228.8l-1-.6 -.4-.4 .4-.4 1-.2 .9 .6 -.9 1zM399.5 233.8l.7-.8 .2-.2 -.2-.1 -.4 .1 -.6 .5 -.7 .5 .7 .6zM406.2 234.8l-1 .2 -.5-.2 .5-.3 1 .3zM399.2 240.4l-1-.6 1-.5 .6 .5zM400.2 244.5l-.4-.7 -.6-.9 0-.1 -.2-1 .2-.5 1-.3 .3-.2 0-1 .7-.7 1 .3 .2 .4 -.2 .4 -.5 .6 .5 .9 .8 .1 -.8 .2 -.4 .8 -.6 .4 -.7 .6zM400.2 247.7l-.5-.9 .3-1 .2-.5 .3 .5 .1 1z" fill="none" stroke="#10103c" stroke-width="0.77" stroke-linejoin="round"/><path d="M389.8 43.9h.8M410.7 43.7h.8M411.8 49.9h.8M413.8 51.8h.8M390.8 52.8h.8M386.8 56.9h.8M390.8 61.8h.8M385.8 62.7h.8M392.8 63.8h.8M384.9 66.8h.8M410.8 67.9h.8M391.9 69.8h.8M410.9 71.8h.8M418.8 71.8h.8M383.8 73.8h.8M413.8 79.8h.8M384.9 81.0h.8M383.8 81.8h.8M385.7 81.7h.8M384.8 84.8h.8M416.7 96.8h.8M415.8 97.8h.8M413.8 100.8h.8M384.8 103.8h.8M408.8 103.8h.8M392.8 106.8h.8M390.8 107.8h.8M414.9 107.7h.8M414.8 109.8h.8M378.9 113.8h.8M415.9 114.9h.8M381.8 115.6h.8M382.8 116.8h.8M431.8 118.8h.8M415.8 119.8h.8M416.8 120.8h.8M380.8 121.8h.8M414.8 122.7h.8M420.8 124.8h.8M418.8 125.8h.8M381.8 126.8h.8M376.8 129.8h.8M371.8 130.8h.8M379.8 133.8h.8M434.8 133.8h.8M433.6 134.8h.8M361.9 135.8h.8M383.0 135.9h.8M435.7 135.8h.8M362.8 138.8h.8M365.8 138.8h.8M432.8 138.8h.8M437.8 138.7h.8M415.7 139.8h.8M358.8 140.9h.8M378.7 140.9h.8M383.9 140.8h.8M367.9 141.8h.8M386.8 141.8h.8M431.8 141.8h.8M435.8 141.8h.8M437.9 141.8h.8M448.8 141.7h.8M378.8 142.8h.8M380.7 142.9h.8M389.8 142.8h.8M439.7 142.8h.8M443.8 142.8h.8M363.8 143.8h.8M379.9 143.8h.8M428.8 143.8h.8M435.8 143.8h.8M387.8 144.7h.8M349.8 145.8h.8M428.6 145.7h.8M352.9 146.7h.8M368.7 146.8h.8M431.7 146.7h.8M437.7 146.9h.8M453.8 146.7h.8M373.8 147.8h.8M387.8 147.8h.8M430.6 147.7h.8M439.8 147.7h.8M448.8 147.8h.8M429.9 148.8h.8M447.9 148.7h.8M439.8 149.8h.8M372.8 150.9h.8M377.8 150.7h.8M448.8 150.8h.8M451.8 150.7h.8M455.8 150.7h.8M344.7 151.7h.8M363.8 151.8h.8M380.9 151.9h.8M386.8 151.8h.8M441.7 151.8h.8M440.8 152.8h.8M452.0 152.8h.8M349.8 153.8h.8M357.8 153.8h.8M362.9 153.9h.8M361.9 154.9h.8M381.9 154.9h.8M386.8 154.8h.8M426.8 154.8h.8M356.8 155.9h.8M362.8 155.8h.8M425.8 155.7h.8M435.8 155.8h.8M444.7 155.8h.8M450.7 155.8h.8M344.8 156.8h.8M355.8 156.9h.8M437.8 156.8h.8M440.7 157.0h.8M442.8 156.8h.8M449.8 156.8h.8M454.8 156.8h.8M359.6 157.8h.8M367.8 157.9h.8M443.8 157.8h.8M446.8 157.8h.8M356.7 158.8h.8M438.9 158.9h.8M360.8 159.8h.8M430.9 159.9h.8M441.6 160.0h.8M345.9 160.8h.8M347.8 160.9h.8M355.8 160.9h.8M423.9 160.8h.8M346.9 161.7h.8M353.8 162.8h.8M368.8 162.8h.8M383.8 162.8h.8M420.8 162.8h.8M425.8 162.8h.8M447.9 162.8h.8M344.9 163.7h.8M354.8 163.9h.8M350.8 164.9h.8M422.0 164.8h.8M440.8 164.8h.8M357.8 166.0h.8M360.8 165.6h.8M423.8 165.8h.8M442.9 165.9h.8M349.8 166.8h.8M354.8 166.8h.8M449.9 166.8h.8M451.8 166.9h.8M351.9 167.9h.8M424.8 167.8h.8M438.9 167.7h.8M357.7 168.8h.8M422.9 168.8h.8M454.8 168.8h.8M346.7 170.0h.8M350.8 169.8h.8M352.8 169.7h.8M444.8 169.7h.8M442.8 170.8h.8M445.7 170.7h.8M363.9 171.8h.8M429.7 172.0h.8M452.8 171.8h.8M357.7 172.9h.8M436.8 172.8h.8M442.8 172.8h.8M444.8 172.8h.8M437.8 173.9h.8M448.8 173.9h.8M453.9 173.8h.8M345.7 174.7h.8M359.7 176.8h.8M447.8 176.8h.8M361.9 177.8h.8M441.8 177.8h.8M443.8 177.8h.8M449.8 177.8h.8M351.8 178.7h.8M356.8 178.7h.8M362.8 178.7h.8M369.7 178.8h.8M417.8 178.8h.8M437.9 178.7h.8M381.8 179.8h.8M428.8 179.8h.8M434.8 179.8h.8M346.8 180.7h.8M354.8 180.8h.8M359.8 180.8h.8M376.8 180.8h.8M453.8 180.8h.8M352.8 181.8h.8M381.8 181.7h.8M440.8 181.6h.8M448.8 181.8h.8M452.7 181.8h.8M344.8 182.8h.8M346.8 183.8h.8M380.7 183.8h.8M426.7 183.7h.8M345.8 184.8h.8M354.8 184.7h.8M356.9 184.7h.8M362.8 184.9h.8M439.8 184.8h.8M344.8 185.8h.8M437.8 185.8h.8M440.8 185.8h.8M442.8 185.8h.8M454.8 186.8h.8M381.8 187.8h.8M441.7 187.8h.8M443.8 187.8h.8M452.9 187.7h.8M347.8 188.8h.8M365.7 188.8h.8M444.9 188.8h.8M446.8 188.8h.8M453.8 188.7h.8M376.8 189.8h.8M410.8 189.8h.8M449.8 189.7h.8M344.7 190.9h.8M347.8 190.8h.8M367.9 190.8h.8M369.7 190.9h.8M373.7 190.8h.8M379.8 190.8h.8M434.7 190.8h.8M441.7 190.8h.8M444.8 190.7h.8M352.8 191.8h.8M362.9 191.8h.8M366.8 191.8h.8M368.8 191.7h.8M445.8 191.7h.8M363.8 192.9h.8M424.8 192.9h.8M442.9 192.8h.8M351.8 193.8h.8M353.8 193.8h.8M355.8 193.8h.8M368.7 193.8h.8M426.9 193.8h.8M431.8 193.8h.8M441.8 193.9h.8M449.8 193.8h.8M369.8 194.8h.8M375.7 194.8h.8M425.9 194.8h.8M427.7 194.7h.8M444.8 194.7h.8M352.8 195.8h.8M386.8 195.8h.8M443.8 196.0h.8M369.9 196.8h.8M389.8 196.8h.8M417.7 197.0h.8M426.8 196.9h.8M433.8 196.8h.8M354.8 197.9h.8M384.8 197.8h.8M412.9 197.9h.8M418.8 197.8h.8M362.8 199.8h.8M455.8 199.8h.8M382.8 200.8h.8M384.7 200.7h.8M386.9 200.8h.8M431.8 200.8h.8M418.8 201.8h.8M425.7 201.8h.8M421.8 202.8h.8M433.8 202.8h.8M387.7 203.8h.8M392.8 203.8h.8M359.8 204.8h.8M421.7 204.8h.8M427.9 204.6h.8M379.8 205.8h.8M423.8 205.8h.8M428.8 205.9h.8M432.8 205.9h.8M355.8 206.8h.8M389.8 206.8h.8M426.8 206.8h.8M353.8 207.8h.8M421.8 207.8h.8M420.8 208.8h.8M354.7 209.8h.8M374.8 211.8h.8M389.8 214.8h.8M404.8 215.8h.8M387.8 216.9h.8M429.8 217.8h.8M387.8 218.8h.8M393.8 218.9h.8M369.8 219.9h.8M420.7 219.8h.8M383.8 220.8h.8M389.0 220.7h.8M392.8 220.7h.8M410.8 221.7h.8M394.7 222.6h.8M404.8 222.7h.8M391.7 223.8h.8M413.8 224.7h.8M382.8 225.8h.8M395.8 227.7h.8M404.7 227.8h.8M412.7 227.7h.8M393.8 228.9h.8M409.9 229.8h.8M387.8 231.8h.8M363.8 236.8h.8M345.9 239.8h.8" fill="none" stroke="#10103c" stroke-width="0.8"/><path d="M344.2 243.5l.3-.7 .7-.9 1 .1 .2-.2 .8-.8 .2-.2 .3-1 .5-.9 .2-.1 .3-1 .5-.8 .2-.2 .7-1 .1-.4 .3-.6 .7-.5 .3-.5 .7-.9 .1-.1 .7-1 .2-.3 .4-.7 .6-1 -.2-1 .2-.1 1-.4 .3-.5 .6-1 .1-.2 .8-.8 .2-.1 .4-.9 .6-.8 .3-.2 .5-1 .2-.2 .5-.8 .5-.7 .4-.3 .6-.6 .2-.4 .5-1 .3-.9 .1-.1 .9-1 .9-1 .1-.1 .4-.9 .6-.9 .1-.1 .5-1 .4-.3 .6-.7 .4-.7 .3-.3 .7-.7 .2-.3 -.2-.8 -.1-.2 .1-.1 .9-.9 .1-.1 .3-.9 .7-.9 .7-.1 .3 0 .5-1 .5-.9 .1-.1 .7-1 .2-.2 .6-.8 -.2-1 .6-.4 .7-.6 .3-.7 .1-.3 .6-1 .3-.2 1-.6 .1-.2 .7-1 .2-.2 .4-.8 .6-.9 .1-.1 .4-1 -.4-1 .9-.3 .5-.7 0-1 .2-1 .3-.3 .3 .3 .7 .4 .3-.4 .5-1 .2-.7 .1-.3 .4-1 .3-1 .2-.2 .6-.8 -.6-.5 -1-.5 0-.1 -.3-.9 -.2-1 .4-1 .1-.3 .3-.7 .5-1 -.8-.9 -1 .5 -.4-.6 -.2-1 -.4-.9 -.1-.1 -.1-1 .2-.1 1-.6 .8 .7 .2 .1 .2-.1 -.2-.1 -.9-.9 -.1-.2 -1-.6 -.2-.2 -.8-.9 -.2-.1 .2-.4 1 0 .5-.6 -.3-1 .8-.9 0-.1 -1-.5 -1-.5 .7-1 .3-.4 1-.3 .3-.3 -.3-.6 -.1-.4 .1-.4 1-.1 1 .3 .8-.8 -.8-1 -.9-1 .5-1 -.6-.4 -.8-.6 .8-.4 .8-.6 .1-1 -.2-1 .3-.5 .5 .5 .5 .7 .5 .3 -.5 .4 -.5 .6 .1 1 .4 .5 1-.3 .3-.2 -.3-.4 -.6-.6 .6-.7 .5-.3 -.5-.4 -.4-.6 -.6-.3 -.8-.7 -.2-.2 -1-.7 -1-.1 -.1 0 .1-.1 1-.1 .4-.8 .6-.2 1 0 .3-.8 .1-1 -.4-.2 -.4-.8 .4-.3 1 .1 1-.4 .5-.4 .5-.1 1-.4 1 .1 .3-.6 .7-.6 .7-.4 .3-.9 .2-.1 0-1 -.2-.3 -.4 .3 -.6 .7 -.1 .3 -.9 .9 -.6 .1 -.4 .3 -1 0 -.6-.3 .3-1 .3-.3 1-.7 1-.2 .4-.8 .2-1 .4-.7 .5 .7 .5 .7 1-.3 .5-.4 -.5-.2 -1-.7 -.2-.1 -.8-.3 -1 .1 -1-.8 -.1 1 -.9 .8 -.4-.8 .2-1 .2-.2 1 .2 1-.2 .5-.8 -.3-1 .8-.9 .1-.1 -.1-.2 -1 0 -.1-.8 -.7-1 .8-.9 1-.1 -1-.2 -.8-.8 -.2-.2 -1-.2 -.5-.6 .1-1 .4-.5 .3-.5 .4-1 -.7-.7 -.2-.3 -.8-.5 -.9-.5 .9-.5 1-.3 .4-.2 -.4-.2 -.9-.8 -.1-.1 -.5-.9 .5-.8 .4-.2 .1-1 -.5-.7 -1-.2 -.2-.1 .2-.1 1-.1 1 .1 .2-.9 -.2-.3 -.8-.7 .3-1 .5-.9 .1-.1 .7-1 -.5-1 -.3-.8 -.1-.2 .1-.2 .9-.8 -.3-1 .4-1 0-.1 .3-.9 0-1 .7-.4 1 0 .6-.6 0-1 -.1-1 .5-.4 .2 .4 .8 .7 .6-.7 -.6-.7 -.5-.3 .5-.7 .3-.3 -.3-.4 -.4 .4 -.6 .4 -.4-.4 -.5-1 -.1 0 -.4-1 .4-1 -.7-1 -.3-.4 -.4-.6 -.6-.7 -.3-.3 0-1 -.3-1 .5-1 -.1-1 -.8-.9 -.2-.1 .2-1 .2-1 -.2-.4 -.2-.6 -.3-1 0-1 0-1 .5-.3 1-.7 0-.1 -.5-.9 -.5-.9 0-.1 .6-1 -.4-1 -.2-.4 -.3-.6 .3-.4 1-.2 .3-.4 -.3-.5 -.3-.5 0-1 .3-.7 .1-.3 .4-1 .5-.9 .1-.1 -.1-.3 -.2-.7 .2-.9 .1-.1 .9-.3 1-.1 .4-.6 0-1 -.4-.8 -.1-.2 .1 0 1-.3 .6 .3 .4 .2 .2-.2 .8-1 0-.1 0 .1 -1 .7 -.4-.7 .1-1 .3-.6 1-.1 .1-.3 .2-1 .7-.9 .1-.1 -.1-.1 -1-.4 -1-.5 .5-1 -.5-1 -1 .1 -1 .1 -.1-.2 .1-.2 .5-.8 .4-1 .1-.2 .5 .2 .3 1 .2 1 .4-1 .2-1 -.6-.1 -.6-.9 -.4-.9 -1 .1 -.1-.2 .1-.6 .3-.4 -.3-.2 -1-.7 -.1-.1 -.2-1 0-1 -.2-1 .5-.1 1-.6 .2-.3 -.2-.6 -1 0 -1-.4 .9-1 .1-.5 .1-.5 -.1-.9 0-.1 1-.9 0-.1 .3-1 -.3-.8 -.1-.2 .1-.4 1-.4 0-.2 .7-1 .2-1 .1-.2 .7-.8 .3-.6 .5-.4 .5-.5 1-.3 .3-.2 .7-.3 1-.1 1 0 1-.4 1 0 1-.1 1 .7 1-.1 .2 .3 .8 1 1 .8 .2 .2 .1 1 .7 .9 0 .1 .2 1 .4 1 .4 .7 1 .2 .1 .1 -.1 .6 -.2 .4 -.3 1 .1 1 .4 .8 .2 .2 .1 1 -.3 .5 -.2 .5 .2 .6 1-.1 .7 .5 -.7 .5 -.4 .5 -.5 1 .9 .9 1 0 0 .1 0 .1 -1 .1 -.4 .8 -.6 .5 -1-.5 -.2 1 .2 .7 .2 .3 -.2 .1 -1 .1 -.3 .8 -.1 1 -.4 1 -.2 .9 0 .1 -.1 1 .1 .2 .2 .8 -.2 .8 -.1 .2 -.9 .7 -.2 .3 .2 .2 .6 .8 .4 .3 .9-.3 .1 0 .1 0 0 1 .9 .6 1 .4 0 .1 -.1 .9 .1 .1 .8 .9 .2 .1 1 .1 .4 .8 .5 1 -.3 1 -.6 .6 -.6-.6 -.4-.3 -.2 .3 .2 .3 .7 .7 .3 .4 .1 .6 .9 .9 .1 .1 -.1 .2 -.6 .8 .4 1 -.5 1 .7 .6 .5 .4 -.4 1 .1 1 .7 1 .1 0 1 .8 .1 .2 -.1 1 0 .1 -1 .4 -.4 .5 -.2 1 -.1 1 .7 1 1-.2 .2 .2 -.2 .1 -1-.1 -1 .9 -.2 .1 .2 .6 .2 .4 -.2 .9 0 .1 0 .1 .5 .9 -.5 .4 -.4 .6 -.6 1 -.5 1 -.5 .8 -.1 .2 .1 .7 1 .3 0 .1 -.8 .9 -.2 .3 -.5 .7 -.3 1 .7 1 -.9 .6 -.4 .4 -.6 .9 -.1 .1 .1 .1 1 .6 .1 .3 -.1 .2 -.2 .8 .2 .4 .7 .6 .3 .2 1-.1 .2 .9 .5 1 -.1 1 -.2 1 .6 .1 .4 .9 .6 .8 .5 .2 -.5 .3 -.5 .7 .5 1 0 .1 .1 .9 .1 1 -.2 .7 -.1 .3 -.2 1 .2 1 .1 .3 .9 .7 -.1 1 .2 .8 0 .2 0 .1 -.4 .9 -.1 1 -.3 1 -.2 .6 -.1 .4 .1 .2 .4 .8 .1 1 -.4 1 -.1 .2 -.1-.2 -.9-.6 -.6 .6 .6 .6 .5 .4 .5 .6 .5-.6 .5-.3 .4 .3 .6 .7 .4 .3 .1 1 -.5 .2 -.4-.2 -.6-.5 -1-.3 -1 .3 -.4 .5 -.2 1 .6 .7 1 .3 0 1 .4 1 -.2 1 -.2 .2 -.6 .8 .1 1 -.5 1 -1-.2 -.1 .2 .1 0 1 .2 .1 .8 .9 .4 .4-.4 0-1 .1-1 .5-.8 1 0 .3-.2 -.3-.4 -.2-.6 .2-.1 1-.9 0-.6 .1 .6 .9 .4 .5-.4 .2-1 .3-.2 1-.4 .3-.4 .5-1 .2-.3 .4-.7 .6-.7 1-.2 .1-.1 .2-1 .5-1 .2-.2 .7-.8 .3-.7 .1-.3 .7-1 .2-.1 1-.7 .1-.2 .9-.8 .2-.2 0-1 .8-.2 .7-.8 .3-.5 .4-.5 .3-1 .3-.7 .3-.3 .7-.6 .5-.4 .5-.4 .5-.6 .3-1 .2-1 1-.3 .9-.7 .1-.5 .1-.5 .8-1 .1-.1 1-.7 .1-.2 .7-1 .2-.3 .9-.7 .1-.1 .3-.9 .6-1 .1-.4 .3-.6 .7-.5 .4-.5 .6-.6 .4-.4 .5-1 .1-.1 .8-.9 .2-.4 .6-.6 .4-.4 .7-.6 .3-1 .9-1 .1-.1 .9-.9 .1-.3 1-.4 .2-.3 .7-1 .1-.3 .9-.7 .1-.1 .5-.9 .5-.5 .4-.5 .6-1 .1 0 .9 .4 1 .3 0 .3 -.9 1 -.1 .1 -1 .7 -.4 .2 .4 .5 .1 .5 -.1 .1 -1 .3 -.1 .6 -.9 .9 -.1 .1 -.4 1 -.1 1 -.4 .4 -1 .4 -.3 .2 -.3 1 .1 1 -.2 1 -.3 .2 -1 .5 -.3 .3 -.5 1 -.2 .2 -.4 .8 -.6 .9 -.3 .1 -.7 .5 -.2 .5 -.7 1 -.1 .4 -.3 .6 -.6 1 -.1 .1 -1 .7 -.1 .2 -.4 1 -.5 .4 -.4 .6 0 1 -.6 .8 -.1 .2 -.8 1 -.1 .1 -.6 .9 -.4 .6 -.5 .4 -.5 .6 -.3 .4 -.4 1 -.3 .2 -.7 .8 -.3 .3 -.5 .7 -.2 1 -.3 .5 -.5 .5 -.5 .5 -.3 .5 -.4 1 -.3 .5 -.5 .5 -.5 1 -1 .7 -.2 .3 -.5 1 -.3 .5 -.7 .5 -.3 .3 -.5 .7 0 1 -.5 .5 -.2 .5 -.8 .8 -.2 .2 0 1 -.8 .8 -.1 .2 -.9 .8 -.1 .2 -.6 1 -.3 .4 -.2 .6 -.8 .9 -.1 .1 -.2 1 -.7 .7 -.8 .3 -.1 1 -.1 0 -.5 1 -.5 .7 -1 .3 1 .8 .8 .2 -.4 1 -.4 .5 -.3 .5 -.4 1 .6 1 -.9 .3 -1 .7 1 .2 1 .5 .7 .3 -.7 .7 -.3 .3 -.1 1 .4 .7 1 .2 1-.3 .6-.6 .4-.3 .3 .3 .5 1 .2 0 .6 1 -.6 .7 -.5 .3 -.5 .6 -.2-.6 -.4-1 -.4-.6 -.7 .6 -.3 .4 -.4 .6 -.6 .7 -.3 .3 .1 1 .2 .2 1 .3 .4-.5 -.3-1 .9-.4 .7 .4 -.2 1 .5 .8 1 0 .2 .2 -.2 .6 -.2 .4 -.2 1 -.6 .6 -1 0 -.2 .4 0 1 .2 .2 1-.2 .4 1 -.4 .7 -1-.1 -.8 .4 .8 .8 1-.5 .6 .7 0 1 -.6 .9 -.3-.9 -.7-.8 -1 .3 -.6-.5 -.4-.6 -.2 .6 .2 .3 .6 .7 .3 1 -.5 1 .6 .7 .4-.7 .6-.7 .5 .7 -.3 1 -.2 .3 -1 .4 -1-.5 -.6 .8 -.4 .1 -1 .3 -1 .2 -.4 .4 .4 .4 1 .5 1-.1 .9-.8 .1-.4 .4 .4 .6 .5 .8 .5 -.8 .4 -1 .1 -.5 .5 -.3 1 -.2 .3 -.7 .7 .7 .4 .5-.4 .5-.4 .1 .4 .3 1 -.4 .4 -.7 .6 -.3 .7 -1 .1 -.8 .2 -.2 .2 -.3 .8 -.2 1 -.5 .5 -.5-.5 -.5-.9 -.6 .9 .4 1 -.1 1 -.7 .9 -.6-.9 -.4-.3 -1-.2 -.6 .5 -.4 .5 -1 .5 .7 1 .3 .5 1 .4 .1 .1 .7 1 -.5 1 .7 .6 .6 .4 -.1 1 -.3 1 .1 1 -.3 .7 -.5-.7 -.5-.3 -.3 .3 -.1 1 .4 .4 1 .4 .1-.8 .9-.5 1 0 .8-.5 0-1 .2-.1 .4 .1 -.3 1 .9 .7 .3 .3 0 1 -.3 .6 -1-.3 -1-.1 -.8 .8 .3 1 0 1 -.5 .5 -.6 .5 -.4 .8 -.4-.8 0-1 -.4-1 .7-1 -.9-.2 -.1 .2 -.9 .8 -1-.2 -.1 .4 .1 .1 .4 .9 .6 .8 .3 .2 -.3 .7 -.1 .3 .1 .1 .6 .9 -.1 1 .5 .6 .2 .4 .8 .8 1 .1 0 .1 0 .1 -1 .2 -1 .2 -.5 .5 -.5 .3 -1 0 -.3-.3 .3-.7 .9-.3 -.4-1 -.5-.8 -.2 .8 0 1 -.8 .5 -.5 .5 .5 .6 .4 .4 -.4 .7 -.2 .3 .2 .6 .3 .4 -.1 1 .1 1 .7 .9 1-.3 .7 .4 .3 .6 .2 .4 -.2 .4 -1 .3 -.7 .3 -.3 .1 0-.1 0-1 -1-.6 -.3-.4 -.2-1 -.5-.5 -.5 .5 -.2 1 -.3 .4 -.4 .6 .4 .8 .1 .2 -.1 .1 -.8 .9 -.2 .3 -.3 .7 -.7 .8 -1-.5 -.6 .7 .6 .8 .4 .2 -.1 1 .2 1 .5 .8 .1 .2 -.1 .4 -1 .1 -.9 .5 0 1 .1 1 -.1 1 -.1 0 -.3-1 -.7-.3 -.8 .3 .3 1 -.1 1 .6 1 1-.2 .1 .2 -.1 .6 -1-.6 -1 .3 -1 .1 -.4-.4 .4-.7 .3-.3 .1-1 .4-1 -.8-.5 -.3-.5 .3-.8 .2-.2 -.2-.3 -.4-.7 -.5-1 .9-.7 .3-.3 -.3-.3 -.7-.7 -.3-1 1-.6 .6-.4 -.6-1 -1-.8 -.3 .8 -.5 1 -.2 .1 -.1-.1 -.4-1 -.5-.9 -1 .3 0-.4 0-.2 .4-.8 .6-.4 .8-.6 -.4-1 -.4-.7 -1-.1 -1 0 -.7-.2 .1-1 -.2-1 -.2-1 0-.1 -.6-.9 0-1 -.4-.2 -.5-.8 0-1 -.5-.7 -.2-.3 -.8-.6 -.5-.4 .5-.5 .6-.5 -.6-.7 -1-.3 .9-1 -.1-1 .2-.4 .1-.6 .1-1 -.2-.3 -.6-.7 -.1-1 .7-.3 .4-.7 .6-.8 1 .1 .3-.3 -.3-.2 -1-.3 -.9-.5 -.1-.1 -.4 .1 .4 .1 .6 .9 -.6 .4 -1-.1 -.4 .7 -.6 .8 -1 0 -.6 .2 -.4 .3 -.1-.3 -.9-.9 -1 .9 0 .1 1 .6 .6 .3 -.6 .4 -1-.3 -1 .3 -.1 .6 -.7 1 .8 .6 1 .4 -1 .6 -1-.6 -1 .4 -.4 .6 -.6 .3 -.9 .7 -.1 .2 -.4 .8 -.6 .9 -.1 .1 -.9 .6 -.5 .4 -.5 .6 -.3 .4 -.3 1 -.4 .2 -.8 .8 -.2 .2 -.5 .8 -.3 1 -.2 .2 -.6 .8 -.4 .8 -.7 .2 -.3 .1 -.6 .9 -.2 1 -.2 .2 -.9 .8 -.1 .1 -.6 .9 -.4 .4 -.6 .6 -.4 1 -.8 1 -.2 .2 -1 .7 -.1 .1 -.2 1 -.7 .4 -.5 .6 -.4 1 -.1 .2 -.4 .8 -.6 .6 -.6 .4 -.4 .3 -.7 .7 -.2 1 -.1 .2 -.6 .8 -.4 .3 -.5 .7 -.3 1 -.2 .3 -1 .3 -.3 .4 -.5 1 -.2 .2 -.7 .8 -.3 .6 -.1 .4 -.9 .6 -.4 .4 -.6 .8 -.2 .2 -.8 1 -.6 1 -.4 1 -1 .5 -.2 .5 -.5 1 -.3 1 -1 1 -1 .6 -.4 .4 -.6 1 -.1 0 -.9 .4 -.4 .6 -.6 .6M410.2 63.2l-1 0 -.2-.4 .2-.5 1 .3 .7 .2zM391.2 66.0l-.3-.2 -.1-1 .4-.2 .4 .2 -.3 1zM457.2 93.5l-1-.7 .5-1 .3-1 .2-.6M410.0 103.8l-.7-1 -.1 0 -.6 1 .6 .4zM413.2 106.4l-1-.2 -1 .2 -.6-.6 .6-.9 1 .7 1-.4 .4 .6zM388.2 136.0l-.3-.2 -.7-.6 -.2-.4 0-1 .2-.2 .3 .2 .7 .7 1-.2 .6 .5 -.6 .4 -.4 .6zM388.2 137.9l-1 .7 -.5-.8 .5-.4 1 .3 .3 .1zM413.1 140.8l-.9-1 -1-.3 -1-.2 -.2 .5 .2 .9 1-.4 .4 .5 .6 .3zM387.2 142.9l-1 .4 -1 0 -.9-.5 .7-1 .2-.3 .8 .3 .2 .2 1 .7 .4 .1zM410.8 143.8l.1-1 -.4-1 -.3-.9 -1 .9 .8 1 -.8 .9 -.1 .1 .1 .1 1 .2zM386.2 147.2l-1-.1 -.3-.3 .3-.8 1 .6 .3 .2zM388.1 154.8l.1-.1 1-.5 .3-.4 -.3-.7 -1-.2 -.4-.1 .4-.3 .9-.7 -.9-.6 -.9-.4 -.1-.1 -.1 .1 -.5 1 .4 1 -.8 .7 -.7 .3 .7 .6 .1 .4 .9 .7zM376.2 161.9l-.1-.1 -.3-1 .4-.4 .7 .4 -.6 1zM379.2 164.1l-1 .2 -.2-.5 .2-.5 1-.1 .4 .6zM426.2 166.5l-1-.4 -.1-.3 -.9-.9 -.1-.1 .1-.1 1-.3 .3 .4 .7 .9 .1 .1zM374.2 168.7l-.3-.9 -.6-1 .9-.4 1-.4 .7 .8 -.7 .6 -.6 .4zM379.2 169.4l-1 0 -.7-.6 .4-1 .3-.1 1-.5 .4 .6 0 1zM427.2 168.9l-1 .9 -.5-1 .3-1 .2-.9 1 .6 .5 .3 -.4 1zM366.2 169.1l-1 .2 -.3-.5 .3-.2 1-.3 .2 .5zM349.2 172.9l-.1-.1 0-1 0-1 .1-.2 .2 .2 .7 1 -.8 1zM375.2 179.1l-.3-.3 -.7-.9 -.1-.1 .1-.4 1 .3 .1 .1 .2 1zM381.2 181.4l-.1-.6 0-1 -.9-1 -1 .4 -.7-.4 .7-.9 1 .9 1-.4 .4 .4 -.3 1 .1 1zM382.2 184.7l-.3-.9 -.4-1 .7-.3 .9 .3 -.3 1zM416.6 183.8l-.4-.9 -.1-.1 -.9-.2 -.3 .2 -.7 .6 -.7 .4 .7 .8 .8-.8 .2-.4 .5 .4 .5 .4zM419.2 189.1l-.6-.3 -.4-.2 -.8-.8 -.2-.5 -.4-.5 .4-.5 1 0 1 .4 1-.4 .2 .5 -.2 .3 -.9 .7 .4 1zM379.2 188.4l-1-.5 -.4-.1 .4-.2 1-.1 .1 .3zM414.2 197.4l-.6-.6 0-1 -.4-.5 -.4-.5 .4-.6 .7-.4 -.7-.7 -.4-.3 -.6-.3 -.7-.7 .1-1 .6-.7 1 .7 0 .3 .1-.3 .9-.8 .4-.2 .6-.3 .2 .3 .8 1 0 .2 0-.2 .8-1 .2-.4 .2 .4 .6 1 -.5 1 -.2 1 -.1 .2 -1-.2 -.7 1 .2 1 -.5 .3 -.5 .7 -.1 1zM410.5 194.8l.4-1 -.7-.5 -1 .3 -.2 .2 .2 .7 .3 .3 .7 .2zM387.9 195.8l-.7-.9 -1 .5 -.2 .4 .2 .6 1 0zM388.2 199.0l-1-.1 -.3-.1 .3-.4 1 0 .4 .4zM386.2 201.9l-.5-.1 .3-1 -.3-1 .5-.7 .5 .7 -.3 1 0 1zM392.4 205.8l.8-.3 .4-.7 .2-1 -.6-.6 -1 .6 -.9-1 -.1-.2 -.9 .2 .9 .6 .9 .4 -.2 1 .2 1 .1 .1zM384.2 208.1l-.1-.3 -.1-1 .2-.4 .5 .4 -.3 1zM389.2 211.6l-.1-.8 0-1 0-1 .1-.3 .4 .3 -.3 1 0 1zM411.2 220.0l-1 .3 -.6-.5 .6-.9 1 .5 .4 .4zM406.2 222.1l-.1-.3 .1-1 1-.8 .8 .8 -.8 .5 -.9 .5zM409.2 224.0l-1 0 -.1-.2 .1-.1 1-.9 0-.4 1 .3 .1 .1 -.1 .3 -.9 .7zM398.2 224.6l-1-.6 -1 .2 -1-.1 -.7-.3 .7-.2 1-.5 1-.1 1 .5 .4 .3zM400.2 238.3l-.3-.5 0-1 -.7-.7 -.3-.3 .3-.3 .3-.7 .7-1 .6 1 -.3 1 -.1 1 .5 1zM401.2 240.9l0-.1 0-1 .1 0 -.1 1z" fill="none" stroke="#080880" stroke-width="1.01" stroke-linejoin="round"/><path d="M391.8 55.8h.8M408.9 55.9h.8M410.8 58.8h.8M411.7 60.8h.8M407.8 64.7h.8M384.8 66.8h.8M385.8 86.8h.8M388.7 88.8h.8M387.8 99.8h.8M412.8 101.9h.8M411.8 103.8h.8M389.8 106.8h.8M414.8 107.8h.8M412.9 108.8h.8M385.8 114.8h.8M384.8 132.8h.8M417.7 134.9h.8M417.7 137.8h.8M415.9 138.8h.8M385.8 139.8h.8M378.8 142.8h.8M388.7 142.8h.8M386.7 144.8h.8M378.8 145.7h.8M368.8 146.8h.8M408.8 146.8h.8M386.7 147.8h.8M383.8 148.8h.8M369.0 149.8h.8M379.9 150.8h.8M419.8 151.0h.8M421.7 150.7h.8M434.8 150.9h.8M382.8 151.9h.8M386.8 153.7h.8M419.7 153.7h.8M375.8 154.8h.8M388.7 155.8h.8M381.9 156.8h.8M437.8 156.8h.8M431.8 157.8h.8M424.7 159.0h.8M428.8 158.8h.8M366.8 159.8h.8M378.9 159.9h.8M380.8 159.8h.8M424.0 159.8h.8M379.7 160.7h.8M382.0 160.8h.8M426.8 160.8h.8M437.8 160.7h.8M436.8 161.8h.8M439.8 161.8h.8M373.9 164.8h.8M455.8 164.8h.8M448.8 165.8h.8M368.8 166.8h.8M371.9 166.8h.8M362.8 167.8h.8M370.8 167.8h.8M430.9 168.8h.8M443.8 168.8h.8M375.8 169.7h.8M425.0 169.8h.8M428.8 169.8h.8M439.8 169.8h.8M427.7 170.8h.8M344.8 171.8h.8M422.8 171.8h.8M352.8 172.8h.8M368.8 172.9h.8M376.8 172.9h.8M433.8 172.9h.8M442.8 172.8h.8M429.8 173.8h.8M434.7 173.8h.8M373.8 174.7h.8M375.8 174.8h.8M368.9 175.7h.8M376.9 175.7h.8M378.7 175.8h.8M423.7 175.9h.8M355.7 176.8h.8M415.9 176.8h.8M436.0 177.8h.8M425.8 178.8h.8M445.8 178.8h.8M371.9 179.8h.8M383.8 180.8h.8M451.8 180.8h.8M360.8 181.9h.8M420.7 181.7h.8M448.8 181.8h.8M379.8 182.8h.8M424.8 182.8h.8M429.8 182.9h.8M376.8 183.8h.8M411.8 183.8h.8M430.7 183.8h.8M436.9 183.7h.8M379.7 184.8h.8M422.7 184.8h.8M381.8 185.6h.8M410.8 185.8h.8M380.8 186.8h.8M355.8 187.8h.8M426.8 187.7h.8M436.8 187.9h.8M378.8 189.8h.8M419.8 189.7h.8M389.7 191.9h.8M359.8 193.8h.8M419.8 193.9h.8M425.8 194.8h.8M433.9 194.8h.8M422.9 195.8h.8M407.8 196.8h.8M419.8 199.8h.8M384.8 202.8h.8M415.8 202.7h.8M385.8 204.8h.8M388.8 204.7h.8M414.8 204.8h.8M381.8 205.8h.8M388.8 206.8h.8M413.8 206.8h.8M415.8 206.8h.8M377.9 207.7h.8M378.7 209.8h.8M383.7 209.8h.8M388.0 211.9h.8M410.8 211.7h.8M390.8 212.8h.8M405.8 212.8h.8M418.8 212.8h.8M410.8 213.8h.8M391.9 214.7h.8M404.8 215.7h.8M392.8 216.9h.8M411.8 216.8h.8M390.8 218.9h.8M392.8 218.8h.8M402.9 219.8h.8M407.7 219.9h.8M390.8 220.7h.8M404.9 224.7h.8M397.8 226.8h.8M401.8 237.8h.8M399.8 241.8h.8" fill="none" stroke="#080880" stroke-width="0.8"/><path d="M347.2 243.4l-.3-.6 .2-1 .1-.2 .4-.8 .6-1 .8-1 .2-.4 .4-.6 .6-1 0-.1 .6-.9 .4-.8 .2-.2 .7-1 .1-.2 .5-.8 .5-.9 .1-.1 .7-1 .2-.4 .4-.6 .6-.9 .1-.1 .7-1 .2-.2 .5-.8 .5-.7 .2-.3 .7-1 .1-.1 .7-.9 .3-.6 .3-.4 .6-1 .1-.2 .6-.8 .4-.7 .2-.3 .6-1 .2-.2 .7-.8 .3-.4 .4-.6 .5-1 .1-.1 .6-.9 .4-.5 .3-.5 .7-1 .7-1 .3-.4 .4-.6 .6-.8 .1-.2 .7-1 .2-.3 .5-.7 .5-.8 .2-.2 .6-1 .2-.3 .5-.7 .5-.7 .2-.3 .7-1 .1-.2 .6-.8 .4-.7 .2-.3 .7-1 .1-.1 .6-.9 .4-.6 .2-.4 .8-.9 .1-.1 .5-1 .4-.6 .3-.4 .7-1 .6-1 .4-.5 .4-.5 .6-.8 .1-.2 .6-1 .3-.4 .4-.6 .6-.7 .2-.3 .7-1 .1-.2 .4-.8 .6-.8 .1-.2 .5-1 .4-.6 .2-.4 .3-1 .1-1 -.2-1 -.2-1 0-1 0-1 -.2-.8 -.1-.2 -.3-1 -.5-1 -.1-.1 -.7-.9 -.3-.8 -.1-.2 -.5-1 -.4-.7 -.2-.3 -.5-1 .3-1 .4-.8 .1-.2 .7-1 .2-.3 .4-.7 .5-1 .1-.2 .6-.8 .4-.6 .3-.4 .7-.7 .2-.3 .7-1 .1-.3 .2-.7 .2-1 .6-.8 .1-.2 .8-1 .1-.4 .1-.6 .1-1 .6-1 .2-.2 1-.6 .2-.2 .4-1 .2-1 .2-.4 .3-.6 .7-.9 0-.1 .2-1 .1-1 0-1 -.1-1 -.2-.5 -.1-.5 -.2-1 -.4-1 -.3-.5 -.4-.5 -.5-1 -.1-.2 -.7-.8 -.3-.6 -.1-.4 -.1-1 -.3-1 -.4-1 -.1-.2 -.5-.8 -.4-1 .1-1 -.1-1 -.1-.4 -.2-.6 -.2-1 -.2-1 -.1-1 .1-1 0-1 0-1 .1-1 .1-1 .2-1 .2-1 0-.1 .1-.9 .1-1 .3-1 .4-1 .1-.4 .2-.6 .3-1 .5-.9 .1-.1 .9-1 .6-1 .4-.9 .1-.1 .6-1 .3-1 0-.1 .2-.9 0-1 -.2-.5 -.2-.5 -.7-1 -.1-.1 -.6-.9 -.4-.7 -.2-.3 -.6-1 -.2-.5 -.2-.5 -.5-1 -.3-.8 -.1-.2 -.4-1 -.2-1 -.2-1 -.1-.3 -.2-.7 -.1-1 0-1 0-1 0-1 -.1-1 0-1 .1-1 0-1 .1-1 .2-.9 0-.1 .4-1 .1-1 .2-1 .3-1 .4-1 .4-1 .2-.3 .4-.7 .5-1 .1-.3 .3-.7 .7-1 0-.1 .8-.9 .2-.4 .5-.6 .5-.5 .4-.5 .5-1 .1-.6 0-.4 .2-1 0-1 0-1 -.2-.7 -.1-.3 -.3-1 -.4-1 -.2-.4 -.3-.6 -.6-1 -.1-.2 -.3-.8 -.4-1 -.3-.9 0-.1 -.3-1 -.2-1 -.1-1 -.1-1 -.1-1 .1-1 .1-1 .1-1 .2-1 .3-1 .3-1 .5-1 .2-.4 .3-.6 .7-.8 .2-.2 .8-.7 .3-.3 .7-.5 .6-.5 .4-.2 1-.5 1-.2 1 0 1 .1 1 .2 1 .4 .3 .2 .7 .5 .7 .5 .3 .2 .7 .8 .3 .5 .3 .5 .6 1 .1 .2 .4 .8 .5 1 .1 .4 .2 .6 0 1 .1 1 0 1 0 1 0 1 0 1 -.1 1 -.1 1 -.1 .3 -.2 .7 -.3 1 -.4 1 -.1 .2 -.4 .8 -.4 1 -.2 .4 -.3 .6 -.5 1 -.2 .5 -.1 .5 -.3 1 .1 1 0 1 .2 1 .1 .7 .1 .3 .4 1 .5 1 0 .1 .7 .9 .3 .3 .5 .7 .5 .6 .3 .4 .6 1 .1 .1 .4 .9 .5 1 .1 .2 .3 .8 .4 1 .3 .7 .1 .3 .3 1 .1 1 .2 1 .1 1 .2 1 .1 1 .1 1 -.1 1 .1 1 0 1 -.1 1 -.1 .4 -.1 .6 -.1 1 -.1 1 -.3 1 -.3 1 -.1 .3 -.2 .7 -.2 1 -.5 1 -.1 .1 -.5 .9 -.4 1 -.1 .1 -.5 .9 -.5 .9 0 .1 -.5 1 -.5 .9 0 .1 -.3 1 -.1 1 .3 1 .1 .1 .7 .9 .3 .3 .6 .7 .4 .8 .1 .2 .4 1 .5 .8 .1 .2 .5 1 .2 1 .2 .4 .2 .6 .4 1 .2 1 .1 1 .1 .4 .1 .6 .3 1 .1 1 0 1 -.1 1 0 1 -.1 1 -.1 1 -.2 1 0 .1 -.1 .9 -.1 1 -.1 1 -.2 1 -.3 1 -.2 .5 -.2 .5 -.3 1 -.5 .8 -.1 .2 -.6 1 -.3 .9 0 .1 -.4 1 -.4 1 -.2 .3 -.5 .7 -.4 1 -.1 1 .2 1 -.1 1 -.1 .3 -.2 .7 .2 .5 .2 .5 .8 .8 .4 .2 .6 .4 1-.1 .3-.3 .7-.8 .1-.2 .9-.8 .2-.2 .8-.6 .4-.4 .6-.7 .3-.3 .7-1 .7-1 .3-.3 .6-.7 .4-.4 .5-.6 .5-.6 .3-.4 .7-.8 .1-.2 .7-1 .2-.2 .6-.8 .4-.4 .5-.6 .5-.7 .3-.3 .7-.9 .1-.1 .7-1 .2-.2 .6-.8 .4-.4 .5-.6 .5-.8 .2-.2 .7-1 .1-.2 .7-.8 .3-.3 .5-.7 .5-.6 .3-.4 .7-.9 .1-.1 .8-1 .1-.2 .7-.8 .3-.4 .5-.6 .5-.8 .2-.2 .7-1 .1-.1 .8-.9 .2-.2 .7-.8 .3-.4 .5-.6 .5-.6 .4-.4 .6-.8 .2-.2 .7-1 .1-.2 .6-.8 .4-.5 .5-.5 .5-.6 .4-.4 .6-.6 .4-.4 .6-.8 .2-.2 .8-1 .8-1 .2-.3 .6-.7 .4-.6 .4-.4 .6-.8 .2-.2 .8-.9 .2-.1 .7-1 .1-.2 .7-.8 .3-.3 .7 .3 -.4 1 -.3 .6 -.4 .4 -.5 1 -.1 .3 -.4 .7 -.6 1 -.7 1 -.3 .5 -.4 .5 -.5 1 -.1 .1 -.6 .9 -.4 .8 -.1 .2 -.8 1 -.1 .2 -.6 .8 -.4 1 -.7 1 -.3 .5 -.4 .5 -.6 .9 -.1 .1 -.6 1 -.3 .5 -.3 .5 -.6 1 -.1 .1 -.7 .9 -.3 .4 -.4 .6 -.6 1 -.7 1 -.3 .5 -.3 .5 -.6 1 -.1 .1 -.7 .9 -.3 .5 -.4 .5 -.6 .9 -.1 .1 -.7 1 -.2 .4 -.4 .6 -.6 .9 -.1 .1 -.7 1 -.2 .3 -.4 .7 -.6 .8 -.1 .2 -.7 1 -.2 .3 -.5 .7 -.5 .8 -.1 .2 -.7 1 -.2 .3 -.5 .7 -.5 .7 -.2 .3 -.7 1 -.1 .1 -.6 .9 -.4 .6 -.3 .4 -.6 1 -.1 .1 -.6 .9 -.4 .6 -.2 .4 -.8 1 0 .1 -.6 .9 -.4 .5 -.3 .5 -.7 .9 0 .1 -.6 1 -.4 .6 -.2 .4 -.6 1 -.2 .5 -.2 .5 -.2 1 -.4 1 -.2 .6 -.1 .4 .1 .3 .2 .7 .5 1 .1 1 -.1 1 .1 1 .2 .7 .1 .3 .5 1 .4 .7 .3 .3 .7 1 .6 1 .4 .8 .2 .2 0 1 -.2 .3 -.3 .7 -.7 1 0 .1 -.8 .9 -.2 .3 -.6 .7 -.4 .7 -.2 .3 -.2 1 -.6 .9 -.1 .1 -.9 .9 -.1 .1 -.2 1 -.4 1 -.3 .6 -.3 .4 -.5 1 -.2 .4 -.2 .6 -.5 1 -.2 1 -.1 .1 -.9 .9 -.1 .1 -.9 .9 0 1 -.1 .2 -.5 .8 -.5 .6 -.2 .4 -.5 1 -.1 1 .4 1 .3 1 -.1 1 -.1 1 -.2 1 .2 1 0 1 0 1 0 1 0 1 -.1 1 -.2 1 0 1 -.2 1 -.2 .6 -.1 .4 -.1 1 -.2 1 -.4 1 -.2 .5 -.2 .5 -.3 1 -.4 1 -.1 .3 -.4 .7 -.3 1 -.3 .7 -.1 .3 -.6 1 -.2 1 -.1 .4 -.1 .6 -.4 1 -.5 .9 -.1 .1 -.6 1 -.3 .5 -.3 .5 -.6 1 -.1 .2 -.6-.2 -.4-.1 -.6-.9 -.4-.7 -.1-.3 -.7-1 -.2-.7 -.1-.3 -.2-1 -.1-1 -.5-1 -.1-.2 -.5-.8 -.2-1 -.3-.9 0-.1 -.5-1 -.4-1 -.1-.4 -.2-.6 -.2-1 -.2-1 -.2-1 -.2-1 0-.1 -.3-.9 -.2-1 -.1-1 0-1 0-1 -.2-1 -.1-1 .1-1 .1-1 .2-1 0-1 -.1-1 0-1 -.1-1 -.3-.9 -.1-.1 -.9-.8 -1 .1 -1 .5 -.1 .2 -.8 1 -.1 .1 -.9 .9 -.1 .1 -.7 .9 -.3 .3 -.5 .7 -.5 .5 -.4 .5 -.6 .6 -.3 .4 -.7 1 -.9 1 -.1 .1 -.7 .9 -.3 .4 -.5 .6 -.5 .5 -.4 .5 -.6 .8 -.2 .2 -.7 1 -.1 .1 -.7 .9 -.3 .4 -.5 .6 -.5 .6 -.3 .4 -.7 1 -.8 1 -.2 .3 -.6 .7 -.4 .6 -.3 .4 -.7 .9 -.1 .1 -.8 1 -.1 .1 -.7 .9 -.3 .4 -.5 .6 -.5 .7 -.3 .3 -.7 .9 -.1 .1 -.7 1 -.2 .3 -.6 .7 -.4 .5 -.4 .5 -.6 .8 -.2 .2 -.7 1 -.1 .1 -.7 .9 -.3 .4 -.5 .6 -.5 .7 -.3 .3 -.7 .8 -.2 .2 -.7 1 -.1 .2 -.6 .8 -.4 .5 -.4 .5 -.6 .8 -.1 .2 -.7 1 -.2 .3 -.7 .7 -.3 .4 -.5 .6 -.5 .6 -.4 .4 -.6 .7 -.3 .3 -.7 1 0 .1 -.8 .9 -.2 .3 -.6 .7 -.4 .5 -.4 .5 -.6 .7 -.3 .3 -.7 .7 -.3 .3 -.7 .8 -.2 .2 -.8 1zM344.2 245.4l1-.6 .4 1 -.4 .8 -.1 .2 -.8 1 -.1 .1" fill="none" stroke="#1020b0" stroke-width="1.01" stroke-linejoin="round"/><path d="M354.2 233.9l-.3-.1 0-1 .3-.7 .3-.3 .5-1 .2-.4 .4-.6 .6-1 .8-1 .2-.4 .4-.6 .6-1 .8-1 .2-.3 .5-.7 .4-1 .1-.1 .7-.9 .3-.5 .3-.5 .6-1 .1-.2 .6-.8 .4-.5 .4-.5 .6-1 0-.1 .6-.9 .4-.5 .4-.5 .6-1 .7-1 .3-.5 .4-.5 .6-.9 .1-.1 .7-1 .2-.4 .5-.6 .5-.8 .2-.2 .6-1 .2-.3 .5-.7 .5-.8 .1-.2 .7-1 .2-.3 .5-.7 .5-.7 .2-.3 .6-1 .2-.2 .6-.8 .4-.6 .3-.4 .6-1 .1-.1 .7-.9 .3-.5 .3-.5 .7-1 .7-1 .3-.5 .4-.5 .6-.8 .1-.2 .7-1 .2-.3 .5-.7 .5-.7 .2-.3 .8-1 0-.1 .6-.9 .4-.6 .2-.4 .7-1 .1-.1 .6-.9 .4-.7 .2-.3 .3-1 .2-1 .1-1 -.1-1 -.1-1 -.1-1 -.1-1 -.1-1 -.2-1 -.1-.5 -.2-.5 -.4-1 -.4-.8 -.1-.2 -.8-1 -.1-.3 -.1-.7 0-1 .1-.3 .2-.7 .6-1 .2-.3 .5-.7 .5-.5 .4-.5 .6-1 .6-1 .4-.6 .3-.4 .4-1 .3-.5 .4-.5 .6-.6 .3-.4 .6-1 .1-.4 .2-.6 .8-.8 .2-.2 .6-1 .2-.3 .4-.7 .4-1 .2-.6 .1-.4 .5-1 .4-.9 .1-.1 .3-1 .2-1 .1-1 0-1 .1-1 0-1 -.3-1 -.3-1 -.2-.7 -.2-.3 -.8-1 -.9-1 -.1-.2 -.5-.8 -.5-.6 -.4-.4 -.6-.9 0-.1 -.4-1 -.4-1 -.2-.3 -.4-.7 -.2-1 -.3-1 -.1-.7 -.1-.3 -.2-1 -.2-1 -.1-1 0-1 -.1-1 .1-1 .1-1 .1-1 .1-1 .2-1 .1-.8 0-.2 .2-1 .4-1 .4-1 0-.1 .4-.9 .5-1 .1-.1 .6-.9 .4-.4 .4-.6 .6-1 .8-1 .2-.3 .4-.7 .6-1 0-.2 .1-.8 -.1-.8 0-.2 -.5-1 -.5-.8 -.1-.2 -.9-1 -.8-1 -.2-.3 -.4-.7 -.5-1 -.1-.2 -.4-.8 -.5-1 -.1-.1 -.4-.9 -.3-1 -.2-1 -.1-.5 -.1-.5 -.1-1 -.1-1 -.2-1 0-1 0-1 0-1 0-1 .1-1 .2-1 .2-.8 0-.2 .3-1 .1-1 .3-1 .3-.8 .1-.2 .4-1 .5-.9 0-.1 .6-1 .4-.7 .2-.3 .7-1 .1-.1 1-.9 .8-1 .2-.3 .4-.7 .5-1 .1-.2 .2-.8 .3-1 .1-1 0-1 -.1-1 -.2-1 -.3-1 -.4-1 -.6-.9 0-.1 -.6-1 -.4-.8 -.1-.2 -.5-1 -.4-1 0-.1 -.3-.9 -.1-1 -.2-1 -.1-1 -.1-1 0-1 .2-1 .1-1 .3-1 .2-.6 .1-.4 .3-1 .4-1 .2-.3 .6-.7 .4-.4 .6-.6 .4-.3 .9-.7 .1-.1 1-.5 1-.3 1 .1 1 0 1 .2 1 .5 .1 .1 .9 .6 .5 .4 .5 .6 .3 .4 .5 1 .2 .3 .4 .7 .5 1 .1 .3 .2 .7 0 1 .1 1 .1 1 0 1 0 1 0 1 -.2 1 -.1 1 -.1 .2 -.3 .8 -.3 1 -.4 .8 -.1 .2 -.5 1 -.4 1 -.5 1 -.5 1 0 .1 -.3 .9 -.2 1 0 1 -.1 1 .1 1 .1 1 .3 1 .1 .2 .3 .8 .6 1 .1 .2 .8 .8 .2 .2 .7 .8 .3 .4 .5 .6 .5 .8 .1 .2 .6 1 .3 .5 .2 .5 .4 1 .4 .8 .1 .2 .4 1 .2 1 .1 1 .1 1 .1 .5 .1 .5 .1 1 .1 1 0 1 0 1 0 1 -.1 1 -.2 1 0 .1 -.1 .9 -.2 1 -.2 1 -.4 1 -.1 .3 -.3 .7 -.3 1 -.4 .7 -.2 .3 -.6 1 -.2 .4 -.3 .6 -.6 1 -.1 .2 -.7 .8 -.3 .3 -.6 .7 -.4 .8 -.1 .2 0 1 .1 .9 0 .1 .4 1 .6 1 .8 1 .2 .2 .6 .8 .4 .5 .3 .5 .5 1 .2 .3 .4 .7 .4 1 .2 .6 .1 .4 .4 1 .3 1 .1 1 .1 .3 .1 .7 .2 1 .1 1 .1 1 -.1 1 0 1 -.1 1 -.1 1 -.1 1 -.1 .5 -.1 .5 -.2 1 -.1 1 -.3 1 -.3 .6 -.2 .4 -.4 1 -.4 .8 -.1 .2 -.6 1 -.3 .4 -.4 .6 -.6 .8 -.1 .2 -.9 1 -.7 1 -.3 .6 -.2 .4 -.3 1 -.2 1 0 1 -.1 1 .2 1 .3 1 .2 1 .1 .4 .3 .6 .7 .8 .2 .2 .8 .7 .6 .3 .4 .1 .5-.1 .5-.1 1-.8 .1-.1 .9-.9 0-.1 .8-1 .2-.2 .6-.8 .4-.5 .4-.5 .6-.6 .3-.4 .7-.9 .1-.1 .7-1 .2-.2 .6-.8 .4-.5 .4-.5 .6-.7 .2-.3 .8-1 .8-1 .2-.3 .5-.7 .5-.6 .3-.4 .7-.8 .2-.2 .7-1 .1-.1 .8-.9 .2-.3 .5-.7 .5-.6 .3-.4 .7-.9 .1-.1 .7-1 .2-.3 .6-.7 .4-.4 .5-.6 .5-.7 .2-.3 .8-.9 0-.1 .8-1 .2-.2 .6-.8 .4-.5 .5-.5 .5-.7 .3-.3 .7-1 0-.1 .8-.9 .2-.2 .8-.8 .2-.3 .6-.7 .4-.4 .5-.6 .5-.6 .5-.4 .5-.7 .3-.3 .6-1 .1-.2 .8-.8 .2-.3 .9-.7 .1-.1 .2 .1 .1 1 -.3 1 -.8 1 -.2 .3 -.5 .7 -.5 .9 0 .1 -.6 1 -.4 .8 -.1 .2 -.7 1 -.2 .2 -.5 .8 -.5 .8 -.1 .2 -.7 1 -.2 .4 -.4 .6 -.6 1 0 .1 -.7 .9 -.3 .5 -.4 .5 -.6 .9 -.1 .1 -.6 1 -.3 .4 -.4 .6 -.6 1 -.7 1 -.3 .4 -.5 .6 -.5 .9 -.1 .1 -.7 1 -.2 .3 -.5 .7 -.5 .8 -.1 .2 -.7 1 -.2 .3 -.5 .7 -.5 .8 -.1 .2 -.8 1 -.1 .2 -.6 .8 -.4 .7 -.2 .3 -.7 1 -.1 .2 -.6 .8 -.4 .6 -.3 .4 -.6 1 -.1 .1 -.7 .9 -.3 .5 -.4 .5 -.6 .9 -.1 .1 -.7 1 -.2 .4 -.4 .6 -.6 1 -.7 1 -.3 .7 -.1 .3 -.4 1 -.5 1 0 .2 -.1 .8 .1 .9 0 .1 .2 1 .1 1 .1 1 0 1 0 1 .3 1 .3 .9 .1 .1 .5 1 .4 .8 .2 .2 .6 1 .1 1 -.5 1 -.4 .6 -.2 .4 -.8 1 -.7 1 -.3 .5 -.4 .5 -.6 1 -.7 1 -.3 .6 -.2 .4 -.6 1 -.2 .3 -.6 .7 -.4 .6 -.3 .4 -.6 1 -.1 .3 -.2 .7 -.5 1 -.3 .5 -.4 .5 -.6 .6 -.3 .4 -.3 1 -.4 .7 -.2 .3 -.4 1 -.1 1 -.1 1 -.1 1 .2 1 .2 1 .3 1 .1 1 .1 .6 .1 .4 .1 1 .2 1 .1 1 .1 1 -.1 1 -.1 1 0 1 0 1 -.2 1 -.2 .8 0 .2 -.3 1 -.3 1 -.4 1 -.4 1 -.4 1 -.2 .4 -.3 .6 -.5 1 -.2 .5 -.3 .5 -.5 1 -.2 .4 -.3 .6 -.4 1 -.3 .6 -.4 .4 -.6 .7 -1-.3 -.2-.4 -.3-1 -.5-1 -.4-1 -.5-1 -.1-.2 -.4-.8 -.5-1 -.1-.1 -.5-.9 -.5-1 0-.1 -.3-.9 -.2-1 -.3-1 -.2-.8 -.1-.2 -.2-1 -.1-1 -.1-1 -.1-1 0-1 -.1-1 0-1 .2-1 .1-1 .2-1 .2-1 0-.1 .2-.9 .2-1 .3-1 .3-1 .1-1 0-1 -.1-1 -.8-1 -.2-.2 -1-.3 -1 .1 -.6 .4 -.4 .2 -.8 .8 -.2 .2 -.7 .8 -.3 .3 -.6 .7 -.4 .5 -.3 .5 -.7 .9 -.1 .1 -.8 1 -.1 .1 -.7 .9 -.3 .4 -.5 .6 -.5 .6 -.3 .4 -.7 .8 -.1 .2 -.7 1 -.2 .2 -.7 .8 -.3 .4 -.5 .6 -.5 .6 -.3 .4 -.7 .8 -.1 .2 -.7 1 -.2 .2 -.6 .8 -.4 .5 -.4 .5 -.6 .8 -.2 .2 -.7 1 -.1 .1 -.7 .9 -.3 .4 -.5 .6 -.5 .7 -.3 .3 -.7 1 -.8 1 -.2 .3 -.6 .7 -.4 .6 -.4 .4 -.6 .8 -.2 .2 -.8 1 -.8 1 -.2 .3 -.6 .7 -.4 .6 -.3 .4 -.7 .9 -.1 .1 -.8 1 -.1 .1 -.8 .9 -.2 .3 -.6 .7 -.4 .6 -.3 .4 -.7 .8 -.2 .2 -.8 .9 -.1 .1 -.7 1 -.2 .3 -.5 .7 -.5 .6 -.3 .4 -.7 1 -.9 1 -.1 .1 -.9 .9 -.1 .1 -.9 .9 -.1 .2 -.9 .8zM353.2 235.0l-.1-.2 .1-.3 .1 .3z" fill="none" stroke="#1840c0" stroke-width="1.01" stroke-linejoin="round"/><path d="M363.2 221.3l-.3-.5 .3-1 .7-1 .3-.4 .5-.6 .5-1 0-.1 .7-.9 .3-.5 .4-.5 .5-1 .1-.1 .6-.9 .4-.6 .3-.4 .6-1 .1-.1 .6-.9 .4-.6 .3-.4 .6-1 .1-.1 .6-.9 .4-.7 .2-.3 .7-1 .1-.2 .6-.8 .4-.6 .3-.4 .6-1 .1-.2 .6-.8 .4-.5 .3-.5 .7-1 0-.1 .7-.9 .3-.4 .4-.6 .6-1 .7-1 .3-.4 .4-.6 .6-.9 .1-.1 .7-1 .2-.3 .5-.7 .5-.7 .2-.3 .7-1 .1-.1 .7-.9 .3-.5 .3-.5 .7-1 0-.1 .7-.9 .3-.5 .3-.5 .6-1 .1-.3 .3-.7 .3-1 .1-1 -.1-1 -.1-1 -.1-1 0-1 -.1-1 0-1 -.1-1 -.2-.7 -.1-.3 -.4-1 -.4-1 -.1-.2 -.3-.8 .1-1 .2-.7 .1-.3 .5-1 .4-.4 .4-.6 .6-.8 .1-.2 .6-1 .3-.5 .3-.5 .7-1 .7-1 .3-.4 .3-.6 .7-.9 .1-.1 .7-1 .2-.4 .3-.6 .6-1 .1-.2 .4-.8 .6-1 .5-1 .5-1 0-.1 .3-.9 .4-1 .2-1 .1-.4 .1-.6 0-1 .2-1 0-1 0-1 -.3-.9 0-.1 -.2-1 -.2-1 -.6-.9 -.1-.1 -.9-.9 -.1-.1 -.9-1 -.7-1 -.3-.4 -.5-.6 -.5-.8 -.1-.2 -.6-1 -.3-.6 -.2-.4 -.4-1 -.3-1 -.1-.4 -.2-.6 -.2-1 -.2-1 -.1-1 0-1 -.1-1 .1-1 0-1 .2-1 .1-1 .1-1 .3-1 0-.2 .2-.8 .4-1 .4-1 .5-1 .5-.7 .2-.3 .7-1 .1-.1 .7-.9 .3-.4 .5-.6 .5-.6 .4-.4 .6-.9 0-.1 .6-1 .1-1 -.2-1 -.5-1 0-.1 -.7-.9 -.3-.4 -.5-.6 -.5-.6 -.4-.4 -.6-.8 -.1-.2 -.6-1 -.3-.5 -.3-.5 -.5-1 -.2-.4 -.3-.6 -.4-1 -.3-1 0-.1 -.2-.9 -.1-1 -.2-1 -.1-1 0-1 -.1-1 0-1 .1-1 .1-1 .2-1 .2-1 .1-.3 .1-.7 .3-1 .4-1 .2-.6 .1-.4 .5-1 .4-.6 .2-.4 .7-1 .1-.2 .7-.8 .3-.3 .7-.7 .3-.3 .6-.7 .4-.6 .3-.4 .5-1 .2-.5 .2-.5 .3-1 .3-1 0-1 -.1-1 0-1 -.2-1 -.3-1 -.2-.4 -.2-.6 -.6-1 -.2-.3 -.5-.7 -.5-1 -.5-1 -.4-1 -.1-.3 -.2-.7 -.2-1 -.2-1 -.1-1 -.1-1 0-1 .1-1 .2-1 .3-1 .2-.6 .1-.4 .4-1 .5-1 .9-1 .1-.1 1-.7 .3-.2 .7-.5 1-.3 1 .1 1 0 1 .3 .7 .4 .3 .2 1 .8 .8 1 .2 .4 .3 .6 .5 1 .2 .6 .1 .4 .2 1 .1 1 .1 1 0 1 0 1 -.1 1 -.1 1 -.3 1 0 .1 -.4 .9 -.4 1 -.2 .4 -.3 .6 -.5 1 -.2 .5 -.3 .5 -.4 1 -.3 .7 -.1 .3 -.3 1 -.2 1 -.2 1 -.1 1 0 1 .2 1 .4 1 .3 .9 0 .1 .5 1 .5 .7 .2 .3 .8 .9 .1 .1 .9 .8 .2 .2 .8 1 0 .1 .6 .9 .4 .8 .1 .2 .5 1 .4 .9 0 .1 .5 1 .3 1 .1 1 .1 .4 .1 .6 .1 1 .2 1 .1 1 0 1 0 1 -.1 1 -.1 1 -.2 1 -.1 .8 0 .2 -.2 1 -.3 1 -.4 1 -.1 .3 -.3 .7 -.4 1 -.3 .4 -.4 .6 -.6 .9 -.1 .1 -.6 1 -.3 .3 -.6 .7 -.4 .3 -.6 .7 -.4 .5 -.3 .5 -.3 1 0 1 .1 1 .4 1 .1 .1 .5 .9 .5 .7 .3 .3 .7 .8 .2 .2 .8 1 .6 1 .4 .7 .2 .3 .5 1 .3 .6 .2 .4 .4 1 .2 1 .2 1 .2 1 .2 1 .1 1 0 1 0 1 0 1 -.1 1 -.1 1 -.1 1 -.2 1 -.3 1 -.2 1 -.4 1 -.1 .2 -.4 .8 -.5 1 -.1 .2 -.6 .8 -.4 .6 -.3 .4 -.7 .8 -.2 .2 -.8 1 -.9 1 -.1 .1 -.5 .9 -.3 1 -.2 .8 0 .2 -.2 1 0 1 0 1 .2 1 0 .1 .2 .9 .3 1 .2 1 .3 .8 .1 .2 .5 1 .4 .6 .5 .4 .5 .3 1 .1 1-.1 .9-.3 .1 0 1-.8 .2-.2 .8-.9 .1-.1 .8-1 .1-.1 .7-.9 .3-.4 .5-.6 .5-.6 .3-.4 .7-.9 .1-.1 .8-1 .1-.2 .6-.8 .4-.5 .4-.5 .6-.7 .2-.3 .8-1 .8-1 .2-.3 .6-.7 .4-.6 .3-.4 .7-.9 .1-.1 .8-1 .1-.1 .8-.9 .2-.3 .6-.7 .4-.6 .3-.4 .7-.8 .1-.2 .8-1 .1-.2 .7-.8 .3-.4 .6-.6 .4-.6 .4-.4 .6-.7 .3-.3 .7-.9 .1-.1 .7-1 .2-.3 .8-.7 .2-.2 .9-.8 .1-.1 .9-.9 .1-.2 .2 .2 -.2 1 -.7 1 -.3 .9 0 .1 -.8 1 -.2 .4 -.5 .6 -.5 1 0 .1 -.6 .9 -.4 .7 -.2 .3 -.7 1 -.1 .2 -.6 .8 -.4 .7 -.2 .3 -.6 1 -.2 .3 -.6 .7 -.4 .6 -.3 .4 -.6 1 -.1 .2 -.5 .8 -.5 .8 -.2 .2 -.7 1 -.1 .2 -.6 .8 -.4 .6 -.3 .4 -.6 1 -.1 .2 -.6 .8 -.4 .6 -.3 .4 -.7 1 0 .1 -.7 .9 -.3 .5 -.4 .5 -.6 .9 -.1 .1 -.7 1 -.2 .3 -.5 .7 -.5 .9 0 .1 -.7 1 -.3 .4 -.4 .6 -.5 1 -.1 .2 -.4 .8 -.3 1 -.2 1 .1 1 .1 1 .1 1 .1 1 0 1 -.1 1 .1 1 .3 1 .2 .7 .1 .3 .5 1 .4 1 0 .3 .1 .7 -.1 .1 -.3 .9 -.5 1 -.2 .3 -.4 .7 -.6 .9 -.1 .1 -.7 1 -.2 .2 -.6 .8 -.4 .6 -.2 .4 -.6 1 -.2 .3 -.5 .7 -.5 .6 -.3 .4 -.6 1 -.1 .2 -.4 .8 -.5 1 -.1 .1 -.5 .9 -.5 .6 -.3 .4 -.6 1 -.1 .1 -.4 .9 -.4 1 -.2 .7 -.1 .3 -.1 1 0 1 0 1 .2 1 .3 1 .4 1 .2 1 .1 .3 .2 .7 .2 1 .1 1 .1 1 .1 1 0 1 0 1 -.1 1 -.1 1 -.1 1 -.2 1 -.2 .5 -.1 .5 -.4 1 -.4 1 -.1 .2 -.4 .8 -.5 1 -.1 .1 -.5 .9 -.5 .7 -.3 .3 -.7 .9 -.2 .1 -.8 .7 -1-.3 -.3-.4 -.7-.9 -.1-.1 -.5-1 -.4-.5 -.3-.5 -.7-1 0-.1 -.3-.9 -.3-1 -.4-1 -.3-1 -.2-1 -.1-1 -.1-1 -.1-1 0-1 -.1-1 .1-1 .1-1 .2-1 .2-1 .2-1 .1-.2 .2-.8 .3-1 .4-1 .1-.3 .2-.7 .2-1 .1-1 -.1-1 -.3-1 -.1-.1 -.6-.9 -.4-.4 -.8-.6 -.2-.1 -1 0 -.2 .1 -.8 .3 -.9 .7 -.1 .1 -1 .9 -.8 1 -.2 .2 -.7 .8 -.3 .4 -.5 .6 -.5 .8 -.2 .2 -.8 1 0 .1 -.7 .9 -.3 .3 -.5 .7 -.5 .7 -.3 .3 -.7 .8 -.1 .2 -.8 1 -.1 .2 -.6 .8 -.4 .5 -.5 .5 -.5 .7 -.3 .3 -.7 .9 -.1 .1 -.8 1 -.1 .2 -.6 .8 -.4 .6 -.3 .4 -.7 .9 -.1 .1 -.8 1 -.1 .1 -.7 .9 -.3 .3 -.6 .7 -.4 .6 -.3 .4 -.7 .9 -.1 .1 -.8 1 -.1 .2 -.7 .8 -.3 .5 -.5 .5 -.5 .7 -.3 .3 -.7 .9 -.1 .1 -.9 1 -.9 1 -.1 .2 -.7 .8 -.3 .4 -.5 .6 -.5 .7 -.3 .3 -.7 .8 -.3 .2z" fill="none" stroke="#2064b0" stroke-width="1.01" stroke-linejoin="round"/><path d="M402.7 58.5l-.5 .2 -.5 0 -.5-.2 -.5-.2 -.5-.3 -.3-.2 -.2-.1 -.4-.4 -.1-.1 -.4-.4 -.1-.1 -.3-.4 -.2-.3 -.1-.2 -.2-.5 -.2-.5 -.2-.5 -.2-.5 -.1-.1 -.2-.4 -.1-.5 -.1-.5 -.1-.5 0-.5 .1-.5 .1-.5 .2-.5 .1-.4 0-.1 .3-.5 .2-.4 0-.1 .3-.5 .2-.3 .1-.2 .4-.5 .5-.4 .1-.1 .4-.3 .5-.2 .1 0 .4-.1 .5 0 .2 .1 .3 .1 .5 .2 .3 .2 .2 .1 .5 .3 .1 .1 .4 .3 .2 .2 .3 .4 .1 .1 .2 .5 .2 .5 0 .3 0 .2 0 .5 0 .4 0 .1 0 .5 0 .5 .1 .5 0 .5 0 .5 0 .5 -.1 .4 0 .1 -.2 .5 -.2 .5 -.1 .5 -.1 .5 -.1 .5 -.2 .5 -.1 .4 0 .1 -.3 .5 -.2 .3 -.2 .2zM401.7 102.1l-.5 .1 -.5-.1 -.5-.3 -.5-.4 -.1-.1 -.4-.4 -.1-.1 -.4-.4 -.1-.1 -.4-.4 -.1-.1 -.4-.4 -.2-.1 -.3-.3 -.3-.2 -.2-.2 -.3-.3 -.2-.2 -.3-.3 -.2-.3 -.2-.2 -.3-.5 0-.1 -.2-.4 -.2-.5 -.1-.1 -.2-.4 -.2-.5 -.1-.1 -.2-.4 -.2-.5 -.1-.4 0-.1 -.2-.5 -.1-.5 -.2-.5 0-.1 -.1-.4 -.1-.5 0-.5 -.1-.5 0-.5 0-.5 .1-.5 0-.5 0-.5 -.1-.5 0-.5 0-.5 .1-.5 0-.5 .1-.5 .1-.2 .1-.3 .1-.5 .1-.5 .1-.5 .1-.5 .2-.5 .2-.5 .1-.3 .1-.2 .3-.5 .1-.3 .1-.2 .4-.5 .5-.5 .5-.5 .4-.5 .1-.1 .3-.4 .2-.3 .2-.2 .3-.4 .1-.1 .4-.5 .5-.4 .1-.1 .4-.3 .3-.2 .2-.2 .5-.3 .5-.3 .5-.2 .5 .1 .5 .3 .1 .1 .4 .3 .2 .2 .3 .3 .2 .2 .3 .2 .3 .3 .2 .2 .2 .3 .3 .3 .1 .2 .4 .4 0 .1 .4 .5 .1 .1 .4 .4 .1 .2 .3 .3 .2 .3 .2 .2 .3 .5 .3 .5 .2 .5 .2 .5 .2 .5 .1 .3 .1 .2 .1 .5 .2 .5 .1 .5 .2 .5 .1 .5 .1 .5 0 .5 .1 .5 0 .4 0 .1 .1 .5 .1 .5 .1 .5 .1 .5 0 .5 0 .5 -.1 .5 -.2 .5 -.1 .2 -.1 .3 -.3 .5 -.1 .4 -.1 .1 -.1 .5 -.1 .5 -.1 .5 -.1 .4 0 .1 -.1 .5 -.2 .5 -.2 .5 0 .1 -.2 .4 -.3 .5 -.4 .5 -.1 .1 -.4 .4 -.1 .1 -.4 .4 -.1 .1 -.3 .4 -.2 .2 -.2 .3 -.3 .3 -.1 .2 -.4 .5 -.4 .5 -.1 .1 -.4 .4 -.1 .1 -.4 .4 -.1 .1 -.5 .4 -.1 0zM401.7 137.8l-.5 0 -.5-.2 -.3-.3 -.2-.1 -.5-.4 -.5-.4 -.1-.1 -.4-.4 -.1-.1 -.4-.5 -.4-.5 -.1-.1 -.3-.4 -.2-.3 -.2-.2 -.3-.4 -.2-.1 -.3-.3 -.2-.2 -.3-.4 -.1-.1 -.4-.5 -.3-.5 -.2-.3 -.1-.2 -.3-.5 -.1-.4 -.1-.1 -.1-.5 -.2-.5 -.1-.3 -.1-.2 -.2-.5 -.1-.5 -.1-.3 0-.2 -.2-.5 -.1-.5 -.1-.5 0-.5 -.1-.5 0-.4 0-.1 0-.5 0-.2 0-.3 .1-.5 0-.5 .1-.5 .1-.5 .1-.5 .1-.3 .1-.2 .1-.5 .1-.5 .1-.5 .1-.3 .1-.2 .2-.5 .2-.5 .3-.5 .2-.4 .1-.1 .2-.5 .2-.4 .1-.1 .3-.5 .1-.2 .2-.3 .3-.3 .3-.2 .2-.2 .5-.3 .5-.4 .2-.1 .3-.3 .2-.2 .3-.3 .2-.2 .3-.4 .1-.1 .4-.4 .1-.1 .4-.3 .3-.2 .2-.1 .5 0 .1 .1 .4 .3 .2 .2 .3 .2 .4 .3 .1 .1 .5 .2 .3 .2 .2 .1 .5 .2 .2 .2 .3 .2 .2 .3 .3 .4 .1 .1 .3 .5 .1 .2 .2 .3 .3 .5 .3 .5 .2 .3 .2 .2 .3 .5 .3 .5 .2 .3 .1 .2 .3 .5 .1 .3 .1 .2 .2 .5 .2 .5 0 .1 .1 .4 .2 .5 .1 .5 .1 .5 0 .2 0 .3 .1 .5 0 .5 0 .5 0 .5 0 .5 -.1 .5 0 .2 0 .3 -.1 .5 0 .5 0 .5 0 .5 0 .5 -.1 .5 -.1 .5 -.2 .4 -.1 .1 -.2 .5 -.2 .3 -.1 .2 -.3 .5 -.1 .2 -.2 .3 -.2 .5 -.1 .1 -.2 .4 -.3 .4 0 .1 -.4 .5 -.1 .2 -.3 .3 -.2 .3 -.2 .2 -.3 .3 -.2 .2 -.3 .3 -.3 .2 -.2 .2 -.3 .3 -.2 .2 -.3 .3 -.2 .3 -.1 .2 -.3 .5 -.1 .2 -.3 .3 -.2 .2 -.5 .3zM414.7 151.3l-.5 .3 -.1-.3 .1-.4 0-.1 .3-.5 .2-.2 .3-.3 .2-.2 .5 .1 0 .1 0 .1 -.2 .4 -.3 .5 -.5 .5zM401.2 188.1l-.1-.3 -.2-.5 -.2-.5 -.1-.5 -.3-.5 -.1-.2 -.2-.3 -.3-.5 -.3-.5 -.2-.3 -.1-.2 -.3-.5 -.1-.1 -.3-.4 -.2-.2 -.5-.3 -.5-.2 -.5-.1 -.5-.1 -.5 0 -.5 0 -.5 0 -.5 .2 -.5 .1 -.1 .1 -.4 .2 -.5 .2 -.1 .1 -.4 .2 -.5 .3 -.5 .3 -.5 .2 -.4-.5 .1-.5 .1-.5 .1-.5 .1-.2 .1-.3 .1-.5 .1-.5 0-.5 -.1-.5 -.1-.5 -.1-.5 0-.1 -.1-.4 0-.5 0-.5 0-.5 0-.5 0-.5 -.1-.5 0-.5 0-.5 0-.5 0-.5 0-.5 0-.5 .1-.5 0-.5 -.1-.5 -.1-.5 -.2-.4 0-.1 -.2-.5 -.1-.5 .1-.5 .2-.5 0-.1 .2-.4 .3-.5 .4-.5 .1-.2 .2-.3 .3-.3 .2-.2 .3-.4 .1-.1 .4-.5 .3-.5 .2-.3 .2-.2 .2-.5 .1-.1 .2-.4 .3-.5 .3-.5 .2-.2 .2-.3 .3-.4 .1-.1 .4-.5 0-.1 .3-.4 .2-.4 0-.1 .3-.5 .2-.4 .1-.1 .3-.5 .1-.2 .2-.3 .2-.5 .1-.1 .2-.4 .2-.5 .1-.1 .2-.4 .3-.5 .3-.5 .2-.2 .2-.3 .3-.3 .1-.2 .4-.4 .1-.1 .4-.4 .1-.1 .4-.3 .5 0 .5 .3 .5 .5 .3 .5 .2 .3 .1 .2 .3 .5 .1 .1 .3 .4 .2 .2 .3 .3 .2 .1 .5 .2 .5 .1 .4 .1 .1 0 .5 .1 .5 0 .5 .1 .5 0 .5-.1 .3-.1 .2-.1 .5-.2 .4-.2 .1 0 .5-.3 .3-.2 .2-.1 .5-.3 .1-.1 .4-.3 .4-.2 .1-.1 .5-.2 .2 .3 -.2 .5 0 .1 -.2 .4 -.1 .5 -.1 .5 -.1 .4 0 .1 -.1 .5 0 .5 0 .5 0 .5 0 .5 .1 .5 0 .1 0 .4 0 .5 .1 .5 0 .5 -.1 .5 0 .5 0 .3 0 .2 -.1 .5 0 .5 0 .5 -.1 .5 0 .5 .1 .5 0 .5 .1 .4 0 .1 .1 .5 .1 .5 .1 .5 .1 .5 0 .5 -.2 .5 -.2 .4 -.1 .1 -.3 .5 -.1 .2 -.2 .3 -.3 .5 -.4 .5 -.1 .1 -.3 .4 -.2 .3 -.1 .2 -.4 .5 -.3 .5 -.2 .4 0 .1 -.3 .5 -.2 .4 0 .1 -.3 .5 -.2 .3 -.1 .2 -.3 .5 -.1 .1 -.2 .4 -.3 .4 -.1 .1 -.4 .5 -.4 .5 -.1 .1 -.3 .4 -.2 .4 -.1 .1 -.2 .5 -.2 .5 0 .1 -.2 .4 -.2 .5 -.1 .3 -.1 .2 -.2 .5 -.2 .5 -.3 .5 -.2 .4 -.1 .1 -.3 .5 -.1 .1 -.3 .4 -.2 .3 -.1 .2 -.4 .5 0 .1 -.3 .4 -.2 .3 -.2 .2 -.2 .5 -.1 .2 -.3 .3zM387.7 188.0l-.3-.2 0-.5 .2-.5 .1-.3 .1-.2 .4-.5 0-.1 .5-.4 .5-.2 .1 .2 -.1 .5 0 .1 -.2 .4 -.2 .5 -.1 .2 -.3 .3 -.2 .3 -.3 .2zM401.2 209.9l-.5 0 -.3-.1 -.2-.1 -.4-.4 -.1-.2 -.2-.3 -.2-.5 -.1-.2 -.1-.3 -.2-.5 -.2-.5 -.2-.5 -.2-.5 -.1-.3 -.1-.2 -.2-.5 -.2-.5 0-.1 -.1-.4 -.2-.5 -.1-.5 -.1-.5 .1-.5 0-.5 .1-.5 .1-.5 .1-.5 .1-.5 0-.4 0-.1 0-.5 .1-.5 0-.5 .1-.5 .1-.5 .1-.5 .1-.3 .1-.2 .2-.5 .2-.4 .1-.1 .3-.5 .1-.2 .2-.3 .3-.5 0-.1 .2-.4 .2-.5 .1-.2 .1-.3 .3-.5 .1-.3 .5-.2 .3 .5 .2 .2 .2 .3 .3 .3 .1 .2 .4 .4 .1 .1 .3 .5 .1 .3 .1 .2 .1 .5 .2 .5 .1 .3 0 .2 .2 .5 .2 .5 .1 .2 .1 .3 .2 .5 .2 .5 0 .1 .1 .4 .2 .5 0 .5 .1 .5 0 .5 0 .5 -.1 .5 0 .5 -.1 .5 0 .5 0 .5 -.1 .5 0 .5 -.1 .5 0 .1 -.1 .4 -.1 .5 -.2 .5 -.1 .1 -.2 .4 -.2 .5 -.1 .3 -.1 .2 -.2 .5 -.2 .5 -.3 .5 -.2 .2 -.3 .3 -.2 .2 -.5 .3 -.1 0z" fill="none" stroke="#28a090" stroke-width="0.90" stroke-linejoin="round"/><path d="M401.7 57.0l-.5-.1 -.2-.1 -.3-.2 -.3-.3 -.2-.3 -.1-.2 -.3-.5 -.1-.1 -.2-.4 -.3-.4 -.1-.1 -.3-.5 -.1-.2 -.1-.3 -.2-.5 -.1-.5 0-.5 .2-.5 .1-.5 .1-.5 .2-.5 .2-.5 .1-.1 .3-.4 .2-.1 .5-.3 .5 0 .5 .1 .5 .2 .2 .1 .3 .2 .2 .3 .1 .5 0 .5 0 .5 .2 .5 .2 .5 .3 .5 0 .1 .1 .4 0 .5 0 .5 -.1 .5 -.1 .5 -.2 .5 -.1 .5 -.1 .2 -.2 .3 -.3 .4 -.1 .1zM402.2 100.0l-.5 .2 -.5 .1 -.5-.2 -.5-.2 -.1-.1 -.4-.3 -.3-.2 -.2-.1 -.4-.4 -.1 0 -.5-.4 -.1-.1 -.4-.3 -.3-.2 -.2-.1 -.4-.4 -.1-.2 -.2-.3 -.3-.4 -.1-.1 -.2-.5 -.2-.4 -.1-.1 -.2-.5 -.2-.4 0-.1 -.2-.5 -.2-.5 -.1-.2 -.1-.3 -.3-.5 -.1-.3 -.1-.2 -.1-.5 -.1-.5 -.1-.5 0-.5 0-.5 0-.5 0-.5 .1-.5 0-.5 .1-.5 0-.5 0-.5 .1-.5 .1-.5 0-.3 0-.2 .1-.5 .1-.5 0-.5 .1-.5 .2-.5 .2-.5 .2-.5 .1-.1 .2-.4 .3-.5 .5-.5 .5-.5 .5-.5 .5-.5 .4-.5 .1-.2 .3-.3 .2-.2 .3-.3 .2-.1 .5-.3 .3-.1 .2-.1 .5-.1 .5 0 .5 0 .5 .2 .1 0 .4 .2 .5 .3 .5 .4 .1 .1 .4 .4 .1 .1 .4 .4 .1 .1 .4 .5 .4 .5 .1 .1 .2 .4 .3 .5 .2 .5 .2 .5 .1 .1 .2 .4 .2 .5 .1 .4 0 .1 .2 .5 .3 .5 0 .1 .2 .4 .1 .5 .2 .5 0 .1 .1 .4 0 .5 0 .5 .1 .5 0 .5 .1 .5 .1 .5 0 .5 -.1 .5 -.1 .5 -.2 .5 -.2 .5 -.2 .5 -.1 .4 0 .1 -.1 .5 -.1 .5 -.1 .5 -.1 .5 -.1 .2 -.1 .3 -.2 .5 -.2 .5 -.3 .5 -.2 .2 -.3 .3 -.2 .2 -.3 .3 -.2 .2 -.3 .3 -.2 .2 -.3 .3 -.2 .2 -.3 .3 -.2 .3 -.2 .2 -.3 .3 -.2 .2 -.3 .3 -.3 .2zM401.2 134.8l-.5 .1 -.5 0 -.5-.1 -.1 0 -.4-.2 -.3-.3 -.2-.1 -.3-.4 -.2-.2 -.2-.3 -.3-.3 -.1-.2 -.4-.4 -.1-.1 -.4-.5 -.5-.5 -.4-.5 -.1-.1 -.3-.4 -.2-.3 -.1-.2 -.2-.5 -.2-.4 0-.1 -.2-.5 -.2-.5 -.1-.4 0-.1 -.2-.5 -.1-.5 -.1-.5 -.1-.5 0-.2 0-.3 -.1-.5 0-.5 0-.5 0-.5 .1-.5 .1-.5 .1-.5 .1-.5 .1-.5 .1-.4 0-.1 .1-.5 .2-.5 .1-.5 .1-.2 .1-.3 .3-.5 .1-.2 .2-.3 .3-.5 .4-.5 .1-.2 .2-.3 .3-.4 .1-.1 .4-.4 .1-.1 .4-.3 .3-.2 .2-.2 .4-.3 .1-.1 .5-.3 .1-.1 .4-.3 .4-.2 .1-.1 .5-.1 .5 0 .5 .1 .3 .1 .2 .1 .5 .2 .4 .2 .1 0 .5 .4 .1 .1 .4 .4 0 .1 .4 .5 .1 .1 .2 .4 .3 .4 .1 .1 .3 .5 .1 .2 .2 .3 .3 .5 .3 .5 .2 .4 0 .1 .3 .5 .2 .3 .1 .2 .2 .5 .2 .3 .1 .2 .2 .5 .1 .5 .1 .3 .1 .2 0 .5 .1 .5 0 .5 0 .5 0 .5 -.1 .5 -.1 .5 0 .1 -.1 .4 0 .5 -.1 .5 -.1 .5 0 .5 -.2 .5 0 .1 -.1 .4 -.3 .5 -.1 .3 -.1 .2 -.2 .5 -.2 .3 -.1 .2 -.3 .5 -.1 .1 -.3 .4 -.2 .3 -.2 .2 -.3 .4 -.1 .1 -.4 .4 -.1 .1 -.4 .4 -.1 .1 -.4 .3 -.3 .2 -.2 .1 -.5 .3 -.3 .1 -.2 .1 -.5 .2 -.5 .2zM402.2 184.5l-.5 .3 -.5-.1 -.5-.4 -.4-.5 -.1-.1 -.2-.4 -.3-.4 0-.1 -.4-.5 -.1-.2 -.4-.3 -.1-.1 -.5-.2 -.5-.1 -.5-.1 -.1 0 -.4 0 -.5-.1 -.5 0 -.5 0 -.5 0 -.3 .1 -.2 0 -.5 .1 -.5 .1 -.5 .1 -.5-.2 -.1-.1 -.2-.5 -.1-.5 -.1-.3 0-.2 -.1-.5 -.1-.5 -.1-.5 -.2-.5 0-.4 0-.1 0-.5 0-.5 0-.5 -.1-.5 0-.5 0-.5 0-.5 0-.5 0-.5 .1-.5 0-.2 0-.3 .1-.5 0-.5 0-.5 -.1-.5 0-.1 -.1-.4 -.1-.5 0-.5 0-.5 .2-.5 0-.1 .2-.4 .3-.5 .4-.5 .1-.2 .3-.3 .2-.3 .2-.2 .3-.4 .1-.1 .3-.5 .1-.1 .2-.4 .3-.4 .1-.1 .3-.5 .1-.3 .2-.2 .3-.5 .3-.5 .2-.2 .2-.3 .3-.4 0-.1 .4-.5 .1-.2 .2-.3 .3-.5 0-.1 .3-.4 .2-.3 .1-.2 .4-.5 .3-.5 .2-.5 .2-.5 .3-.5 .3-.5 .2-.3 .2-.2 .3-.4 .1-.1 .4-.3 .4-.2 .1 0 .5 0 .5 .3 .1 .2 .4 .5 .4 .5 .1 .2 .3 .3 .2 .1 .5 .3 .2 .1 .3 .1 .5 .1 .5 0 .5 .1 .5 0 .5 0 .5 0 .5 0 .5 0 .5-.1 .5-.2 .5-.1 .5-.1 .5 0 .3 .2 .2 .3 .1 .2 .1 .5 0 .5 .1 .5 0 .5 .1 .5 0 .5 .1 .5 0 .5 0 .5 0 .4 0 .1 0 .5 -.1 .5 0 .5 -.1 .5 0 .5 0 .5 0 .5 0 .5 0 .5 .1 .5 0 .5 .1 .4 0 .1 .1 .5 0 .5 -.1 .5 -.2 .5 -.2 .5 -.1 .1 -.3 .4 -.2 .3 -.1 .2 -.3 .5 -.1 .1 -.3 .4 -.2 .3 -.2 .2 -.3 .4 0 .1 -.4 .5 -.1 .2 -.2 .3 -.2 .5 -.1 .1 -.2 .4 -.3 .5 0 .1 -.2 .4 -.3 .4 0 .1 -.3 .5 -.2 .2 -.2 .3 -.3 .4 -.1 .1 -.4 .4 -.1 .1 -.4 .5 -.3 .5 -.2 .5 -.2 .5 -.2 .5 -.1 .3 -.1 .2 -.3 .5 -.1 .3 -.1 .2 -.3 .5 -.1 .1 -.2 .4 -.3 .4 -.1 .1 -.3 .5 -.1 .1 -.3 .4zM401.2 208.3l-.1 0 -.4-.1 -.3-.4 -.2-.2 -.1-.3 -.2-.5 -.2-.4 0-.1 -.2-.5 -.1-.5 -.2-.5 -.2-.5 -.2-.5 -.1-.2 -.1-.3 -.2-.5 -.2-.5 0-.5 .1-.5 .1-.5 0-.5 .1-.5 0-.5 0-.5 .1-.5 0-.5 .1-.5 .2-.5 .2-.5 .1-.3 .1-.2 .3-.5 .1-.1 .3-.4 .2-.2 .3-.3 .2-.2 .4-.3 .1-.1 .5 .1 .1 0 .4 .4 .1 .1 .2 .5 .2 .3 .1 .2 .2 .5 .2 .4 0 .1 .2 .5 .3 .5 .2 .5 .2 .5 .1 .5 0 .3 0 .2 0 .5 0 .2 0 .3 -.1 .5 -.1 .5 0 .5 -.1 .5 0 .5 -.1 .5 0 .5 -.1 .4 0 .1 -.2 .5 -.2 .5 -.1 .1 -.3 .4 -.2 .4 -.1 .1 -.2 .5 -.2 .4 -.1 .1 -.2 .5 -.2 .2 -.5 .3z" fill="none" stroke="#30b088" stroke-width="0.90" stroke-linejoin="round"/><path d="M401.7 98.0l-.5 .1 -.5 0 -.5-.1 -.4-.2 -.1-.1 -.5-.3 -.2-.1 -.3-.2 -.5-.3 -.5-.4 0-.1 -.4-.5 -.1-.1 -.2-.4 -.3-.5 -.2-.5 -.2-.5 -.1-.3 -.1-.2 -.2-.5 -.2-.5 -.3-.5 -.2-.3 -.1-.2 -.2-.5 -.1-.5 0-.5 0-.5 .2-.5 .1-.5 .1-.5 .1-.5 0-.5 0-.5 .1-.5 .1-.5 0-.5 .1-.5 .1-.5 0-.1 .1-.4 .1-.5 .1-.5 .1-.5 .1-.3 .1-.2 .2-.5 .2-.3 .2-.2 .3-.3 .2-.2 .3-.3 .3-.2 .2-.2 .3-.3 .2-.2 .3-.3 .2-.2 .4-.3 .1-.1 .5-.3 .5-.1 .5 0 .5 .2 .5 .2 .1 .1 .4 .2 .5 .2 .1 .1 .4 .2 .4 .3 .1 .1 .4 .4 .1 .1 .2 .4 .3 .5 .2 .5 .3 .5 0 .1 .2 .4 .2 .5 .1 .3 .1 .2 .2 .5 .2 .5 0 .1 .2 .4 .1 .5 .2 .5 0 .3 0 .2 .1 .5 0 .5 0 .5 0 .5 0 .5 0 .5 -.1 .5 -.1 .5 -.2 .5 -.1 .5 -.1 .3 0 .2 -.2 .5 -.1 .5 -.1 .5 -.1 .5 0 .1 -.1 .4 -.2 .5 -.2 .4 -.1 .1 -.4 .5 -.5 .5 -.5 .4 -.2 .1 -.3 .2 -.3 .3 -.2 .2 -.4 .3 -.1 .1 -.5 .4 -.1 0zM401.7 133.3l-.5 .2 -.5 0 -.5-.1 -.2-.1 -.3-.2 -.4-.3 -.1-.1 -.3-.4 -.2-.3 -.2-.2 -.3-.5 -.4-.5 -.1-.1 -.4-.4 -.1-.1 -.5-.3 -.1-.1 -.4-.3 -.1-.2 -.4-.5 -.2-.5 -.2-.5 -.1-.4 0-.1 -.1-.5 -.1-.5 -.1-.5 -.1-.5 0-.5 0-.5 -.1-.5 .1-.5 0-.5 .1-.5 .1-.5 .1-.5 .1-.2 .1-.3 .1-.5 .1-.5 0-.5 .2-.5 0-.1 .1-.4 .3-.5 .1-.2 .2-.3 .3-.3 .1-.2 .4-.4 .2-.1 .3-.3 .4-.2 .1-.1 .5-.3 .1-.1 .4-.3 .2-.2 .3-.3 .3-.2 .2-.2 .5-.2 .5-.1 .5 .1 .5 .2 .4 .2 .1 .1 .5 .4 .4 .5 .1 .1 .3 .4 .2 .2 .2 .3 .3 .4 .1 .1 .3 .5 .1 .1 .3 .4 .2 .5 .3 .5 .2 .4 0 .1 .3 .5 .2 .4 0 .1 .2 .5 .2 .5 .1 .4 0 .1 .1 .5 .1 .5 0 .5 -.1 .5 0 .5 -.1 .4 0 .1 -.1 .5 -.1 .5 -.1 .5 -.1 .5 -.1 .2 -.1 .3 -.2 .5 -.2 .5 0 .1 -.2 .4 -.2 .5 -.1 .2 -.2 .3 -.3 .4 -.1 .1 -.4 .5 -.4 .5 -.1 .1 -.3 .4 -.2 .2 -.3 .3 -.2 .2 -.3 .3 -.2 .1 -.5 .3 -.4 .1zM401.7 182.5l-.5-.1 -.1-.1 -.4-.3 -.2-.2 -.3-.2 -.3-.3 -.2-.2 -.5-.2 -.2-.1 -.3-.1 -.5-.1 -.5 0 -.5 0 -.5 0 -.5-.1 -.5 0 -.5 0 -.5 0 -.5 .1 -.5-.1 -.5-.1 -.2-.1 -.3-.3 -.1-.2 -.2-.5 -.2-.5 -.2-.5 -.1-.5 -.1-.5 -.1-.5 0-.5 0-.5 0-.5 0-.5 -.1-.5 0-.5 .1-.5 0-.5 .1-.5 .1-.5 0-.5 .1-.5 0-.5 0-.5 -.1-.5 0-.5 0-.5 0-.5 .2-.5 .1-.2 .2-.3 .3-.5 .3-.5 .2-.2 .2-.3 .3-.4 .1-.1 .4-.5 0-.1 .3-.4 .2-.3 .1-.2 .4-.5 0-.1 .3-.4 .2-.4 .1-.1 .3-.5 .1-.2 .2-.3 .3-.4 .1-.1 .3-.5 .1-.2 .2-.3 .3-.5 .4-.5 .1-.1 .3-.4 .2-.3 .2-.2 .3-.5 .3-.5 .2-.4 0-.1 .3-.5 .2-.2 .2-.3 .3-.3 .5-.2 .1 0 .4 .1 .5 .4 .5 .5 .5 .4 .2 .1 .3 .2 .5 .1 .5 .1 .5 0 .5 0 .5 0 .5 0 .5 .1 .5 0 .5 0 .5-.1 .5 0 .5 0 .5 0 .3 .1 .2 .1 .3 .4 .2 .5 .1 .5 .1 .5 .1 .5 .1 .5 0 .5 0 .5 0 .5 0 .5 0 .5 -.1 .5 0 .5 0 .5 -.1 .5 0 .5 0 .5 .1 .5 0 .5 0 .5 0 .5 0 .5 0 .5 -.1 .5 -.2 .4 0 .1 -.3 .5 -.2 .3 -.1 .2 -.3 .5 -.1 .1 -.2 .4 -.3 .4 -.1 .1 -.4 .5 -.3 .5 -.2 .3 -.2 .2 -.3 .5 0 .1 -.2 .4 -.3 .5 -.3 .5 -.2 .4 -.1 .1 -.2 .5 -.2 .2 -.2 .3 -.3 .4 -.1 .1 -.4 .4 -.1 .1 -.4 .5 -.4 .5 -.1 .2 -.1 .3 -.3 .5 -.1 .3 -.1 .2 -.2 .5 -.2 .3 -.2 .2 -.3 .4 -.1 .1 -.4 .5 -.5 .4 -.2 .1zM401.7 203.9l-.5 .1 -.1-.2 -.3-.5 -.1-.1 -.2-.4 -.3-.5 -.2-.5 -.1-.5 -.1-.5 -.1-.5 0-.2 0-.3 -.1-.5 0-.5 0-.5 .1-.3 .1-.2 .2-.5 .2-.2 .4-.3 .1-.1 .5-.1 .3 .2 .2 .1 .4 .4 .1 .2 .2 .3 .3 .5 .2 .5 0 .5 0 .5 -.2 .5 0 .1 -.2 .4 -.1 .5 -.2 .5 0 .2 -.1 .3 -.1 .5 -.1 .5 -.1 .5z" fill="none" stroke="#40c070" stroke-width="0.90" stroke-linejoin="round"/><path d="M401.2 95.9l-.5-.1 -.1 0 -.4-.2 -.5-.3 -.5-.3 -.2-.2 -.3-.3 -.2-.2 -.3-.3 -.2-.2 -.2-.5 -.1-.2 -.1-.3 -.1-.5 -.1-.5 -.2-.5 -.2-.5 -.2-.5 0-.5 0-.5 0-.5 0-.5 0-.5 -.1-.5 0-.2 0-.3 -.1-.5 .1-.5 0-.1 .1-.4 .1-.5 .3-.5 0-.1 .3-.4 .2-.4 .1-.1 .2-.5 .1-.5 .1-.3 .1-.2 .1-.5 .3-.4 .1-.1 .4-.3 .4-.2 .1-.1 .5-.1 .5 0 .5 0 .5 .2 .2 0 .3 .1 .5 .1 .5 .1 .3 .2 .2 .1 .4 .4 .1 .1 .3 .4 .2 .3 .1 .2 .2 .5 .2 .4 0 .1 .2 .5 .1 .5 .1 .5 .1 .2 .1 .3 .1 .5 .1 .5 0 .5 -.1 .5 -.1 .5 -.1 .5 -.2 .5 -.2 .5 -.1 .3 -.1 .2 -.3 .5 -.1 .3 -.1 .2 -.1 .5 0 .5 -.1 .5 0 .5 -.2 .5 -.2 .5 -.3 .4 -.1 .1 -.4 .4 -.1 .1 -.4 .3 -.2 .2 -.3 .2 -.5 .3zM401.7 132.1l-.5 .1 -.5-.2 -.3-.2 -.2-.2 -.2-.3 -.3-.5 0-.1 -.3-.4 -.2-.3 -.2-.2 -.3-.3 -.2-.2 -.3-.2 -.4-.3 -.1-.1 -.3-.4 -.2-.3 -.1-.2 -.2-.5 0-.5 0-.5 0-.5 -.1-.5 0-.5 -.1-.4 0-.1 -.1-.5 0-.5 0-.5 .1-.3 0-.2 .2-.5 .1-.5 .1-.5 .1-.5 0-.3 0-.2 .1-.5 .2-.5 .2-.5 .5-.5 .5-.4 .2-.1 .3-.1 .5-.3 .4-.1 .1-.1 .5-.1 .5-.2 .5-.1 .5 .1 .5 .1 .5 .3 .5 .4 .1 .1 .4 .4 .1 .1 .3 .5 .1 .2 .1 .3 .3 .5 .1 .3 .1 .2 .2 .5 .2 .5 0 .1 .1 .4 0 .5 0 .5 0 .5 .1 .5 0 .5 .1 .5 0 .5 -.1 .5 -.1 .5 -.1 .2 -.1 .3 -.3 .5 -.1 .3 -.1 .2 -.2 .5 -.2 .4 -.1 .1 -.3 .5 -.1 .1 -.4 .4 -.1 .1 -.3 .4 -.2 .3 -.1 .2 -.3 .5 -.1 .2 -.1 .3 -.4 .5zM401.7 180.8l-.1 0 -.4 0 -.5-.3 -.4-.2 -.1-.1 -.5-.2 -.5-.1 -.5-.1 -.3 0 -.2 0 -.3 0 -.2 0 -.5 0 -.5 0 -.5 0 -.5 0 -.5 0 -.5 0 -.5-.1 -.5-.2 -.2-.2 -.3-.3 -.1-.2 -.3-.5 -.1-.3 -.1-.2 -.1-.5 -.1-.5 -.1-.5 -.1-.5 0-.5 0-.5 -.1-.5 0-.5 .1-.5 0-.2 0-.3 .1-.5 .1-.5 .1-.5 .1-.5 0-.5 0-.5 0-.5 0-.5 .1-.5 0-.2 .1-.3 .2-.5 .2-.4 0-.1 .4-.5 .1-.2 .2-.3 .3-.4 .1-.1 .3-.5 .1-.1 .3-.4 .2-.3 .1-.2 .4-.5 .3-.5 .2-.3 .1-.2 .3-.5 .1-.1 .2-.4 .3-.4 .1-.1 .3-.5 .1-.2 .2-.3 .3-.5 .4-.5 .1-.1 .3-.4 .2-.2 .3-.3 .2-.3 .2-.2 .3-.5 .4-.5 .1-.1 .5-.3 .5 0 .5 .2 .3 .2 .2 .1 .5 .3 .3 .1 .2 0 .5 .1 .5 0 .5 0 .5 0 .5 0 .5 0 .5 0 .5 0 .5 .1 .5 0 .5 .1 .5 .1 .1 .1 .4 .3 .1 .2 .3 .5 .1 .3 .1 .2 .1 .5 .1 .5 0 .5 .1 .5 0 .5 -.1 .5 0 .5 0 .5 -.1 .5 0 .5 0 .5 0 .5 0 .5 0 .5 0 .5 -.1 .5 0 .5 -.1 .5 0 .1 -.1 .4 -.2 .5 -.2 .4 -.1 .1 -.2 .5 -.2 .2 -.2 .3 -.3 .5 -.3 .5 -.2 .2 -.2 .3 -.3 .4 -.1 .1 -.3 .5 -.1 .2 -.2 .3 -.3 .5 0 .1 -.3 .4 -.2 .4 0 .1 -.3 .5 -.2 .3 -.2 .2 -.3 .4 -.1 .1 -.4 .5 -.5 .5 -.4 .5 -.1 .2 -.2 .3 -.3 .5 -.3 .5 -.2 .4 -.1 .1 -.4 .4 -.1 .1 -.4 .3 -.5 .2z" fill="none" stroke="#58d058" stroke-width="0.90" stroke-linejoin="round"/><path d="M401.2 91.0l-.5-.1 -.1-.1 -.4-.2 -.2-.3 -.3-.5 -.3-.5 -.2-.5 -.3-.5 -.2-.3 -.1-.2 -.3-.5 -.1-.4 0-.1 -.1-.5 0-.5 .1-.2 .1-.3 .3-.5 .1-.1 .4-.4 .1-.2 .4-.3 .1-.1 .5-.4 .5-.2 .5-.2 .5 .1 .5 .2 .2 .1 .3 .2 .3 .3 .2 .3 .1 .2 .3 .5 .1 .1 .2 .4 .3 .5 .1 .5 .1 .5 -.1 .5 -.1 .1 -.2 .4 -.3 .5 0 .1 -.3 .4 -.2 .3 -.2 .2 -.3 .4 -.1 .1 -.4 .5 -.5 .4 -.2 .1zM400.7 127.9l-.5 0 -.3-.1 -.2 0 -.5-.4 -.1-.1 -.2-.5 -.2-.5 0-.1 -.1-.4 -.1-.5 0-.5 0-.5 0-.5 .1-.5 .1-.4 0-.1 .2-.5 .1-.5 0-.5 .2-.5 0-.2 .1-.3 .2-.5 .2-.4 .1-.1 .4-.5 .5-.2 .5-.1 .5 0 .5 .1 .5 .2 .5 .5 .2 .5 .2 .5 .1 .5 0 .5 -.1 .5 -.1 .5 0 .5 .2 .5 .3 .5 .2 .5 .1 .5 -.1 .3 -.1 .2 -.3 .5 -.1 .2 -.3 .3 -.2 .2 -.3 .3 -.2 .2 -.4 .3 -.1 .1 -.5 .2 -.5 .2zM401.7 179.5l-.5 0 -.5-.1 -.2-.1 -.3-.1 -.5-.1 -.5 0 -.5-.1 -.5 0 -.5 .1 -.5 0 -.5 0 -.5 0 -.5 0 -.5-.1 -.5-.1 -.2-.1 -.3-.1 -.4-.4 -.1-.1 -.2-.4 -.3-.5 -.2-.5 -.1-.5 -.1-.5 -.1-.5 0-.3 0-.2 -.1-.5 .1-.5 0-.5 0-.1 .1-.4 .1-.5 .1-.5 .1-.5 0-.5 .1-.5 0-.2 0-.3 .1-.5 0-.5 .1-.5 .1-.5 .2-.4 .1-.1 .2-.5 .2-.2 .2-.3 .3-.5 .4-.5 .1-.2 .2-.3 .3-.4 .1-.1 .3-.5 .1-.1 .2-.4 .3-.4 0-.1 .3-.5 .2-.2 .2-.3 .3-.5 .3-.5 .2-.3 .2-.2 .3-.5 .4-.5 .1-.1 .4-.4 .1-.1 .4-.4 .1-.1 .4-.4 .1-.1 .5-.4 .2 0 .3-.1 .3 .1 .2 0 .5 .2 .5 .1 .5 0 .5 0 .5-.1 .5 0 .5 0 .5 0 .5 0 .5 0 .5 .1 .5 .1 .5 .1 .5 .3 .3 .2 .2 .2 .2 .3 .2 .5 .1 .2 .1 .3 .1 .5 .1 .5 0 .5 0 .5 0 .5 -.1 .5 0 .5 0 .5 0 .5 0 .5 0 .5 -.1 .5 0 .5 -.1 .4 0 .1 -.1 .5 -.1 .5 -.1 .5 -.2 .4 0 .1 -.3 .5 -.2 .4 0 .1 -.3 .5 -.2 .2 -.2 .3 -.3 .4 0 .1 -.4 .5 -.1 .2 -.2 .3 -.3 .4 0 .1 -.4 .5 -.1 .2 -.2 .3 -.3 .5 -.3 .5 -.2 .3 -.1 .2 -.4 .5 -.5 .5 -.4 .5 -.1 .1 -.3 .4 -.2 .2 -.2 .3 -.3 .4 -.1 .1 -.4 .5 -.5 .5 -.1 0z" fill="none" stroke="#78e048" stroke-width="0.90" stroke-linejoin="round"/><path d="M401.7 178.4l-.5 .1 -.5-.1 -.5 0 -.5-.1 -.5 0 -.5 0 -.5 .1 -.5 0 -.5 0 -.5 0 -.5-.1 -.4 0 -.1 0 -.5-.1 -.5-.3 -.2-.1 -.3-.3 -.1-.2 -.3-.5 -.1-.2 -.1-.3 -.2-.5 -.1-.5 -.1-.5 0-.1 0-.4 0-.5 0-.5 0-.1 .1-.4 .1-.5 .1-.5 .1-.5 0-.5 .1-.4 0-.1 .1-.5 0-.5 .1-.5 .1-.5 .2-.5 .3-.5 .2-.4 .1-.1 .3-.5 .1-.2 .2-.3 .3-.4 .1-.1 .3-.5 .1-.1 .2-.4 .3-.4 .1-.1 .3-.5 .1-.2 .2-.3 .3-.5 .4-.5 .1-.2 .2-.3 .3-.4 .1-.1 .3-.5 .1-.1 .4-.4 .1-.1 .4-.4 .1-.1 .5-.3 .1-.1 .4-.2 .5-.2 .5 0 .5 0 .5 0 .5-.1 .2 0 .3 0 .5-.1 .5-.1 .5 0 .5 0 .5 0 .5 .1 .5 .1 .2 0 .3 .1 .5 .3 .1 .1 .4 .4 .1 .1 .3 .5 .1 .4 0 .1 .1 .5 .1 .5 0 .5 0 .5 0 .5 0 .5 0 .5 0 .5 0 .5 -.1 .5 0 .5 -.1 .4 0 .1 -.1 .5 -.1 .5 -.1 .5 -.2 .5 -.2 .5 -.2 .5 -.1 .1 -.2 .4 -.3 .5 -.3 .5 -.2 .2 -.2 .3 -.3 .5 -.3 .5 -.2 .2 -.2 .3 -.3 .5 -.3 .5 -.2 .2 -.2 .3 -.3 .4 -.1 .1 -.3 .5 -.1 .1 -.4 .4 -.1 .1 -.3 .4 -.2 .2 -.3 .3 -.2 .3 -.2 .2 -.3 .4 -.1 .1 -.4 .3 -.3 .2z" fill="none" stroke="#a8e850" stroke-width="0.90" stroke-linejoin="round"/><path d="M401.7 177.4l-.5 .2 -.5 0 -.5 0 -.5 0 -.5 .1 -.5 0 -.5 0 -.5 0 -.5 0 -.5 0 -.5-.1 -.5-.1 -.5-.2 -.5-.4 -.1-.1 -.3-.5 -.1-.2 -.1-.3 -.2-.5 -.1-.5 -.1-.5 0-.5 0-.4 0-.1 .1-.5 .1-.5 .1-.5 .1-.5 0-.5 .1-.3 0-.2 .1-.5 .1-.5 .1-.5 .1-.5 .1-.1 .1-.4 .3-.5 .1-.2 .2-.3 .3-.5 .4-.5 .1-.2 .2-.3 .3-.4 0-.1 .4-.5 .1-.2 .2-.3 .3-.5 .3-.5 .2-.2 .2-.3 .3-.4 .1-.1 .4-.5 0-.1 .4-.4 .1-.1 .4-.4 .1-.1 .5-.4 .5-.3 .5-.1 .5-.1 .1 0 .4-.1 .5 0 .5-.2 .5-.1 .5-.1 .5-.1 .5 0 .5 0 .5 0 .4 .1 .1 0 .5 .2 .5 .3 .5 .5 .3 .5 .2 .5 0 .1 .1 .4 0 .5 .1 .5 0 .5 0 .5 0 .5 0 .5 -.1 .5 0 .5 -.1 .5 0 .2 -.1 .3 -.1 .5 -.1 .5 -.1 .5 -.1 .2 -.1 .3 -.2 .5 -.2 .4 0 .1 -.3 .5 -.2 .3 -.1 .2 -.4 .5 -.3 .5 -.2 .3 -.1 .2 -.4 .5 0 .1 -.3 .4 -.2 .3 -.1 .2 -.4 .5 -.4 .5 -.1 .1 -.3 .4 -.2 .3 -.2 .2 -.3 .3 -.2 .2 -.3 .3 -.2 .2 -.3 .3 -.2 .2 -.3 .3 -.3 .2z" fill="none" stroke="#d8e850" stroke-width="0.90" stroke-linejoin="round"/><path d="M400.7 176.8l-.5 .1 -.5 .1 -.5 0 -.5 .1 -.5 0 -.5 0 -.5 0 -.5-.1 -.5-.1 -.3-.1 -.2-.1 -.5-.4 -.4-.5 -.1-.2 -.1-.3 -.2-.5 -.1-.5 -.1-.5 0-.5 .1-.5 .1-.5 .1-.5 0-.5 .1-.5 .1-.4 0-.1 .1-.5 .1-.5 .2-.5 .1-.4 0-.1 .2-.5 .3-.5 .3-.5 .2-.3 .1-.2 .4-.5 0-.1 .3-.4 .2-.3 .1-.2 .3-.5 .1-.1 .3-.4 .2-.3 .1-.2 .4-.5 .4-.5 .1-.1 .3-.4 .2-.2 .3-.3 .2-.2 .4-.3 .1-.1 .5-.3 .3-.1 .2-.1 .5-.1 .5-.1 .5-.1 .2-.1 .3-.1 .5-.1 .5-.2 .5 0 .5-.1 .5 .1 .5 0 .5 .2 .4 .2 .1 0 .5 .5 .3 .5 .1 .5 .1 .2 .1 .3 0 .5 0 .5 .1 .5 -.1 .5 0 .5 0 .5 0 .5 -.1 .5 -.1 .5 -.1 .5 -.1 .5 -.2 .5 -.2 .5 -.2 .5 -.1 .3 -.1 .2 -.3 .5 -.1 .1 -.2 .4 -.3 .4 0 .1 -.4 .5 -.1 .2 -.2 .3 -.3 .4 0 .1 -.4 .5 -.1 .1 -.3 .4 -.2 .3 -.2 .2 -.3 .4 -.1 .1 -.4 .5 -.5 .5 -.5 .5 -.1 0 -.4 .4 -.2 .1 -.3 .2 -.5 .2 -.3 .1z" fill="none" stroke="#f0d840" stroke-width="0.90" stroke-linejoin="round"/><path d="M399.7 176.3l-.5 .1 -.5 .1 -.5 0 -.5 0 -.5 0 -.5-.1 -.2-.1 -.3-.1 -.5-.4 -.4-.5 -.1-.2 -.1-.3 -.2-.5 -.1-.5 0-.5 0-.5 .1-.5 .1-.5 0-.5 .1-.5 .1-.4 0-.1 .1-.5 .1-.5 .2-.5 .1-.3 .1-.2 .2-.5 .2-.4 .1-.1 .3-.5 .1-.2 .2-.3 .3-.5 .3-.5 .2-.2 .2-.3 .3-.5 .4-.5 .1-.2 .3-.3 .2-.3 .2-.2 .3-.3 .1-.2 .4-.4 .2-.1 .3-.3 .3-.2 .2-.1 .5-.3 .5-.1 .5-.1 .5-.2 .5-.1 .3-.1 .2-.1 .5-.1 .5-.1 .5 0 .5 .1 .5 .1 .2 .1 .3 .2 .4 .3 .1 .1 .2 .4 .2 .5 .1 .4 0 .1 .1 .5 0 .5 0 .5 0 .5 0 .5 0 .5 -.1 .4 0 .1 -.1 .5 -.1 .5 -.2 .5 -.1 .5 -.2 .5 -.2 .5 -.1 .2 -.2 .3 -.3 .5 0 .1 -.3 .4 -.2 .3 -.1 .2 -.3 .5 -.1 .1 -.3 .4 -.2 .3 -.1 .2 -.4 .5 -.4 .5 -.1 .1 -.3 .4 -.2 .2 -.2 .3 -.3 .3 -.2 .2 -.3 .2 -.4 .3 -.1 .1 -.5 .3 -.1 .1 -.4 .2 -.5 .1 -.5 .1 -.3 .1z" fill="none" stroke="#f0c030" stroke-width="0.90" stroke-linejoin="round"/><path d="M399.2 175.8l-.5 .1 -.5 0 -.5 0 -.5-.1 -.5-.2 -.4-.3 -.1-.1 -.3-.4 -.2-.3 -.1-.2 -.1-.5 -.1-.5 0-.5 0-.5 .1-.5 0-.5 .1-.5 .1-.5 .1-.5 .2-.5 .1-.5 .1-.2 .1-.3 .2-.5 .2-.3 .1-.2 .3-.5 .1-.1 .2-.4 .3-.4 .1-.1 .3-.5 .1-.2 .2-.3 .3-.3 .1-.2 .4-.5 .5-.5 .4-.5 .1-.1 .5-.4 .5-.4 .2-.1 .3-.1 .5-.2 .5-.2 .1 0 .4-.1 .5-.2 .5-.1 .5-.1 .5 0 .5 0 .1 0 .4 .1 .5 .2 .2 .2 .3 .3 .1 .2 .2 .5 .1 .5 .1 .5 0 .5 .1 .5 0 .5 -.1 .5 0 .2 0 .3 -.1 .5 -.1 .5 -.2 .5 -.1 .4 0 .1 -.2 .5 -.2 .5 -.1 .2 -.2 .3 -.3 .5 -.3 .5 -.2 .3 -.2 .2 -.3 .5 -.4 .5 -.1 .2 -.2 .3 -.3 .4 -.1 .1 -.4 .5 -.4 .5 -.1 .1 -.4 .4 -.1 .1 -.5 .3 -.1 .1 -.4 .3 -.5 .2 -.5 .2 -.5 .1 -.5 .1 -.4 .1z" fill="none" stroke="#f0a828" stroke-width="0.90" stroke-linejoin="round"/><path d="M400.7 174.9l-.5 .1 -.5 .1 -.5 .1 -.5 .1 -.5 0 -.5-.1 -.5-.2 -.3-.2 -.2-.2 -.2-.3 -.3-.5 -.1-.5 -.1-.5 0-.5 0-.5 0-.5 .1-.5 .1-.5 .1-.5 .2-.5 .1-.5 .1-.2 .1-.3 .3-.5 .1-.2 .1-.3 .3-.5 .1-.1 .3-.4 .2-.4 .1-.1 .3-.5 .1-.1 .3-.4 .2-.2 .3-.3 .2-.3 .2-.2 .3-.3 .2-.2 .3-.2 .3-.3 .2-.1 .5-.3 .1-.1 .4-.2 .5-.1 .5-.2 .1 0 .4-.1 .5-.1 .5-.1 .5 0 .5 .1 .4 .2 .1 0 .5 .5 0 .1 .2 .4 .1 .5 .1 .5 .1 .5 0 .5 0 .1 0 .4 -.1 .5 0 .5 -.1 .5 -.2 .5 -.1 .5 -.2 .5 -.2 .5 -.1 .1 -.2 .4 -.3 .5 -.4 .5 -.1 .2 -.2 .3 -.3 .4 -.1 .1 -.3 .5 -.1 .1 -.3 .4 -.2 .2 -.2 .3 -.3 .3 -.1 .2 -.4 .4 -.1 .1 -.4 .3 -.3 .2 -.2 .1 -.5 .3 -.3 .1z" fill="none" stroke="#e89030" stroke-width="0.90" stroke-linejoin="round"/><path d="M400.2 174.4l-.5 .1 -.5 .1 -.5 0 -.5-.1 -.5-.2 -.5-.4 -.1-.1 -.2-.5 -.2-.5 -.1-.5 0-.5 0-.5 0-.5 .1-.3 0-.2 .1-.5 .2-.5 .1-.5 .1-.2 .1-.3 .3-.5 .1-.2 .2-.3 .3-.5 .3-.5 .2-.3 .1-.2 .4-.5 .5-.5 .4-.5 .1-.1 .5-.4 .5-.4 .2-.1 .3-.2 .5-.3 .1 0 .4-.2 .5-.1 .5-.1 .5-.1 .3 0 .2 0 .5 .1 .5 .2 .2 .2 .3 .5 .2 .5 .1 .5 .1 .5 0 .5 0 .5 -.1 .5 0 .5 -.2 .5 -.1 .5 -.2 .5 -.2 .5 -.1 .1 -.2 .4 -.3 .4 -.1 .1 -.3 .5 -.1 .1 -.3 .4 -.2 .3 -.2 .2 -.3 .4 0 .1 -.5 .5 0 .1 -.4 .4 -.1 .1 -.4 .4 -.1 .1 -.5 .4 -.5 .3 -.5 .2 -.1 0z" fill="none" stroke="#e87820" stroke-width="0.90" stroke-linejoin="round"/><path d="M399.7 173.8l-.5 .1 -.4-.1 -.1 0 -.5-.2 -.3-.3 -.2-.2 -.1-.3 -.2-.5 -.1-.5 -.1-.5 0-.5 .1-.5 .1-.5 .1-.5 .2-.5 0-.1 .2-.4 .2-.5 .1-.1 .2-.4 .3-.5 .4-.5 .1-.2 .2-.3 .3-.3 .2-.2 .3-.4 .2-.1 .3-.3 .3-.2 .2-.2 .5-.3 .5-.2 .5-.2 .2-.1 .3-.1 .5-.1 .5 0 .5 .1 .2 .1 .3 .2 .3 .3 .2 .3 .1 .2 .1 .5 .1 .5 0 .5 0 .5 -.1 .5 -.1 .5 -.1 .4 0 .1 -.2 .5 -.3 .5 -.3 .5 -.2 .3 -.1 .2 -.4 .5 -.3 .5 -.2 .2 -.3 .3 -.2 .3 -.2 .2 -.3 .3 -.2 .2 -.3 .3 -.2 .2 -.3 .3 -.4 .2 -.1 .1 -.5 .2 -.5 .2 -.2 0z" fill="none" stroke="#d85820" stroke-width="0.90" stroke-linejoin="round"/><path d="M400.7 172.9l-.5 .1 -.5 .1 -.5-.1 -.5-.2 -.4-.5 -.1-.1 -.2-.4 -.1-.5 0-.5 0-.5 .1-.5 .1-.5 .1-.4 0-.1 .2-.5 .3-.5 .3-.5 .2-.3 .1-.2 .3-.5 .1-.1 .4-.4 .1-.1 .4-.4 .1-.1 .5-.4 .5-.3 .5-.2 .5-.2 .5-.1 .5 0 .5 0 .5 .3 .4 .5 .1 .2 .1 .3 .1 .5 0 .5 -.1 .5 -.1 .5 0 .1 -.1 .4 -.2 .5 -.2 .4 0 .1 -.3 .5 -.2 .2 -.2 .3 -.3 .4 0 .1 -.5 .5 -.4 .5 -.1 .1 -.5 .4 -.5 .4 -.1 .1 -.4 .3 -.4 .2z" fill="none" stroke="#c82828" stroke-width="0.90" stroke-linejoin="round"/><path d="M400.7 172.0l-.5 .1 -.5 0 -.5-.2 -.1-.1 -.3-.5 -.1-.2 -.1-.3 0-.5 0-.5 .1-.5 .2-.5 .2-.5 .1-.3 .1-.2 .3-.5 .1-.1 .2-.4 .3-.3 .1-.2 .4-.4 .2-.1 .3-.3 .4-.2 .1-.1 .5-.2 .5-.1 .5-.1 .5 .1 .5 .3 .1 .1 .2 .5 .1 .5 0 .5 0 .5 -.1 .5 -.2 .5 -.1 .2 -.1 .3 -.3 .5 -.1 .1 -.3 .4 -.2 .3 -.2 .2 -.3 .3 -.2 .2 -.3 .2 -.3 .3 -.2 .1 -.5 .4 -.1 0z" fill="none" stroke="#b0182a" stroke-width="0.90" stroke-linejoin="round"/></g>
<rect x="343.6" y="22.2" width="114.5" height="234.7" fill="none" stroke="#7c7c7c" stroke-width="1.4"/>
<line x1="343.0" x2="458.70000000000005" y1="22.2" y2="22.2" stroke="#333" stroke-width="1.1"/>
<line x1="338.1" x2="343.6" y1="22.20" y2="22.20" stroke="#d4d4d4" stroke-width="1"/>
<line x1="338.1" x2="343.6" y1="45.67" y2="45.67" stroke="#d4d4d4" stroke-width="1"/>
<line x1="338.1" x2="343.6" y1="69.14" y2="69.14" stroke="#d4d4d4" stroke-width="1"/>
<line x1="338.1" x2="343.6" y1="92.61" y2="92.61" stroke="#d4d4d4" stroke-width="1"/>
<line x1="338.1" x2="343.6" y1="116.08" y2="116.08" stroke="#d4d4d4" stroke-width="1"/>
<line x1="338.1" x2="343.6" y1="139.55" y2="139.55" stroke="#d4d4d4" stroke-width="1"/>
<line x1="338.1" x2="343.6" y1="163.02" y2="163.02" stroke="#d4d4d4" stroke-width="1"/>
<line x1="338.1" x2="343.6" y1="186.49" y2="186.49" stroke="#d4d4d4" stroke-width="1"/>
<line x1="338.1" x2="343.6" y1="209.96" y2="209.96" stroke="#d4d4d4" stroke-width="1"/>
<line x1="338.1" x2="343.6" y1="233.43" y2="233.43" stroke="#d4d4d4" stroke-width="1"/>
<line x1="338.1" x2="343.6" y1="256.90" y2="256.90" stroke="#d4d4d4" stroke-width="1"/>
<text class="ss" transform="translate(336.60 27.20) scale(0.935 1)" font-size="12.83" fill="#000" stroke="#000" stroke-width="0.3" text-anchor="end" >5300</text>
<text class="ss" transform="translate(336.60 74.14) scale(0.935 1)" font-size="12.83" fill="#000" stroke="#000" stroke-width="0.3" text-anchor="end" >5260</text>
<text class="ss" transform="translate(336.60 121.08) scale(0.935 1)" font-size="12.83" fill="#000" stroke="#000" stroke-width="0.3" text-anchor="end" >5220</text>
<text class="ss" transform="translate(336.60 168.02) scale(0.935 1)" font-size="12.83" fill="#000" stroke="#000" stroke-width="0.3" text-anchor="end" >5180</text>
<text class="ss" transform="translate(336.60 214.96) scale(0.935 1)" font-size="12.83" fill="#000" stroke="#000" stroke-width="0.3" text-anchor="end" >5140</text>
<text class="ss" transform="translate(336.60 261.90) scale(0.935 1)" font-size="12.83" fill="#000" stroke="#000" stroke-width="0.3" text-anchor="end" >5100</text>
<line x1="458.1" x2="458.1" y1="256.9" y2="261.4" stroke="#dcdcdc" stroke-width="1"/>
<line x1="429.5" x2="429.5" y1="256.9" y2="261.4" stroke="#dcdcdc" stroke-width="1"/>
<line x1="400.9" x2="400.9" y1="256.9" y2="261.4" stroke="#dcdcdc" stroke-width="1"/>
<line x1="372.2" x2="372.2" y1="256.9" y2="261.4" stroke="#dcdcdc" stroke-width="1"/>
<line x1="343.6" x2="343.6" y1="256.9" y2="261.4" stroke="#dcdcdc" stroke-width="1"/>
<text class="ss" transform="translate(344.30 273.20) scale(0.935 1)" font-size="12.83" fill="#000" stroke="#000" stroke-width="0.3" text-anchor="middle" >-50</text>
<text class="ss" transform="translate(401.00 273.20) scale(0.935 1)" font-size="12.83" fill="#000" stroke="#000" stroke-width="0.3" text-anchor="middle" >-10</text>
<text class="ss" transform="translate(458.30 273.20) scale(0.935 1)" font-size="12.83" fill="#000" stroke="#000" stroke-width="0.3" text-anchor="middle" >30</text>
<text class="ss" transform="translate(265.80 12.10) scale(0.935 1)" font-size="12.35" fill="#000" stroke="#000" stroke-width="0.3" text-anchor="start" >Qy*10000(rlu)</text>
<text class="ss" transform="translate(458.50 287.30) scale(0.935 1)" font-size="12.35" fill="#000" stroke="#000" stroke-width="0.3" text-anchor="end" >Qx*10000(rlu)</text>
<text class="sf" font-size="14.7" fill="#111" stroke="#111" stroke-width="0.2" text-anchor="middle" transform="translate(476.2,77.2) rotate(-90)">Intensity (a.u.)</text>
<text class="sf" transform="translate(484.50 48.00) scale(0.935 1)" font-size="13.90" fill="#111" text-anchor="start">10<tspan dy="-5.56" font-size="8.20">4</tspan></text>
<text class="sf" transform="translate(484.50 82.50) scale(0.935 1)" font-size="13.90" fill="#111" text-anchor="start">10<tspan dy="-5.56" font-size="8.20">2</tspan></text>
<text class="sf" transform="translate(484.50 114.60) scale(0.935 1)" font-size="13.90" fill="#111" stroke="#111" stroke-width="0.22" text-anchor="start" >1</text>
<line x1="504.8" x2="518" y1="112.40" y2="112.40" stroke="#161616" stroke-width="2"/>
<line x1="504.8" x2="518" y1="108.95" y2="108.95" stroke="#10103c" stroke-width="2"/>
<line x1="504.8" x2="518" y1="105.50" y2="105.50" stroke="#080880" stroke-width="2"/>
<line x1="504.8" x2="518" y1="102.05" y2="102.05" stroke="#1020b0" stroke-width="2"/>
<line x1="504.8" x2="518" y1="98.60" y2="98.60" stroke="#1840c0" stroke-width="2"/>
<line x1="504.8" x2="518" y1="95.15" y2="95.15" stroke="#2064b0" stroke-width="2"/>
<line x1="504.8" x2="518" y1="91.70" y2="91.70" stroke="#28a090" stroke-width="2"/>
<line x1="504.8" x2="518" y1="88.25" y2="88.25" stroke="#30b088" stroke-width="2"/>
<line x1="504.8" x2="518" y1="84.80" y2="84.80" stroke="#40c070" stroke-width="2"/>
<line x1="504.8" x2="518" y1="81.35" y2="81.35" stroke="#58d058" stroke-width="2"/>
<line x1="504.8" x2="518" y1="77.90" y2="77.90" stroke="#78e048" stroke-width="2"/>
<line x1="504.8" x2="518" y1="74.45" y2="74.45" stroke="#a8e850" stroke-width="2"/>
<line x1="504.8" x2="518" y1="71.00" y2="71.00" stroke="#d8e850" stroke-width="2"/>
<line x1="504.8" x2="518" y1="67.55" y2="67.55" stroke="#f0d840" stroke-width="2"/>
<line x1="504.8" x2="518" y1="64.10" y2="64.10" stroke="#f0c030" stroke-width="2"/>
<line x1="504.8" x2="518" y1="60.65" y2="60.65" stroke="#f0a828" stroke-width="2"/>
<line x1="504.8" x2="518" y1="57.20" y2="57.20" stroke="#e89030" stroke-width="2"/>
<line x1="504.8" x2="518" y1="53.75" y2="53.75" stroke="#e87820" stroke-width="2"/>
<line x1="504.8" x2="518" y1="50.30" y2="50.30" stroke="#d85820" stroke-width="2"/>
<line x1="504.8" x2="518" y1="46.85" y2="46.85" stroke="#c82828" stroke-width="2"/>
<line x1="504.8" x2="518" y1="43.40" y2="43.40" stroke="#b0182a" stroke-width="2"/>
<line x1="131.6" x2="131.6" y1="60.8" y2="166" stroke="#2a35d8" stroke-width="1.1" stroke-dasharray="3.4 1.6 1 1.6"/>
<line x1="136.3" x2="136.3" y1="60.8" y2="166" stroke="#2a35d8" stroke-width="1.1" stroke-dasharray="3.4 1.6 1 1.6"/>
<text class="sf" transform="translate(132.00 16.20) scale(0.935 1)" font-size="16.26" fill="#e01b26" stroke="#e01b26" stroke-width="0.22" text-anchor="middle" >(115)</text>
<text class="sf" transform="translate(110.50 62.20) scale(0.935 1)" font-size="16.26" fill="#e01b26" stroke="#e01b26" stroke-width="0.22" text-anchor="middle" >(+1)</text>
<text class="sf" transform="translate(110.80 98.60) scale(0.935 1)" font-size="16.26" fill="#e01b26" stroke="#e01b26" stroke-width="0.22" text-anchor="middle" >(0)</text>
<text class="sf" transform="translate(111.40 134.20) scale(0.935 1)" font-size="16.26" fill="#e01b26" stroke="#e01b26" stroke-width="0.22" text-anchor="middle" >(-1)</text>
<line x1="133.8" y1="90.0" x2="146.7" y2="70.8" stroke="#e0141f" stroke-width="1.3"/>
<polygon points="150.0,65.8 148.3,73.1 143.9,70.1" fill="#e0141f"/>
<line x1="140.2" y1="177.6" x2="156.0" y2="200.6" stroke="#111" stroke-width="1.3"/>
<polygon points="160.3,206.8 152.8,201.7 158.2,197.9" fill="#111"/>
<text class="sf" transform="translate(136.0 46.3) scale(1.04 1)" font-size="16.6" fill="#e01b26" stroke="#e01b26" stroke-width="0.3" font-style="italic"><tspan font-style="normal">(</tspan>Q<tspan font-size="11.3" dy="-6.3">l</tspan><tspan font-size="11.3" dx="-4.5" dy="10.3">x</tspan><tspan dy="-4.0">, Q</tspan><tspan font-size="11.3" dy="-6.3">l</tspan><tspan font-size="11.3" dx="-4.5" dy="10.3">y</tspan><tspan font-style="normal" dy="-4.0">)</tspan></text>
<text class="sf" transform="translate(136.4 227.8) scale(0.97 1)" font-size="16.0" fill="#111" stroke="#111" stroke-width="0.3" font-style="italic"><tspan font-style="normal">(</tspan>Q<tspan font-size="10.9" dy="-6.1">S</tspan><tspan font-size="10.9" dx="-4.4" dy="9.9">x</tspan><tspan dy="-3.8">, Q</tspan><tspan font-size="10.9" dy="-6.1">S</tspan><tspan font-size="10.9" dx="-4.4" dy="9.9">y</tspan><tspan font-style="normal" dy="-3.8">)</tspan></text>
<text class="sf" transform="translate(137.80 315.20) scale(0.935 1)" font-size="21.18" fill="#111" stroke="#111" stroke-width="0.22" text-anchor="middle" >(a)</text>
<line x1="343.6" y1="69.5" x2="379.8" y2="22.2" stroke="#3a45d4" stroke-width="1.1"/>
<text class="sf" transform="translate(400.00 17.60) scale(0.935 1)" font-size="16.26" fill="#e01b26" stroke="#e01b26" stroke-width="0.22" text-anchor="middle" >(133)</text>
<text class="sf" transform="translate(405.50 314.10) scale(0.935 1)" font-size="21.18" fill="#111" stroke="#111" stroke-width="0.22" text-anchor="middle" >(b)</text>
<line x1="148" x2="441" y1="560.6" y2="560.6" stroke="#f3b4ee" stroke-width="1.5"/>
<path d="M148.0 560.4 148.4 560.4 148.9 560.4 149.3 560.4 149.8 560.4 150.2 560.4 150.7 560.4 151.1 560.4 151.6 560.4 152.0 560.4 152.5 560.4 152.9 560.4 153.4 560.4 153.8 560.4 154.3 560.4 154.7 560.4 155.2 560.4 155.6 560.4 156.1 560.4 156.5 560.4 157.0 560.4 157.4 560.4 157.9 560.4 158.3 560.4 158.8 560.4 159.2 560.4 159.7 560.4 160.1 560.4 160.6 560.4 161.0 560.4 161.5 560.4 161.9 560.4 162.4 560.4 162.8 560.4 163.3 560.4 163.7 560.4 164.2 560.4 164.6 560.4 165.1 560.4 165.5 560.4 166.0 560.4 166.4 560.4 166.9 560.4 167.3 560.4 167.8 560.4 168.2 560.4 168.7 560.4 169.1 560.4 169.6 560.4 170.0 560.4 170.5 560.4 170.9 542.2 171.4 554.5 171.8 540.9 172.3 555.5 172.7 547.9 173.2 555.6 173.6 538.4 174.1 556.3 174.5 538.6 175.0 558.4 175.4 538.7 175.9 554.3 176.3 543.8 176.8 551.7 177.2 544.7 177.7 556.1 178.1 535.2 178.6 556.8 179.0 541.6 179.5 558.2 179.9 546.1 180.4 553.2 180.8 541.7 181.3 556.1 181.7 541.4 182.2 553.8 182.6 543.3 183.1 555.3 183.5 543.9 184.0 556.1 184.4 542.3 184.9 560.4 185.3 560.4 185.8 560.4 186.2 560.4 186.7 560.4 187.1 560.4 187.6 560.4 188.0 560.4 188.5 560.4 188.9 560.4 189.4 560.4 189.8 560.4 190.3 560.4 190.7 560.4 191.2 560.4 191.6 547.7 192.1 559.2 192.5 548.1 193.0 559.3 193.4 560.4 193.9 560.4 194.3 560.4 194.8 560.4 195.2 560.4 195.7 560.4 196.1 547.3 196.6 555.6 197.0 550.0 197.5 556.7 197.9 552.8 198.4 560.4 198.8 560.4 199.3 560.4 199.7 560.4 200.2 560.4 200.6 560.4 201.1 560.4 201.5 560.4 202.0 560.4 202.4 560.4 202.9 558.9 203.3 547.2 203.8 557.2 204.2 552.3 204.7 558.3 205.1 544.7 205.6 555.3 206.0 548.6 206.5 554.5 206.9 541.5 207.4 553.3 207.8 547.8 208.3 552.7 208.7 540.9 209.2 553.6 209.6 546.7 210.1 558.2 210.5 537.5 211.0 555.7 211.4 545.2 211.9 553.2 212.3 542.8 212.8 551.4 213.2 545.6 213.7 549.4 214.1 560.4 214.6 560.4 215.0 560.4 215.5 560.4 215.9 560.4 216.4 560.4 216.8 560.4 217.3 560.4 217.7 560.4 218.2 560.4 218.6 560.4 219.1 560.4 219.5 544.8 220.0 553.0 220.4 533.8 220.9 555.0 221.3 536.8 221.8 547.0 222.2 526.5 222.7 545.9 223.1 523.0 223.6 551.6 224.0 533.2 224.5 554.7 224.9 534.6 225.4 553.6 225.8 535.0 226.3 542.1 226.7 532.1 227.2 540.5 227.6 522.0 228.1 552.0 228.5 521.4 229.0 557.3 229.4 528.8 229.9 544.5 230.3 534.5 230.8 550.8 231.2 532.0 231.7 552.6 232.1 537.1 232.6 547.8 233.0 527.1 233.5 551.0 233.9 537.9 234.4 553.1 234.8 538.6 235.3 556.5 235.7 540.1 236.2 558.6 236.6 543.9 237.1 557.3 237.5 543.6 238.0 556.3 238.4 551.1 238.9 560.4 239.3 560.4 239.8 560.4 240.2 560.4 240.7 560.4 241.1 560.4 241.6 560.4 242.0 560.4 242.5 560.4 242.9 560.4 243.4 560.4 243.8 560.4 244.3 560.4 244.7 560.4 245.2 560.4 245.6 560.4 246.1 560.4 246.5 560.4 247.0 560.4 247.4 560.4 247.9 560.4 248.3 560.4 248.8 560.4 249.2 560.4 249.7 560.4 250.1 560.4 250.6 560.4 251.0 560.4 251.5 560.4 251.9 560.4 252.4 560.4 252.8 560.4 253.3 560.4 253.7 560.4 254.2 560.4 254.6 560.4 255.1 560.4 255.5 560.4 256.0 560.4 256.4 560.4 256.9 560.4 257.3 560.4 257.8 560.4 258.2 560.4 258.7 560.4 259.1 559.8 259.6 560.0 260.0 559.0 260.5 559.6 260.9 558.7 261.4 559.2 261.8 557.9 262.3 559.1 262.7 557.2 263.2 560.0 263.6 558.1 264.1 560.0 264.5 559.7 265.0 560.4 265.4 560.4 265.9 560.4 266.3 560.4 266.8 560.4 267.2 559.7 267.7 560.2 268.1 558.6 268.6 559.6 269.0 556.9 269.5 559.3 269.9 557.9 270.4 559.7 270.8 556.0 271.3 559.2 271.7 558.8 272.2 560.2 272.6 559.3 273.1 560.3 273.5 560.4 274.0 560.4 274.4 560.4 274.9 560.4 275.3 560.4 275.8 560.4 276.2 560.4 276.7 560.4 277.1 560.4 277.6 560.2 278.0 559.7 278.5 560.1 278.9 558.8 279.4 559.8 279.8 557.8 280.3 558.9 280.7 555.7 281.2 557.3 281.6 553.0 282.1 558.3 282.5 543.4 283.0 552.0 283.4 542.1 283.9 554.0 284.3 529.8 284.8 556.9 285.2 536.7 285.7 547.6 286.1 525.4 286.6 546.0 287.0 530.2 287.5 549.6 287.9 525.9 288.4 557.0 288.8 526.6 289.3 549.8 289.7 542.8 290.2 550.4 290.6 539.6 291.1 551.9 291.5 539.7 292.0 554.6 292.4 546.6 292.9 558.5 293.3 550.3 293.8 559.7 294.2 555.2 294.7 559.2 295.1 558.0 295.6 560.0 296.0 559.1 296.5 559.9 296.9 559.7 297.4 560.3 297.8 560.4 298.3 560.4 298.7 560.4 299.2 560.4 299.6 560.4 300.1 560.4 300.5 560.4 301.0 560.4 301.4 559.8 301.9 559.9 302.3 557.9 302.8 558.9 303.2 555.3 303.7 558.6 304.1 556.3 304.6 559.8 305.0 555.8 305.5 559.2 305.9 557.6 306.4 559.7 306.8 557.8 307.3 560.2 307.7 559.9 308.2 560.4 308.6 560.4 309.1 560.4 309.5 560.4 310.0 560.4 310.4 560.4 310.9 560.4 311.3 559.8 311.8 559.9 312.2 558.9 312.7 560.0 313.1 557.4 313.6 558.9 314.0 555.2 314.5 557.7 314.9 554.7 315.4 559.9 315.8 557.2 316.3 559.1 316.7 558.1 317.2 559.8 317.6 559.2 318.1 560.3 318.5 560.4 319.0 560.4 319.4 560.4 319.9 560.4 320.3 560.4 320.8 560.4 321.2 560.4 321.7 560.4 322.1 560.0 322.6 560.0 323.0 558.4 323.5 559.6 323.9 555.6 324.4 559.6 324.8 553.3 325.3 558.8 325.7 551.8 326.2 559.3 326.6 555.8 327.1 558.0 327.5 556.1 328.0 559.7 328.4 559.2 328.9 560.3 329.3 560.4 329.8 560.4 330.2 560.4 330.7 560.4 331.1 560.4 331.6 560.4 332.0 560.4 332.5 560.4 332.9 559.8 333.4 560.1 333.8 559.0 334.3 560.1 334.7 558.8 335.2 559.9 335.6 556.6 336.1 559.7 336.5 556.0 337.0 557.2 337.4 548.3 337.9 557.3 338.3 543.0 338.8 554.6 339.2 537.2 339.7 552.7 340.1 532.4 340.6 554.1 341.0 538.4 341.5 553.1 341.9 523.9 342.4 551.3 342.8 534.4 343.3 546.4 343.7 522.7 344.2 550.9 344.6 538.7 345.1 547.2 345.5 535.0 346.0 547.8 346.4 533.8 346.9 554.6 347.3 537.1 347.8 550.0 348.2 538.0 348.7 555.3 349.1 549.5 349.6 554.4 350.0 549.7 350.5 559.6 350.9 555.1 351.4 558.7 351.8 557.3 352.3 559.9 352.7 557.9 353.2 560.1 353.6 559.1 354.1 560.3 354.5 559.9 355.0 560.4 355.4 560.4 355.9 560.4 356.3 560.4 356.8 560.4 357.2 559.9 357.7 559.8 358.1 558.3 358.6 560.1 359.0 556.3 359.5 558.2 359.9 555.7 360.4 558.1 360.8 553.9 361.3 559.2 361.7 557.3 362.2 560.0 362.6 558.9 363.1 560.0 363.5 559.9 364.0 560.4 364.4 560.4 364.9 560.4 365.3 560.4 365.8 560.4 366.2 560.4 366.7 560.4 367.1 560.4 367.6 560.4 368.0 559.5 368.5 559.6 368.9 557.8 369.4 559.9 369.8 557.1 370.3 559.0 370.7 553.1 371.2 558.1 371.6 555.2 372.1 559.4 372.5 557.1 373.0 559.5 373.4 558.7 373.9 560.1 374.3 559.8 374.8 560.4 375.2 560.4 375.7 560.4 376.1 560.4 376.6 560.4 377.0 560.4 377.5 560.4 377.9 560.4 378.4 560.4 378.8 560.4 379.3 560.3 379.7 559.2 380.2 559.7 380.6 556.9 381.1 559.4 381.5 557.1 382.0 559.5 382.4 555.9 382.9 558.8 383.3 554.2 383.8 558.9 384.2 557.3 384.7 559.5 385.1 559.0 385.6 560.3 386.0 560.4 386.5 560.4 386.9 560.4 387.4 560.4 387.8 560.4 388.3 560.4 388.7 560.4 389.2 560.4 389.6 560.4 390.1 560.4 390.5 560.4 391.0 560.4 391.4 559.9 391.9 560.2 392.3 559.7 392.8 559.8 393.2 557.7 393.7 559.3 394.1 557.8 394.6 558.6 395.0 556.5 395.5 558.6 395.9 554.2 396.4 557.5 396.8 550.0 397.3 553.8 397.7 547.3 398.2 556.3 398.6 547.4 399.1 553.4 399.5 549.5 400.0 558.8 400.4 543.8 400.9 554.8 401.3 545.6 401.8 557.3 402.2 543.8 402.7 554.4 403.1 550.5 403.6 555.5 404.0 552.1 404.5 557.4 404.9 554.7 405.4 559.3 405.8 556.1 406.3 558.7 406.7 557.5 407.2 560.1 407.6 558.5 408.1 559.8 408.5 559.1 409.0 560.2 409.4 557.7 409.9 559.2 410.3 557.7 410.8 559.4 411.2 556.9 411.7 559.9 412.1 557.0 412.6 560.1 413.0 558.5 413.5 560.0 413.9 559.9 414.4 560.4 414.8 560.4 415.3 560.4 415.7 560.4 416.2 560.2 416.6 559.8 417.1 560.2 417.5 558.7 418.0 559.6 418.4 558.4 418.9 559.8 419.3 557.9 419.8 560.1 420.2 558.9 420.7 559.8 421.1 559.3 421.6 560.2 422.0 560.4 422.5 560.4 422.9 560.4 423.4 560.4 423.8 560.4 424.3 560.4 424.7 560.4 425.2 560.4 425.6 560.4 426.1 560.4 426.5 560.4 427.0 560.4 427.4 560.4 427.9 560.4 428.3 560.4 428.8 560.4 429.2 560.4 429.7 560.4 430.1 560.4 430.6 560.4 431.0 560.4 431.5 560.4 431.9 560.4 432.4 560.4 432.8 560.4 433.3 560.4 433.7 560.4 434.2 560.4 434.6 560.4 435.1 560.4 435.5 560.4 436.0 560.4 436.4 560.4 436.9 560.4 437.3 560.4 437.8 560.4 438.2 560.4 438.7 560.4 439.1 560.4 439.6 560.4 440.0 560.4 440.5 560.4 440.9 560.4" fill="none" stroke="#ee86e6" stroke-width="1" stroke-dasharray="1 1.1" stroke-linejoin="round"/>
<path d="M129.8 527.9 L130.6 522.4 L131.3 535.4 L132.1 535.4 L132.8 535.4 L133.6 527.9 L134.3 527.9 L135.1 535.4 L135.8 535.4 L136.6 527.9 L137.3 527.9 L138.1 535.4 L138.8 515.4 L139.6 535.4 L140.3 527.9 L141.1 535.4 L141.8 535.4 L142.6 535.4 L143.3 527.9 L144.1 535.4 L144.8 535.4 L145.6 535.4 L146.3 535.4 L147.1 518.5 L147.8 527.9 L148.6 535.4 L149.3 535.4 L150.1 527.9 L150.8 522.4 L151.6 535.4 L152.3 535.4 L153.1 535.4 L153.8 535.4 L154.6 535.4 L155.3 522.4 L156.1 526.6 L156.8 511.6 L157.6 504.7 L158.3 526.6 L159.1 526.6 L159.8 507.7 L160.6 507.7 L161.3 526.6 L162.1 517.2 L162.8 517.2 L163.6 507.7 L164.3 511.6 L165.1 526.6 L165.8 507.7 L166.6 511.6 L167.3 504.7 L168.1 507.7 L168.8 502.2 L169.6 504.7 L170.3 507.7 L171.1 502.2 L171.8 496.7 L172.6 526.6 L173.3 504.7 L174.1 511.6 L174.8 511.6 L175.6 517.2 L176.3 502.2 L177.1 511.6 L177.8 517.2 L178.6 517.2 L179.3 504.7 L180.1 507.7 L180.8 504.7 L181.6 507.7 L182.3 535.4 L183.1 511.6 L183.8 496.7 L184.6 500.1 L185.3 502.2 L186.1 496.7 L186.8 498.3 L187.6 507.7 L188.3 495.3 L189.1 507.7 L189.8 526.6 L190.6 498.3 L191.3 498.3 L192.1 498.3 L192.8 502.2 L193.6 517.2 L194.3 507.7 L195.1 496.7 L195.8 507.7 L196.6 496.7 L197.3 495.3 L198.1 495.3 L198.8 491.7 L199.6 500.1 L200.3 494.0 L201.1 498.3 L201.8 489.8 L202.6 481.8 L203.3 484.6 L204.1 482.8 L204.8 483.4 L205.6 476.8 L206.3 472.9 L207.1 472.4 L207.8 471.6 L208.6 466.5 L209.3 462.6 L210.1 463.4 L210.8 458.2 L211.6 456.2 L212.3 455.9 L213.1 452.2 L213.8 449.7 L214.6 447.7 L215.3 444.7 L216.1 442.2 L216.8 439.3 L217.6 436.0 L218.3 430.5 L219.1 423.6 L219.8 416.4 L220.6 409.7 L221.3 403.5 L222.1 397.6 L222.8 392.1 L223.6 388.7 L224.3 387.0 L225.1 388.4 L225.8 391.1 L226.6 394.8 L227.3 399.6 L228.1 406.8 L228.8 415.4 L229.6 425.6 L230.3 436.5 L231.1 447.0 L231.8 455.2 L232.6 460.2 L233.3 464.1 L234.1 465.7 L234.8 468.6 L235.6 474.2 L236.3 472.1 L237.1 477.5 L237.8 479.1 L238.6 481.8 L239.3 479.9 L240.1 481.8 L240.8 486.6 L241.6 489.8 L242.3 487.3 L243.1 498.3 L243.8 489.8 L244.6 496.7 L245.3 498.3 L246.1 495.3 L246.8 517.2 L247.6 500.1 L248.3 502.2 L249.1 496.7 L249.8 498.3 L250.6 498.3 L251.3 507.7 L252.1 502.2 L252.8 507.7 L253.6 502.2 L254.3 500.1 L255.1 511.6 L255.8 502.2 L256.6 507.7 L257.3 504.7 L258.1 511.6 L258.8 502.2 L259.6 511.6 L260.3 511.6 L261.1 517.2 L261.8 526.6 L262.6 526.6 L263.3 526.6 L264.1 517.2 L264.8 502.2 L265.6 511.6 L266.3 535.4 L267.1 511.6 L267.8 517.2 L268.6 526.6 L269.3 507.7 L270.1 517.2 L270.8 507.7 L271.6 511.6 L272.3 511.6 L273.1 526.6 L273.8 504.7 L274.6 511.6 L275.3 511.6 L276.1 500.1 L276.8 517.2 L277.6 507.7 L278.3 507.7 L279.1 511.6 L279.8 500.1 L280.6 498.3 L281.3 490.7 L282.1 489.8 L282.8 488.9 L283.6 502.2 L284.3 489.8 L285.1 491.7 L285.8 492.8 L286.6 491.7 L287.3 490.7 L288.1 491.7 L288.8 486.6 L289.6 492.8 L290.3 489.8 L291.1 496.7 L291.8 489.8 L292.6 498.3 L293.3 495.3 L294.1 486.6 L294.8 494.0 L295.6 500.1 L296.3 500.1 L297.1 504.7 L297.8 502.2 L298.6 502.2 L299.3 504.7 L300.1 511.6 L300.8 502.2 L301.6 517.2 L302.3 517.2 L303.1 507.7 L303.8 507.7 L304.6 526.6 L305.3 502.2 L306.1 535.4 L306.8 526.6 L307.6 526.6 L308.3 535.4 L309.1 526.6 L309.8 517.2 L310.6 511.6 L311.3 517.2 L312.1 517.2 L312.8 535.4 L313.6 526.6 L314.3 526.6 L315.1 511.6 L315.8 504.7 L316.6 511.6 L317.3 517.2 L318.1 517.2 L318.8 517.2 L319.6 511.6 L320.3 526.6 L321.1 511.6 L321.8 517.2 L322.6 517.2 L323.3 526.6 L324.1 517.2 L324.8 511.6 L325.6 517.2 L326.3 517.2 L327.1 511.6 L327.8 526.6 L328.6 507.7 L329.3 507.7 L330.1 511.6 L330.8 511.6 L331.6 511.6 L332.3 496.7 L333.1 517.2 L333.8 498.3 L334.6 491.7 L335.3 498.3 L336.1 496.7 L336.8 496.7 L337.6 487.3 L338.3 504.7 L339.1 489.8 L339.8 491.7 L340.6 489.8 L341.3 491.7 L342.1 488.9 L342.8 484.6 L343.6 491.7 L344.3 492.8 L345.1 495.3 L345.8 485.2 L346.6 489.8 L347.3 502.2 L348.1 491.7 L348.8 502.2 L349.6 496.7 L350.3 500.1 L351.1 502.2 L351.8 498.3 L352.6 517.2 L353.3 526.6 L354.1 507.7 L354.8 517.2 L355.6 517.2 L356.3 504.7 L357.1 507.7 L357.8 535.4 L358.6 526.6 L359.3 535.4 L360.1 517.2 L360.8 526.6 L361.6 535.4 L362.3 535.4 L363.1 527.9 L363.8 535.4 L364.6 522.4 L365.3 527.9 L366.1 527.9 L366.8 535.4 L367.6 535.4 L368.3 535.4 L369.1 535.4 L369.8 518.5 L370.6 535.4 L371.3 527.9 L372.1 535.4 L372.8 527.9 L373.6 535.4 L374.3 522.4 L375.1 535.4 L375.8 522.4 L376.6 535.4 L377.3 522.4 L378.1 527.9 L378.8 535.4 L379.6 527.9 L380.3 522.4 L381.1 535.4 L381.8 535.4 L382.6 527.9 L383.3 535.4 L384.1 535.4 L384.8 515.4 L385.6 535.4 L386.3 517.2 L387.1 535.4 L387.8 526.6 L388.6 526.6 L389.3 526.6 L390.1 502.2 L390.8 517.2 L391.6 511.6 L392.3 526.6 L393.1 507.7 L393.8 517.2 L394.6 511.6 L395.3 517.2 L396.1 517.2 L396.8 517.2 L397.6 517.2 L398.3 517.2 L399.1 511.6 L399.8 511.6 L400.6 511.6 L401.3 526.6 L402.1 504.7 L402.8 517.2 L403.6 517.2 L404.3 517.2 L405.1 535.4 L405.8 526.6 L406.6 526.6 L407.3 526.6 L408.1 511.6 L408.8 527.9 L409.6 535.4 L410.3 522.4 L411.1 527.9 L411.8 527.9 L412.6 527.9 L413.3 535.4 L414.1 535.4 L414.8 527.9 L415.6 535.4 L416.3 518.5 L417.1 527.9" fill="none" stroke="#177a17" stroke-width="2" stroke-linejoin="miter" stroke-miterlimit="2" stroke-linecap="square"/>
<path d="M423.8 535.4 L424.6 522.4 L425.3 527.9" fill="none" stroke="#177a17" stroke-width="2" stroke-linejoin="miter" stroke-miterlimit="2" stroke-linecap="square"/>
<line x1="222.8" x2="222.8" y1="411" y2="561" stroke="#111" stroke-width="2" stroke-dasharray="4.2 2.4"/>
<line x1="214.7" x2="214.7" y1="461" y2="581.2" stroke="#1b2fd6" stroke-width="2" stroke-dasharray="4.2 2.4"/>
<rect x="106.8" y="349.5" width="345.59999999999997" height="250.39999999999998" fill="none" stroke="#222" stroke-width="1.3"/>
<line x1="101.6" x2="106.8" y1="599.90" y2="599.90" stroke="#222" stroke-width="1.2"/>
<line x1="103.8" x2="106.8" y1="590.48" y2="590.48" stroke="#222" stroke-width="1"/>
<line x1="103.8" x2="106.8" y1="584.97" y2="584.97" stroke="#222" stroke-width="1"/>
<line x1="103.8" x2="106.8" y1="581.06" y2="581.06" stroke="#222" stroke-width="1"/>
<line x1="103.8" x2="106.8" y1="578.02" y2="578.02" stroke="#222" stroke-width="1"/>
<line x1="103.8" x2="106.8" y1="575.54" y2="575.54" stroke="#222" stroke-width="1"/>
<line x1="103.8" x2="106.8" y1="573.45" y2="573.45" stroke="#222" stroke-width="1"/>
<line x1="103.8" x2="106.8" y1="571.63" y2="571.63" stroke="#222" stroke-width="1"/>
<line x1="103.8" x2="106.8" y1="570.03" y2="570.03" stroke="#222" stroke-width="1"/>
<line x1="101.6" x2="106.8" y1="568.60" y2="568.60" stroke="#222" stroke-width="1.2"/>
<line x1="103.8" x2="106.8" y1="559.18" y2="559.18" stroke="#222" stroke-width="1"/>
<line x1="103.8" x2="106.8" y1="553.67" y2="553.67" stroke="#222" stroke-width="1"/>
<line x1="103.8" x2="106.8" y1="549.76" y2="549.76" stroke="#222" stroke-width="1"/>
<line x1="103.8" x2="106.8" y1="546.72" y2="546.72" stroke="#222" stroke-width="1"/>
<line x1="103.8" x2="106.8" y1="544.24" y2="544.24" stroke="#222" stroke-width="1"/>
<line x1="103.8" x2="106.8" y1="542.15" y2="542.15" stroke="#222" stroke-width="1"/>
<line x1="103.8" x2="106.8" y1="540.33" y2="540.33" stroke="#222" stroke-width="1"/>
<line x1="103.8" x2="106.8" y1="538.73" y2="538.73" stroke="#222" stroke-width="1"/>
<line x1="101.6" x2="106.8" y1="537.30" y2="537.30" stroke="#222" stroke-width="1.2"/>
<line x1="103.8" x2="106.8" y1="527.88" y2="527.88" stroke="#222" stroke-width="1"/>
<line x1="103.8" x2="106.8" y1="522.37" y2="522.37" stroke="#222" stroke-width="1"/>
<line x1="103.8" x2="106.8" y1="518.46" y2="518.46" stroke="#222" stroke-width="1"/>
<line x1="103.8" x2="106.8" y1="515.42" y2="515.42" stroke="#222" stroke-width="1"/>
<line x1="103.8" x2="106.8" y1="512.94" y2="512.94" stroke="#222" stroke-width="1"/>
<line x1="103.8" x2="106.8" y1="510.85" y2="510.85" stroke="#222" stroke-width="1"/>
<line x1="103.8" x2="106.8" y1="509.03" y2="509.03" stroke="#222" stroke-width="1"/>
<line x1="103.8" x2="106.8" y1="507.43" y2="507.43" stroke="#222" stroke-width="1"/>
<line x1="101.6" x2="106.8" y1="506.00" y2="506.00" stroke="#222" stroke-width="1.2"/>
<line x1="103.8" x2="106.8" y1="496.58" y2="496.58" stroke="#222" stroke-width="1"/>
<line x1="103.8" x2="106.8" y1="491.07" y2="491.07" stroke="#222" stroke-width="1"/>
<line x1="103.8" x2="106.8" y1="487.16" y2="487.16" stroke="#222" stroke-width="1"/>
<line x1="103.8" x2="106.8" y1="484.12" y2="484.12" stroke="#222" stroke-width="1"/>
<line x1="103.8" x2="106.8" y1="481.64" y2="481.64" stroke="#222" stroke-width="1"/>
<line x1="103.8" x2="106.8" y1="479.55" y2="479.55" stroke="#222" stroke-width="1"/>
<line x1="103.8" x2="106.8" y1="477.73" y2="477.73" stroke="#222" stroke-width="1"/>
<line x1="103.8" x2="106.8" y1="476.13" y2="476.13" stroke="#222" stroke-width="1"/>
<line x1="101.6" x2="106.8" y1="474.70" y2="474.70" stroke="#222" stroke-width="1.2"/>
<line x1="103.8" x2="106.8" y1="465.28" y2="465.28" stroke="#222" stroke-width="1"/>
<line x1="103.8" x2="106.8" y1="459.77" y2="459.77" stroke="#222" stroke-width="1"/>
<line x1="103.8" x2="106.8" y1="455.86" y2="455.86" stroke="#222" stroke-width="1"/>
<line x1="103.8" x2="106.8" y1="452.82" y2="452.82" stroke="#222" stroke-width="1"/>
<line x1="103.8" x2="106.8" y1="450.34" y2="450.34" stroke="#222" stroke-width="1"/>
<line x1="103.8" x2="106.8" y1="448.25" y2="448.25" stroke="#222" stroke-width="1"/>
<line x1="103.8" x2="106.8" y1="446.43" y2="446.43" stroke="#222" stroke-width="1"/>
<line x1="103.8" x2="106.8" y1="444.83" y2="444.83" stroke="#222" stroke-width="1"/>
<line x1="101.6" x2="106.8" y1="443.40" y2="443.40" stroke="#222" stroke-width="1.2"/>
<line x1="103.8" x2="106.8" y1="433.98" y2="433.98" stroke="#222" stroke-width="1"/>
<line x1="103.8" x2="106.8" y1="428.47" y2="428.47" stroke="#222" stroke-width="1"/>
<line x1="103.8" x2="106.8" y1="424.56" y2="424.56" stroke="#222" stroke-width="1"/>
<line x1="103.8" x2="106.8" y1="421.52" y2="421.52" stroke="#222" stroke-width="1"/>
<line x1="103.8" x2="106.8" y1="419.04" y2="419.04" stroke="#222" stroke-width="1"/>
<line x1="103.8" x2="106.8" y1="416.95" y2="416.95" stroke="#222" stroke-width="1"/>
<line x1="103.8" x2="106.8" y1="415.13" y2="415.13" stroke="#222" stroke-width="1"/>
<line x1="103.8" x2="106.8" y1="413.53" y2="413.53" stroke="#222" stroke-width="1"/>
<line x1="101.6" x2="106.8" y1="412.10" y2="412.10" stroke="#222" stroke-width="1.2"/>
<line x1="103.8" x2="106.8" y1="402.68" y2="402.68" stroke="#222" stroke-width="1"/>
<line x1="103.8" x2="106.8" y1="397.17" y2="397.17" stroke="#222" stroke-width="1"/>
<line x1="103.8" x2="106.8" y1="393.26" y2="393.26" stroke="#222" stroke-width="1"/>
<line x1="103.8" x2="106.8" y1="390.22" y2="390.22" stroke="#222" stroke-width="1"/>
<line x1="103.8" x2="106.8" y1="387.74" y2="387.74" stroke="#222" stroke-width="1"/>
<line x1="103.8" x2="106.8" y1="385.65" y2="385.65" stroke="#222" stroke-width="1"/>
<line x1="103.8" x2="106.8" y1="383.83" y2="383.83" stroke="#222" stroke-width="1"/>
<line x1="103.8" x2="106.8" y1="382.23" y2="382.23" stroke="#222" stroke-width="1"/>
<line x1="101.6" x2="106.8" y1="380.80" y2="380.80" stroke="#222" stroke-width="1.2"/>
<line x1="103.8" x2="106.8" y1="371.38" y2="371.38" stroke="#222" stroke-width="1"/>
<line x1="103.8" x2="106.8" y1="365.87" y2="365.87" stroke="#222" stroke-width="1"/>
<line x1="103.8" x2="106.8" y1="361.96" y2="361.96" stroke="#222" stroke-width="1"/>
<line x1="103.8" x2="106.8" y1="358.92" y2="358.92" stroke="#222" stroke-width="1"/>
<line x1="103.8" x2="106.8" y1="356.44" y2="356.44" stroke="#222" stroke-width="1"/>
<line x1="103.8" x2="106.8" y1="354.35" y2="354.35" stroke="#222" stroke-width="1"/>
<line x1="103.8" x2="106.8" y1="352.53" y2="352.53" stroke="#222" stroke-width="1"/>
<line x1="103.8" x2="106.8" y1="350.93" y2="350.93" stroke="#222" stroke-width="1"/>
<line x1="101.6" x2="106.8" y1="349.50" y2="349.50" stroke="#222" stroke-width="1.2"/>
<text class="sf" transform="translate(94.00 353.20) scale(0.935 1)" font-size="17.54" fill="#111" text-anchor="end">10<tspan dy="-7.02" font-size="10.35">6</tspan></text>
<text class="sf" transform="translate(94.00 415.80) scale(0.935 1)" font-size="17.54" fill="#111" text-anchor="end">10<tspan dy="-7.02" font-size="10.35">4</tspan></text>
<text class="sf" transform="translate(94.00 478.40) scale(0.935 1)" font-size="17.54" fill="#111" text-anchor="end">10<tspan dy="-7.02" font-size="10.35">2</tspan></text>
<text class="sf" transform="translate(94.00 541.00) scale(0.935 1)" font-size="17.54" fill="#111" text-anchor="end">10<tspan dy="-7.02" font-size="10.35">0</tspan></text>
<text class="sf" transform="translate(94.00 603.60) scale(0.935 1)" font-size="17.54" fill="#111" text-anchor="end">10<tspan dy="-7.02" font-size="10.35">-2</tspan></text>
<line x1="107.72" x2="107.72" y1="599.9" y2="602.9" stroke="#222" stroke-width="1.2"/>
<line x1="134.16" x2="134.16" y1="599.9" y2="602.9" stroke="#222" stroke-width="1.2"/>
<line x1="160.60" x2="160.60" y1="599.9" y2="605.1" stroke="#222" stroke-width="1.2"/>
<text class="sf" transform="translate(160.60 622.00) scale(0.935 1)" font-size="17.33" fill="#111" stroke="#111" stroke-width="0.22" text-anchor="middle" >31.2</text>
<line x1="187.04" x2="187.04" y1="599.9" y2="602.9" stroke="#222" stroke-width="1.2"/>
<line x1="213.48" x2="213.48" y1="599.9" y2="602.9" stroke="#222" stroke-width="1.2"/>
<line x1="239.92" x2="239.92" y1="599.9" y2="605.1" stroke="#222" stroke-width="1.2"/>
<text class="sf" transform="translate(239.90 622.00) scale(0.935 1)" font-size="17.33" fill="#111" stroke="#111" stroke-width="0.22" text-anchor="middle" >31.5</text>
<line x1="266.36" x2="266.36" y1="599.9" y2="602.9" stroke="#222" stroke-width="1.2"/>
<line x1="292.80" x2="292.80" y1="599.9" y2="602.9" stroke="#222" stroke-width="1.2"/>
<line x1="319.24" x2="319.24" y1="599.9" y2="605.1" stroke="#222" stroke-width="1.2"/>
<text class="sf" transform="translate(319.20 622.00) scale(0.935 1)" font-size="17.33" fill="#111" stroke="#111" stroke-width="0.22" text-anchor="middle" >31.8</text>
<line x1="345.68" x2="345.68" y1="599.9" y2="602.9" stroke="#222" stroke-width="1.2"/>
<line x1="372.12" x2="372.12" y1="599.9" y2="602.9" stroke="#222" stroke-width="1.2"/>
<line x1="398.56" x2="398.56" y1="599.9" y2="605.1" stroke="#222" stroke-width="1.2"/>
<text class="sf" transform="translate(398.60 622.00) scale(0.935 1)" font-size="17.33" fill="#111" stroke="#111" stroke-width="0.22" text-anchor="middle" >32.1</text>
<line x1="425.00" x2="425.00" y1="599.9" y2="602.9" stroke="#222" stroke-width="1.2"/>
<line x1="451.44" x2="451.44" y1="599.9" y2="602.9" stroke="#222" stroke-width="1.2"/>
<text class="sf" font-size="19.8" fill="#111" stroke="#111" stroke-width="0.2" text-anchor="middle" transform="translate(54.2,473.8) rotate(-90)">XRD Intensity (a.u.)</text>
<text class="sf" transform="translate(279.8 645.4) scale(1.02 1)" font-size="20.6" fill="#111" stroke="#111" stroke-width="0.2" text-anchor="middle">ω/2θ (º)</text>
<text class="sf" transform="translate(278.50 665.80) scale(0.935 1)" font-size="20.96" fill="#111" stroke="#111" stroke-width="0.22" text-anchor="middle" >(c)</text>
<text class="sf" transform="translate(112.00 367.60) scale(0.935 1)" font-size="15.40" fill="#e01b26" stroke="#e01b26" stroke-width="0.22" text-anchor="start" >@ (133)</text>
<text class="sf" transform="translate(341.30 448.30) scale(0.935 1)" font-size="16.36" fill="#e01b26" stroke="#e01b26" stroke-width="0.22" text-anchor="middle" >Satellite peaks from</text>
<text class="sf" transform="translate(341.30 466.40) scale(0.935 1)" font-size="16.36" fill="#e01b26" stroke="#e01b26" stroke-width="0.22" text-anchor="middle" >superlattice layers</text>
<text class="sf" transform="translate(282.30 482.70) scale(0.935 1)" font-size="16.36" fill="#e01b26" stroke="#e01b26" stroke-width="0.22" text-anchor="middle" >(-1)</text>
<text class="sf" transform="translate(340.80 482.70) scale(0.935 1)" font-size="16.36" fill="#e01b26" stroke="#e01b26" stroke-width="0.22" text-anchor="middle" >(0)</text>
<text class="sf" transform="translate(397.30 482.70) scale(0.935 1)" font-size="16.36" fill="#e01b26" stroke="#e01b26" stroke-width="0.22" text-anchor="middle" >(+1)</text>
<text class="sf" transform="translate(376.50 575.00) scale(0.935 1)" font-size="16.36" fill="#111" stroke="#111" stroke-width="0.22" text-anchor="end" >Relaxed top/bottom CdTe</text>
<text class="sf" transform="translate(357.30 593.00) scale(0.935 1)" font-size="16.36" fill="#1b1fd0" stroke="#1b1fd0" stroke-width="0.22" text-anchor="end" >Compressive CdTe in/near DFL region</text>
<rect x="330.3" y="352.2" width="116.2" height="64" fill="#fff" stroke="#555" stroke-width="0.8"/>
<line x1="333" x2="370.6" y1="364.3" y2="364.3" stroke="#177a17" stroke-width="2"/>
<line x1="333" x2="370.6" y1="385.3" y2="385.3" stroke="#ec7fe6" stroke-width="1.1" stroke-dasharray="1.1 0.9"/>
<text class="sf" transform="translate(375.30 369.80) scale(0.935 1)" font-size="17.54" fill="#177a17" stroke="#177a17" stroke-width="0.22" text-anchor="start" >Measured</text>
<text class="sf" transform="translate(375.60 390.70) scale(0.935 1)" font-size="17.54" fill="#e231d4" stroke="#e231d4" stroke-width="0.22" text-anchor="start" >Simulated</text>
<text class="sf" transform="translate(388.70 411.00) scale(0.935 1)" font-size="17.54" fill="#e231d4" stroke="#e231d4" stroke-width="0.22" text-anchor="middle" >(x=0.13, r=13%)</text>
</svg>
</body></html>
